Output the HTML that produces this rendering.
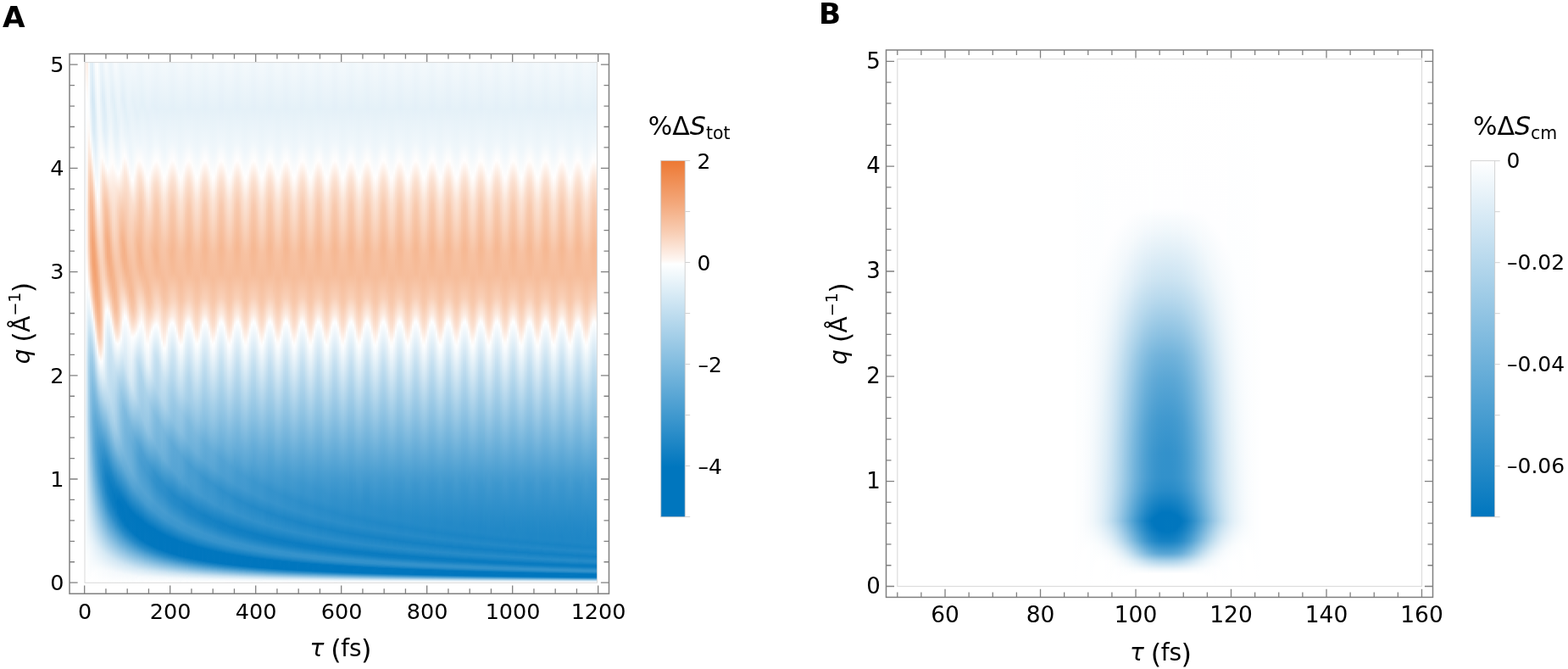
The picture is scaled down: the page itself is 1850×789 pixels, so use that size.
<!DOCTYPE html><html><head><meta charset="utf-8"><title>Figure</title><style>html,body{margin:0;padding:0;background:#fff;}#fig{position:relative;width:1850px;height:789px;overflow:hidden;background:#fff;}svg{position:absolute;left:0;top:0;display:block;}.h{position:absolute;}.h i{position:absolute;top:0;height:100%;width:2px;}</style></head><body><div id="fig"><div class="h" style="left:100px;top:73px;width:605px;height:615px"><i style="left:0px;background:linear-gradient(#fdf1ea,#fdfeff 35.5px,#f6fafd 114.5px,#ffffff 251.5px,#e9f3f9 409.5px,#f3f9fc 517.5px,#ffffff)"></i><i style="left:2px;background:linear-gradient(#fdefe7,#feffff 49.5px,#fdf8f5 110.5px,#fceadf 177.5px,#fdece3 223.5px,#fefefe 258.5px,#cde4f2 353.5px,#c8e1f1 421.5px,#d9ebf5 492.5px,#fcfefe 587.5px,#ffffff)"></i><i style="left:4px;background:linear-gradient(#f7fbfd,#fbfdfe 62.5px,#fef9f6 82.5px,#f9d4bd 139.5px,#f8caaf 173.5px,#f8cdb3 216.5px,#fbdecd 245.5px,#fbfdfe 274.5px,#bddcee 330.5px,#a8d1e9 364.5px,#a5cfe8 423.5px,#b9d9ed 477.5px,#f7fbfd 575.5px,#ffffff)"></i><i style="left:6px;background:linear-gradient(#e4f1f8,#e4f0f8 47.5px,#fbfcfc 91.5px,#fef5f0 101.5px,#f9d0b7 133.5px,#f6b995 164.5px,#f5b188 211.5px,#f6ba97 236.5px,#f9d0b7 258.5px,#fcece1 276.5px,#fdf7f4 282.5px,#f8fbfd 288.5px,#b6d8ec 329.5px,#98c8e5 357.5px,#89bfe1 394.5px,#88bfe1 432.5px,#9bc9e5 473.5px,#f1f7fb 571.5px,#ffffff 611.5px,#ffffff)"></i><i style="left:8px;background:linear-gradient(#e2eff8,#d5e8f4 43.5px,#e0eef7 79.5px,#fafcfd 109.5px,#fdf3ec 119.5px,#f9cfb6 144.5px,#f5b792 170.5px,#f3a374 213.5px,#f3a779 237.5px,#f5b58f 257.5px,#f9d0b8 277.5px,#fdefe7 291.5px,#fcf7f3 295.5px,#f6fafd 300.5px,#a2cde7 347.5px,#80bbdf 382.5px,#70b2db 421.5px,#78b6dd 459.5px,#9ac9e5 498.5px,#eaf4fa 568.5px,#fefeff 603.5px,#ffffff)"></i><i style="left:10px;background:linear-gradient(#f0f7fb,#d6e9f5 49.5px,#d9ebf5 84.5px,#f7fafd 122.5px,#fbfafa 128.5px,#fdf3ec 136.5px,#f9cfb6 162.5px,#f3a678 213.5px,#f2a06e 239.5px,#f3a779 258.5px,#f6ba97 278.5px,#fadac7 296.5px,#fcf5f1 307.5px,#f5f9fc 314.5px,#a4cee8 357.5px,#78b7dd 392.5px,#62abd7 423.5px,#61aad7 456.5px,#79b7dd 488.5px,#e7f2f9 570.5px,#fdfeff 602.5px,#ffffff)"></i><i style="left:12px;background:linear-gradient(#fdfdfe,#dfeef7 65.5px,#e2eff8 103.5px,#fcfcfc 144.5px,#fdf2eb 154.5px,#f9d1b9 185.5px,#f4ac81 225.5px,#f3a272 250.5px,#f4a97c 274.5px,#f6be9c 294.5px,#fbe3d5 314.5px,#fdf4ef 321.5px,#f5f9fc 329.5px,#8ec2e2 383.5px,#62abd7 417.5px,#51a2d3 450.5px,#5ba7d5 477.5px,#7db9de 506.5px,#e2eff8 570.5px,#fcfdfe 599.5px,#ffffff)"></i><i style="left:14px;background:linear-gradient(#fdfefe,#eaf4fa 91.5px,#f5f9fc 140.5px,#fefdfc 159.5px,#f5b28a 240.5px,#f3a87b 264.5px,#f4ad82 287.5px,#f6bd9a 305.5px,#faddcb 325.5px,#fdf6f2 336.5px,#f7fafd 342.5px,#7ab7dd 404.5px,#54a3d3 433.5px,#459bd0 458.5px,#4ea0d2 483.5px,#6fb2da 509.5px,#dfeef7 572.5px,#fbfdfe 599.5px,#ffffff)"></i><i style="left:16px;background:linear-gradient(#f3f9fc,#f4f9fc 86.5px,#fdfcfb 149.5px,#fef6f1 168.5px,#fad6c1 215.5px,#f5b792 257.5px,#f4b087 285.5px,#f5b792 305.5px,#f8ceb4 326.5px,#fcece2 342.5px,#fdfaf8 348.5px,#f9fcfe 351.5px,#70b2db 416.5px,#449acf 448.5px,#3a95cd 471.5px,#489dd0 494.5px,#78b6dd 523.5px,#dcecf6 573.5px,#f9fcfe 598.5px,#ffffff)"></i><i style="left:18px;background:linear-gradient(#ebf4fa,#e7f2f9 44.5px,#fefdfc 112.5px,#fcebe1 147.5px,#fad9c5 217.5px,#f7c09f 281.5px,#f7c1a1 305.5px,#f9d0b8 327.5px,#fce9dd 344.5px,#fefefe 353.5px,#b1d5eb 391.5px,#5fa9d6 430.5px,#3a95cd 455.5px,#3090ca 477.5px,#3c96cd 497.5px,#65acd8 522.5px,#daebf6 575.5px,#f9fcfd 598.5px,#ffffff)"></i><i style="left:20px;background:linear-gradient(#edf5fa,#deedf7 41.5px,#e8f3f9 79.5px,#fffdfc 112.5px,#fbe5d7 134.5px,#f9d5bf 163.5px,#f9d1b9 223.5px,#fad7c2 304.5px,#fbe5d7 331.5px,#fcfdfe 352.5px,#cde4f2 382.5px,#459bd0 447.5px,#2a8cc9 469.5px,#278bc8 489.5px,#3c96cd 509.5px,#75b5dc 536.5px,#d8eaf5 577.5px,#f8fbfd 598.5px,#ffffff)"></i><i style="left:22px;background:linear-gradient(#f4f9fc,#dcecf6 49.5px,#e2eff8 82.5px,#fefdfc 117.5px,#fadbc9 141.5px,#f8c7aa 166.5px,#f6bf9e 207.5px,#f8c9ad 237.5px,#fef4ee 303.5px,#f6fafd 339.5px,#ddedf6 372.5px,#b2d6eb 399.5px,#3894cc 456.5px,#1f87c6 477.5px,#1f86c6 495.5px,#3794cc 515.5px,#71b3db 540.5px,#d5e9f4 578.5px,#f7fafd 598.5px,#ffffff)"></i><i style="left:24px;background:linear-gradient(#f8fbfd,#dfeef7 63.5px,#e7f2f9 95.5px,#fefdfc 123.5px,#fad8c4 147.5px,#f7c1a1 170.5px,#f5b28a 206.5px,#f5b792 229.5px,#f8ccb2 255.5px,#fdefe6 283.5px,#fdfefe 294.5px,#e8f3f9 322.5px,#d2e7f3 377.5px,#b7d8ed 399.5px,#60aad7 440.5px,#288bc8 468.5px,#1581c3 488.5px,#1c85c5 505.5px,#3b96cd 524.5px,#87bee0 552.5px,#d7eaf5 581.5px,#f8fbfd 600.5px,#ffffff)"></i><i style="left:26px;background:linear-gradient(#f4f9fc,#e7f2f9 80.5px,#f5fafd 115.5px,#fffefd 127.5px,#fadac7 151.5px,#f7c1a1 176.5px,#f4ad82 210.5px,#f4ad83 230.5px,#f6bc9a 251.5px,#fbe0cf 277.5px,#fdfeff 292.5px,#dfeef7 317.5px,#cfe5f3 351.5px,#c7e1f1 387.5px,#afd4eb 407.5px,#70b2da 438.5px,#278bc8 471.5px,#117fc2 490.5px,#1481c3 507.5px,#3090ca 525.5px,#6fb1da 548.5px,#d3e7f4 581.5px,#f6fafd 599.5px,#ffffff)"></i><i style="left:28px;background:linear-gradient(#eef6fb,#ecf5fa 71.5px,#fdfefe 122.5px,#fefaf8 129.5px,#f8cdb4 174.5px,#f4ae85 216.5px,#f4ac82 238.5px,#f5b893 256.5px,#f9d1b9 276.5px,#fdf3ed 292.5px,#fdfbfb 296.5px,#f4f9fc 302.5px,#d3e7f4 328.5px,#c7e1f1 353.5px,#c1deef 394.5px,#a0cce7 420.5px,#69aed9 446.5px,#2188c6 478.5px,#0d7dc1 495.5px,#107fc2 511.5px,#2b8dc9 528.5px,#66add8 549.5px,#d1e6f3 582.5px,#f5f9fc 599.5px,#ffffff)"></i><i style="left:30px;background:linear-gradient(#edf5fa,#e5f1f8 42.5px,#fffdfc 120.5px,#f8c7aa 198.5px,#f5b189 230.5px,#f4af86 251.5px,#f6bf9d 272.5px,#fadbc8 290.5px,#fdf9f6 303.5px,#f9fcfd 307.5px,#cfe5f3 338.5px,#c3dff0 365.5px,#bcdbee 401.5px,#9fcce7 426.5px,#68aed8 452.5px,#1d86c5 484.5px,#0a7cc1 500.5px,#0e7ec2 516.5px,#298cc9 532.5px,#65acd8 552.5px,#d2e7f4 584.5px,#f5fafc 600.5px,#ffffff)"></i><i style="left:32px;background:linear-gradient(#f1f7fb,#e2eff7 41.5px,#ecf5fa 81.5px,#fffdfc 118.5px,#fcebe1 145.5px,#f9d5c0 195.5px,#f5b38b 245.5px,#f5b38c 266.5px,#f7c2a2 284.5px,#faddcc 301.5px,#fdf8f5 313.5px,#f8fbfd 318.5px,#cee5f3 348.5px,#bfddef 378.5px,#b4d7ec 412.5px,#9ac9e5 434.5px,#5ea8d6 461.5px,#1983c4 490.5px,#087ac0 506.5px,#0d7dc1 521.5px,#2c8dc9 537.5px,#71b2db 558.5px,#d1e6f3 585.5px,#f4f9fc 600.5px,#ffffff)"></i><i style="left:34px;background:linear-gradient(#f7fafd,#e0eff7 51.5px,#e8f3f9 87.5px,#fefdfc 123.5px,#fceadf 146.5px,#f9d4be 206.5px,#f5b68f 256.5px,#f5b68f 277.5px,#f7c3a4 295.5px,#fbe1d2 313.5px,#fdf9f6 323.5px,#fafcfe 327.5px,#cbe3f2 358.5px,#b9daed 386.5px,#abd2ea 424.5px,#90c3e3 444.5px,#4d9fd2 472.5px,#1682c4 495.5px,#0579bf 511.5px,#0c7cc1 525.5px,#2a8cc9 540.5px,#6eb1da 560.5px,#d0e6f3 586.5px,#f5f9fc 601.5px,#ffffff)"></i><i style="left:36px;background:linear-gradient(#f8fbfd,#e1eff7 66.5px,#ebf4fa 101.5px,#fefdfc 129.5px,#fce7db 149.5px,#fadac7 177.5px,#f8c9ae 232.5px,#f6b994 271.5px,#f6bc99 291.5px,#f8cdb4 308.5px,#fcece1 324.5px,#fdfdfd 331.5px,#c3dff0 366.5px,#b0d4eb 392.5px,#a3cde7 432.5px,#84bde0 453.5px,#2e8fca 487.5px,#0b7cc1 505.5px,#0378bf 520.5px,#1380c3 534.5px,#3b96cd 549.5px,#d3e7f4 588.5px,#f5fafd 602.5px,#ffffff)"></i><i style="left:38px;background:linear-gradient(#f4f9fc,#e5f1f8 82.5px,#f3f9fc 117.5px,#fffefe 132.5px,#fce6d8 150.5px,#f9d3bd 175.5px,#f8caaf 216.5px,#f7c2a2 288.5px,#f8ccb1 305.5px,#fbe2d3 321.5px,#fefaf8 331.5px,#fffffe 332.5px,#b8d9ed 372.5px,#a4cee8 396.5px,#99c8e5 438.5px,#7ebade 458.5px,#3f98ce 484.5px,#0f7ec2 504.5px,#0076be 518.5px,#0679c0 531.5px,#258ac7 545.5px,#68aed8 563.5px,#cfe5f3 588.5px,#f5f9fc 602.5px,#ffffff)"></i><i style="left:40px;background:linear-gradient(#f0f7fb,#e9f3f9 69.5px,#f3f8fc 113.5px,#fffefd 131.5px,#fadac7 159.5px,#f8c8ac 185.5px,#f7c09f 211.5px,#f9d3bc 298.5px,#fce6d9 318.5px,#fdfefe 331.5px,#aad1e9 379.5px,#96c7e4 404.5px,#90c3e3 443.5px,#78b6dc 463.5px,#3e97ce 487.5px,#0c7cc1 508.5px,#0076be 519.5px,#0478bf 534.5px,#2188c6 547.5px,#63abd7 564.5px,#cfe5f3 589.5px,#f4f9fc 602.5px,#ffffff)"></i><i style="left:42px;background:linear-gradient(#eff6fb,#e5f1f8 43.5px,#f8fbfd 110.5px,#fefdfc 124.5px,#f8ccb1 173.5px,#f5b893 207.5px,#f6b995 229.5px,#fceadf 305.5px,#fbfdfe 326.5px,#c3dff0 362.5px,#98c8e5 390.5px,#89c0e1 413.5px,#85bee0 450.5px,#6fb2da 469.5px,#3592cb 493.5px,#077ac0 513.5px,#0076be 522.5px,#0478bf 538.5px,#258ac7 551.5px,#6cb0da 568.5px,#cfe5f3 590.5px,#f3f8fc 602.5px,#ffffff 613.5px,#ffffff)"></i><i style="left:44px;background:linear-gradient(#f0f7fb,#e2eff8 44.5px,#f0f7fb 87.5px,#fefdfc 114.5px,#f8c9ad 176.5px,#f5b28a 213.5px,#f5b48d 233.5px,#f7c5a7 256.5px,#fdfcfc 307.5px,#e6f1f9 338.5px,#aed4ea 375.5px,#85bde0 406.5px,#80bbdf 429.5px,#7cb9de 458.5px,#65acd8 476.5px,#0579bf 516.5px,#0076be 526.5px,#0378bf 541.5px,#2389c7 553.5px,#69aed9 569.5px,#d0e6f3 591.5px,#f4f9fc 603.5px,#ffffff)"></i><i style="left:46px;background:linear-gradient(#f2f8fc,#e1eff7 51.5px,#edf5fa 86.5px,#fffefe 111.5px,#fce9de 129.5px,#f8ccb2 175.5px,#f5b189 221.5px,#f5b48d 242.5px,#f8c8ab 264.5px,#fdefe7 291.5px,#fefeff 300.5px,#d4e8f4 354.5px,#80bbdf 410.5px,#78b7dd 432.5px,#77b6dc 463.5px,#62abd7 480.5px,#0478bf 519.5px,#0076be 539.5px,#077ac0 546.5px,#2e8fca 558.5px,#94c5e4 579.5px,#d8eaf5 594.5px,#f7fbfd 605.5px,#ffffff)"></i><i style="left:48px;background:linear-gradient(#f3f8fc,#e2f0f8 62.5px,#eff7fb 95.5px,#fefdfd 114.5px,#fbe4d6 136.5px,#f9d2bb 167.5px,#f7c5a8 197.5px,#f5b48d 231.5px,#f5b690 250.5px,#f8caaf 272.5px,#fdf3ed 296.5px,#fdfeff 302.5px,#e7f2f9 332.5px,#d0e5f3 364.5px,#7db9de 415.5px,#74b4db 437.5px,#73b4db 468.5px,#5ea8d6 485.5px,#0377bf 522.5px,#0277be 546.5px,#268ac8 558.5px,#73b4db 574.5px,#cde4f2 592.5px,#f2f8fc 603.5px,#ffffff 613.5px,#ffffff)"></i><i style="left:50px;background:linear-gradient(#f2f8fc,#e5f1f8 72.5px,#f3f8fc 106.5px,#fefcfc 121.5px,#fbe1d2 146.5px,#f9d4be 172.5px,#f8c9ad 205.5px,#f5b690 245.5px,#f6bc99 264.5px,#f9cfb6 282.5px,#fef4ef 303.5px,#fdfdfe 309.5px,#e5f1f8 346.5px,#d1e6f3 371.5px,#9bcae6 401.5px,#7ab8dd 422.5px,#70b2db 444.5px,#70b2db 473.5px,#5ca7d5 489.5px,#0277be 525.5px,#0177be 548.5px,#2389c7 559.5px,#6cb0d9 574.5px,#cfe5f3 593.5px,#f4f9fc 604.5px,#ffffff)"></i><i style="left:52px;background:linear-gradient(#f2f8fc,#e7f2f9 62.5px,#eef6fb 105.5px,#fefcfc 130.5px,#fbe1d2 156.5px,#f9d5bf 184.5px,#f7c0a0 233.5px,#f5b893 256.5px,#f6be9c 275.5px,#f9d5be 294.5px,#fefbfa 316.5px,#f8fbfd 323.5px,#d7eaf5 373.5px,#afd4eb 397.5px,#7db9de 423.5px,#6db1da 443.5px,#6db1da 478.5px,#57a5d4 494.5px,#0176be 528.5px,#0378bf 551.5px,#288cc8 562.5px,#7bb8dd 578.5px,#d0e6f3 594.5px,#f3f9fc 604.5px,#ffffff 613.5px,#ffffff)"></i><i style="left:54px;background:linear-gradient(#f3f9fc,#e7f2f9 46.5px,#f0f7fb 113.5px,#fffdfc 138.5px,#fbe2d3 162.5px,#f9d2bb 192.5px,#f6be9d 245.5px,#f6b995 270.5px,#f7c4a5 288.5px,#faddcb 306.5px,#fdfeff 324.5px,#e7f2f9 353.5px,#d2e7f3 381.5px,#a4cee8 406.5px,#78b6dc 430.5px,#69aed9 448.5px,#6aafd9 482.5px,#54a3d4 498.5px,#0176be 530.5px,#0378bf 553.5px,#2a8cc9 564.5px,#81bbdf 580.5px,#d2e7f4 595.5px,#f5fafc 605.5px,#ffffff)"></i><i style="left:56px;background:linear-gradient(#f4f9fc,#e5f1f8 47.5px,#f5fafc 120.5px,#fffefe 139.5px,#fbddcc 170.5px,#f8caaf 205.5px,#f6bd9a 275.5px,#f7c6a9 293.5px,#fbdfce 310.5px,#fffbfa 323.5px,#fdfeff 325.5px,#e2eff8 351.5px,#cbe3f2 386.5px,#a3cee8 409.5px,#70b2da 436.5px,#63abd7 453.5px,#66add8 486.5px,#53a2d3 501.5px,#0176be 532.5px,#0377bf 555.5px,#278bc8 565.5px,#7bb8dd 580.5px,#cfe5f3 595.5px,#f4f9fc 605.5px,#ffffff)"></i><i style="left:58px;background:linear-gradient(#f4f9fc,#e4f0f8 54.5px,#f3f9fc 104.5px,#fefdfc 130.5px,#f8cdb3 189.5px,#f7c2a2 214.5px,#f7c5a8 284.5px,#f9d2bb 300.5px,#fdeee5 316.5px,#fdfeff 323.5px,#d8eaf5 350.5px,#bedcee 394.5px,#93c5e3 418.5px,#65acd8 443.5px,#5ca8d5 460.5px,#62abd7 489.5px,#52a2d3 503.5px,#1984c4 524.5px,#0076be 534.5px,#0378bf 557.5px,#2a8cc9 567.5px,#87bfe0 583.5px,#d6e9f5 597.5px,#f6fafd 606.5px,#ffffff)"></i><i style="left:60px;background:linear-gradient(#f2f8fc,#e4f0f8 60.5px,#f1f7fb 97.5px,#fefdfc 119.5px,#fbdfcf 155.5px,#f6bd9a 210.5px,#f6bd9a 233.5px,#f9d3bc 292.5px,#fce5d8 307.5px,#fdfefe 320.5px,#cbe3f2 351.5px,#bedcee 377.5px,#b3d6ec 399.5px,#8cc1e2 422.5px,#5da8d6 447.5px,#55a4d4 463.5px,#5ea8d6 493.5px,#4d9fd2 507.5px,#0076be 536.5px,#0176be 558.5px,#2389c7 567.5px,#75b5dc 581.5px,#cfe5f3 596.5px,#f3f8fc 605.5px,#ffffff 613.5px,#ffffff)"></i><i style="left:62px;background:linear-gradient(#f0f7fb,#e4f1f8 63.5px,#f1f7fb 97.5px,#fffdfc 116.5px,#fce6d9 135.5px,#f9cfb6 170.5px,#f5b690 218.5px,#f6ba96 240.5px,#fbe3d5 298.5px,#fef9f6 312.5px,#fbfdfe 317.5px,#bfdcef 355.5px,#b2d6eb 378.5px,#abd2ea 401.5px,#8dc2e2 422.5px,#58a5d4 450.5px,#4fa0d2 466.5px,#5aa6d5 496.5px,#4c9fd1 509.5px,#1883c4 528.5px,#0076be 537.5px,#0177be 560.5px,#2b8dc9 570.5px,#9dcae6 588.5px,#dbecf6 599.5px,#f9fcfe 608.5px,#ffffff)"></i><i style="left:64px;background:linear-gradient(#f0f7fb,#e5f1f8 55.5px,#eef6fb 94.5px,#fffdfc 116.5px,#fbe3d4 135.5px,#f8ceb4 162.5px,#f6be9c 199.5px,#f5b38c 226.5px,#f6ba96 247.5px,#fcece2 298.5px,#fefeff 311.5px,#dcecf6 336.5px,#b4d7ec 362.5px,#aad1e9 384.5px,#a4cee8 406.5px,#89c0e1 426.5px,#52a2d3 454.5px,#4a9ed1 469.5px,#57a5d4 500.5px,#479cd0 513.5px,#0076be 539.5px,#0377bf 562.5px,#2a8dc9 571.5px,#98c8e5 588.5px,#daebf5 599.5px,#f7fbfd 607.5px,#ffffff)"></i><i style="left:66px;background:linear-gradient(#f0f7fb,#e4f1f8 49.5px,#f0f7fb 96.5px,#fffdfd 118.5px,#fbdfce 141.5px,#f8ccb2 165.5px,#f6bb98 211.5px,#f5b58f 237.5px,#f6be9c 255.5px,#faddcb 284.5px,#fffdfc 307.5px,#e6f2f9 333.5px,#afd4eb 370.5px,#a6cfe8 393.5px,#9ac9e5 417.5px,#7ab7dd 436.5px,#4fa0d2 458.5px,#479cd0 473.5px,#55a4d4 502.5px,#479cd0 515.5px,#0076be 540.5px,#0177be 563.5px,#2a8cc9 572.5px,#94c5e4 588.5px,#d8eaf5 599.5px,#f6fafd 607.5px,#ffffff)"></i><i style="left:68px;background:linear-gradient(#f2f8fc,#e4f1f8 50.5px,#f2f8fc 101.5px,#fefdfd 122.5px,#fadac7 153.5px,#f8ccb2 177.5px,#f6b893 243.5px,#f7c09f 262.5px,#fadac6 285.5px,#fefdfc 312.5px,#e8f3f9 338.5px,#add3ea 379.5px,#98c7e5 422.5px,#78b7dd 440.5px,#4d9fd2 462.5px,#459bd0 477.5px,#54a3d3 505.5px,#479cd0 517.5px,#1380c3 535.5px,#0076be 542.5px,#0176be 564.5px,#298cc9 573.5px,#8fc3e2 588.5px,#d6e9f4 599.5px,#f6fafd 607.5px,#ffffff)"></i><i style="left:70px;background:linear-gradient(#f3f9fc,#e4f1f8 55.5px,#f5f9fc 109.5px,#fefdfc 129.5px,#fad9c6 165.5px,#f7c6a8 213.5px,#f6ba96 252.5px,#f7c3a4 272.5px,#fefcfa 321.5px,#f9fcfd 332.5px,#d8eaf5 358.5px,#aed4ea 385.5px,#96c7e4 427.5px,#73b4db 446.5px,#4b9ed1 466.5px,#449acf 480.5px,#53a3d3 508.5px,#459bd0 520.5px,#0076be 544.5px,#0378bf 566.5px,#2f8fca 575.5px,#cee5f3 598.5px,#f3f8fc 606.5px,#ffffff 613.5px,#ffffff)"></i><i style="left:72px;background:linear-gradient(#f4f9fc,#e5f1f8 60.5px,#f4f9fc 112.5px,#fffdfc 136.5px,#fadac7 175.5px,#f8c8ab 215.5px,#f6bb97 258.5px,#f7c2a2 277.5px,#fefdfd 332.5px,#e8f3f9 355.5px,#acd3ea 391.5px,#94c5e4 432.5px,#69afd9 453.5px,#479cd0 471.5px,#429acf 485.5px,#53a2d3 510.5px,#459bd0 522.5px,#0076be 545.5px,#0377bf 567.5px,#3090ca 576.5px,#cce4f2 598.5px,#f2f8fc 606.5px,#ffffff 613.5px,#ffffff)"></i><i style="left:74px;background:linear-gradient(#f4f9fc,#e5f1f8 62.5px,#f1f7fb 107.5px,#fffefe 137.5px,#f9d4be 189.5px,#f7c6a8 219.5px,#f6bc99 266.5px,#f7c5a7 285.5px,#fefefe 333.5px,#e8f3f9 358.5px,#a8d0e9 396.5px,#9ac9e5 422.5px,#8bc1e2 439.5px,#459bd0 473.5px,#3f98ce 487.5px,#51a2d3 512.5px,#469cd0 523.5px,#1b84c5 538.5px,#0076be 547.5px,#0277bf 568.5px,#2a8dc9 576.5px,#98c8e5 591.5px,#dbecf6 601.5px,#f7fbfd 608.5px,#ffffff)"></i><i style="left:76px;background:linear-gradient(#f3f9fc,#e6f1f9 57.5px,#eef6fb 100.5px,#fefdfd 131.5px,#fad9c6 179.5px,#f7c4a6 214.5px,#f7c09f 272.5px,#f8caae 290.5px,#fce8dc 311.5px,#fdfcfc 324.5px,#e0eef7 362.5px,#9fcbe7 402.5px,#8cc1e2 438.5px,#6bb0d9 456.5px,#4299cf 476.5px,#3c96cd 489.5px,#50a1d2 514.5px,#459bd0 525.5px,#1c85c5 539.5px,#0076be 548.5px,#0277be 569.5px,#2b8dc9 577.5px,#cee4f2 599.5px,#f1f7fb 606.5px,#ffffff 613.5px,#ffffff)"></i><i style="left:78px;background:linear-gradient(#f3f8fc,#e5f1f8 52.5px,#eff6fb 99.5px,#fefdfc 125.5px,#fce5d8 149.5px,#f6bf9e 217.5px,#f7c1a0 250.5px,#f8c9ad 283.5px,#fadac7 299.5px,#fdfefe 318.5px,#e2eff8 345.5px,#cde4f2 371.5px,#95c6e4 407.5px,#85bde0 442.5px,#64acd7 460.5px,#3d97ce 479.5px,#3894cc 492.5px,#4da0d2 516.5px,#439acf 527.5px,#1a84c5 541.5px,#0076be 549.5px,#0177be 570.5px,#2c8ec9 578.5px,#cbe3f2 599.5px,#f0f7fb 606.5px,#ffffff 613.5px,#ffffff)"></i><i style="left:80px;background:linear-gradient(#f2f8fc,#e4f1f8 52.5px,#f1f8fb 99.5px,#fffefd 120.5px,#fbe1d2 144.5px,#f9d0b7 171.5px,#f6b995 223.5px,#f7c09f 250.5px,#f9d4bd 288.5px,#fce7da 302.5px,#fdfeff 313.5px,#d6e9f5 342.5px,#c0ddef 376.5px,#8bc1e1 412.5px,#7db9de 446.5px,#5fa9d6 463.5px,#3894cc 482.5px,#3492cb 494.5px,#4b9ed1 518.5px,#4199cf 529.5px,#1782c4 543.5px,#0076be 550.5px,#0177be 571.5px,#2d8eca 579.5px,#d0e6f3 600.5px,#f3f9fc 607.5px,#ffffff 613.5px,#ffffff)"></i><i style="left:82px;background:linear-gradient(#f1f7fb,#e4f0f8 54.5px,#f2f8fc 97.5px,#fffefe 117.5px,#faddcb 144.5px,#f8cbb0 168.5px,#f5b690 226.5px,#f6bd9b 249.5px,#faddcb 291.5px,#fdf1ea 304.5px,#fdfeff 310.5px,#cae3f2 345.5px,#b6d8ed 381.5px,#84bde0 416.5px,#77b6dc 450.5px,#58a5d4 467.5px,#3492cb 485.5px,#3291cb 497.5px,#499dd1 520.5px,#4199cf 530.5px,#1c85c5 543.5px,#0076be 551.5px,#0177be 572.5px,#2f8fca 580.5px,#cee5f2 600.5px,#f3f8fc 607.5px,#ffffff 613.5px,#ffffff)"></i><i style="left:84px;background:linear-gradient(#f0f7fb,#e4f0f8 56.5px,#f1f8fc 96.5px,#fffefe 116.5px,#fbddcc 143.5px,#f8c9ad 169.5px,#f5b690 229.5px,#f6bc9a 251.5px,#fbe0d1 291.5px,#fef6f1 305.5px,#feffff 309.5px,#c5e0f0 349.5px,#b1d5eb 386.5px,#80bbdf 419.5px,#72b3db 454.5px,#52a2d3 471.5px,#3191cb 488.5px,#3090ca 500.5px,#489dd0 522.5px,#4098ce 532.5px,#1983c4 545.5px,#0076be 553.5px,#0277be 573.5px,#2a8cc9 580.5px,#cce4f2 600.5px,#f2f8fc 607.5px,#ffffff 613.5px,#ffffff)"></i><i style="left:86px;background:linear-gradient(#f1f7fb,#e4f1f8 56.5px,#f0f7fb 95.5px,#fffefd 118.5px,#fbdecc 147.5px,#f8caae 174.5px,#f6b994 232.5px,#f6bd9a 253.5px,#fad7c2 283.5px,#fdf4ee 306.5px,#fdfefe 313.5px,#c6e0f0 353.5px,#b0d4eb 391.5px,#7fbade 422.5px,#6fb2da 458.5px,#4c9fd1 476.5px,#2f90ca 491.5px,#3090ca 503.5px,#489cd0 524.5px,#3f98ce 534.5px,#1782c4 547.5px,#0076be 554.5px,#0277bf 574.5px,#2c8ec9 581.5px,#cae2f1 600.5px,#f2f8fc 607.5px,#ffffff 613.5px,#ffffff)"></i><i style="left:88px;background:linear-gradient(#f2f8fc,#e5f1f8 55.5px,#eff6fb 96.5px,#fefdfd 122.5px,#fadbc8 159.5px,#f7c5a7 201.5px,#f6bb98 249.5px,#f8c8ab 272.5px,#fef6f2 315.5px,#fbfdfe 323.5px,#cae2f1 359.5px,#b2d6eb 394.5px,#7fbade 426.5px,#6eb1da 461.5px,#4a9ed1 479.5px,#2f8fca 493.5px,#2f8fca 505.5px,#479cd0 526.5px,#3e97ce 536.5px,#1481c3 549.5px,#0076be 555.5px,#0076be 574.5px,#2087c6 580.5px,#72b3db 590.5px,#cfe5f3 601.5px,#f1f7fb 607.5px,#ffffff 613.5px,#ffffff)"></i><i style="left:90px;background:linear-gradient(#f3f9fc,#e5f1f8 54.5px,#eff6fb 100.5px,#fefdfc 129.5px,#fbdecc 167.5px,#f7c5a8 212.5px,#f6bc9a 254.5px,#f7c5a8 275.5px,#fdf3ed 323.5px,#fcfefe 331.5px,#cbe3f2 367.5px,#b3d6ec 398.5px,#7ebade 430.5px,#75b5dc 453.5px,#67aed8 468.5px,#3090ca 494.5px,#2d8eca 505.5px,#479cd0 528.5px,#3f98ce 537.5px,#1983c4 549.5px,#0076be 556.5px,#0076be 575.5px,#2a8dc9 582.5px,#cde4f2 601.5px,#f0f7fb 607.5px,#ffffff 613.5px,#ffffff)"></i><i style="left:92px;background:linear-gradient(#f4f9fc,#e5f1f8 55.5px,#f0f7fb 106.5px,#fffefd 135.5px,#fce6d9 163.5px,#f7c6a9 215.5px,#f6bc9a 258.5px,#f7c4a6 279.5px,#fdf2ec 329.5px,#fdfefe 337.5px,#c9e2f1 373.5px,#afd4eb 403.5px,#7bb8dd 434.5px,#6bb0d9 467.5px,#489dd0 484.5px,#2e8fca 497.5px,#2d8eca 508.5px,#479cd0 529.5px,#3f98ce 538.5px,#1d86c5 549.5px,#0076be 557.5px,#0177be 576.5px,#2d8ec9 583.5px,#cce3f2 601.5px,#f0f7fb 607.5px,#ffffff 613.5px,#ffffff)"></i><i style="left:94px;background:linear-gradient(#f4f9fc,#e5f1f8 56.5px,#f0f7fb 108.5px,#fffefd 135.5px,#fce8dc 159.5px,#f7c4a6 219.5px,#f6be9c 262.5px,#f7c6a8 283.5px,#fef8f5 332.5px,#fdfefe 337.5px,#c3dff0 378.5px,#abd2e9 407.5px,#77b6dc 438.5px,#68aed9 470.5px,#449bcf 487.5px,#2c8ec9 500.5px,#2d8ec9 511.5px,#469cd0 531.5px,#3e97ce 540.5px,#1682c4 552.5px,#0076be 558.5px,#0277bf 577.5px,#3090ca 584.5px,#cae2f1 601.5px,#eff7fb 607.5px,#fefeff 612.5px,#ffffff)"></i><i style="left:96px;background:linear-gradient(#f3f9fc,#e5f1f8 57.5px,#f2f8fc 106.5px,#fefdfc 130.5px,#fbe2d3 159.5px,#f7c0a0 222.5px,#f7c0a0 263.5px,#f8c9ad 284.5px,#fbe4d6 306.5px,#fdfbf9 324.5px,#f9fcfd 333.5px,#d7e9f5 360.5px,#b9daed 383.5px,#a4cee8 410.5px,#70b2db 442.5px,#65acd8 472.5px,#449bcf 488.5px,#2a8cc9 502.5px,#2b8dc9 513.5px,#459bcf 532.5px,#3d97ce 541.5px,#1a84c5 552.5px,#0076be 559.5px,#0076be 577.5px,#2489c7 583.5px,#7ebade 593.5px,#d0e6f3 602.5px,#f3f9fc 608.5px,#ffffff 613.5px,#ffffff)"></i><i style="left:98px;background:linear-gradient(#f2f8fc,#e5f1f8 56.5px,#f1f7fb 99.5px,#fefdfc 123.5px,#fadcca 156.5px,#f6bd9b 221.5px,#f6bf9e 250.5px,#f8ccb2 282.5px,#fbe1d2 299.5px,#fdfcfc 314.5px,#d1e6f3 359.5px,#b0d5eb 385.5px,#9bcae6 414.5px,#6aafd9 445.5px,#60a9d6 475.5px,#3f98ce 491.5px,#278bc8 504.5px,#298cc9 515.5px,#439acf 534.5px,#3b96cd 543.5px,#117fc2 555.5px,#0076be 560.5px,#0176be 578.5px,#278bc8 584.5px,#8ec3e2 595.5px,#d5e9f4 603.5px,#f7fafd 609.5px,#ffffff)"></i><i style="left:100px;background:linear-gradient(#f1f7fb,#e4f1f8 54.5px,#eff7fb 94.5px,#fffdfd 118.5px,#fbdecd 146.5px,#f8cbb1 172.5px,#f6b994 226.5px,#f6bf9e 252.5px,#f9d3bc 284.5px,#fce8dc 299.5px,#fdfeff 309.5px,#daebf5 341.5px,#bbdaee 370.5px,#a5cfe8 392.5px,#93c5e4 418.5px,#64acd8 447.5px,#5ca7d5 477.5px,#3f98ce 492.5px,#258ac7 506.5px,#288bc8 517.5px,#4299cf 535.5px,#3a95cd 544.5px,#1581c3 555.5px,#0076be 561.5px,#0277bf 579.5px,#2b8dc9 585.5px,#cce4f2 602.5px,#f2f8fc 608.5px,#ffffff 613.5px,#ffffff)"></i><i style="left:102px;background:linear-gradient(#f0f7fb,#e4f0f8 54.5px,#f0f7fb 94.5px,#fffdfc 116.5px,#fbe0d1 140.5px,#f8c9ad 170.5px,#f5b792 223.5px,#f6bc99 249.5px,#fad6c1 284.5px,#fcece2 299.5px,#fefeff 307.5px,#d4e8f4 339.5px,#b8d9ed 370.5px,#a0cce7 394.5px,#8dc2e2 422.5px,#60a9d6 450.5px,#58a5d5 480.5px,#3693cc 497.5px,#2288c7 509.5px,#288cc8 520.5px,#4199cf 536.5px,#3a95cd 545.5px,#1581c3 556.5px,#0076be 562.5px,#0076be 579.5px,#1f86c6 584.5px,#69aed9 592.5px,#cbe3f2 602.5px,#f2f8fc 608.5px,#ffffff 613.5px,#ffffff)"></i><i style="left:104px;background:linear-gradient(#f1f7fb,#e4f0f8 54.5px,#f0f7fb 95.5px,#fffefe 116.5px,#fbe3d5 138.5px,#f8caaf 170.5px,#f6b995 218.5px,#f6bb97 247.5px,#f9d5bf 282.5px,#fdece3 300.5px,#fefefe 308.5px,#d0e6f3 344.5px,#b9d9ed 372.5px,#9bc9e6 400.5px,#8ac0e1 425.5px,#5da8d6 453.5px,#57a5d4 482.5px,#3592cb 499.5px,#2188c6 511.5px,#268bc8 521.5px,#4199cf 538.5px,#3a95cd 546.5px,#1983c4 556.5px,#0076be 562.5px,#0176be 580.5px,#2b8dc9 586.5px,#c9e2f1 602.5px,#f1f8fc 608.5px,#ffffff 613.5px,#ffffff)"></i><i style="left:106px;background:linear-gradient(#f1f8fc,#e4f1f8 55.5px,#f1f7fb 98.5px,#fffdfc 120.5px,#fbe1d2 145.5px,#f8ccb2 177.5px,#f6bc9a 219.5px,#f6bd9a 251.5px,#f9d1b9 280.5px,#fcebe1 303.5px,#fdfdfd 314.5px,#d3e7f4 348.5px,#bcdbee 375.5px,#9ac9e5 404.5px,#89c0e1 429.5px,#5da8d6 455.5px,#56a4d4 484.5px,#3693cc 500.5px,#2188c7 512.5px,#258ac8 522.5px,#4199ce 539.5px,#3a95cd 547.5px,#1983c4 557.5px,#0076be 563.5px,#0076be 580.5px,#1782c4 584.5px,#56a4d4 591.5px,#c7e1f1 602.5px,#f1f7fb 608.5px,#ffffff 613.5px,#ffffff)"></i><i style="left:108px;background:linear-gradient(#f3f8fc,#e5f1f8 56.5px,#f1f8fb 102.5px,#fefdfd 125.5px,#fbe0cf 157.5px,#f7c2a2 214.5px,#f6bd9b 252.5px,#f8caaf 277.5px,#fce8db 308.5px,#fcfdfe 323.5px,#daebf6 352.5px,#c0ddef 379.5px,#9ccae6 406.5px,#8bc1e1 431.5px,#5ca7d5 458.5px,#56a4d4 486.5px,#3693cc 502.5px,#2188c6 514.5px,#268ac8 524.5px,#4099ce 540.5px,#3b96cd 548.5px,#1883c4 558.5px,#0076be 564.5px,#0076be 581.5px,#2c8dc9 587.5px,#cee5f3 603.5px,#f0f7fb 608.5px,#ffffff 613.5px,#ffffff)"></i><i style="left:110px;background:linear-gradient(#f4f9fc,#e5f1f8 56.5px,#f0f7fb 105.5px,#fffdfc 133.5px,#fbe3d5 162.5px,#f7c3a4 220.5px,#f6bd9b 256.5px,#f8c8ab 280.5px,#fce6da 316.5px,#fcfdfe 331.5px,#dbecf6 360.5px,#c0ddef 384.5px,#9dcae6 408.5px,#8ac0e1 434.5px,#5ca7d5 460.5px,#59a6d5 478.5px,#51a2d3 491.5px,#2288c7 514.5px,#2489c7 524.5px,#4098ce 541.5px,#3b96cd 549.5px,#1c85c5 558.5px,#0076be 565.5px,#0378bf 582.5px,#3190ca 588.5px,#cde4f2 603.5px,#f0f7fb 608.5px,#ffffff 613.5px,#ffffff)"></i><i style="left:112px;background:linear-gradient(#f4f9fc,#e5f1f8 57.5px,#f0f7fb 107.5px,#fffdfc 137.5px,#fbe4d5 166.5px,#f7c3a3 224.5px,#f6bd9b 258.5px,#f7c6a9 282.5px,#fce6da 320.5px,#fef9f6 331.5px,#fefeff 334.5px,#d9ebf5 365.5px,#bbdbee 389.5px,#9bc9e6 411.5px,#89c0e1 436.5px,#5aa6d5 463.5px,#54a3d3 490.5px,#3995cc 504.5px,#2188c6 516.5px,#2389c7 525.5px,#4099ce 543.5px,#3894cc 551.5px,#1380c3 561.5px,#0076be 566.5px,#0076be 582.5px,#2489c7 587.5px,#82bcdf 596.5px,#d4e8f4 604.5px,#f4f9fc 609.5px,#ffffff)"></i><i style="left:114px;background:linear-gradient(#f4f9fc,#e5f1f8 56.5px,#f0f7fb 104.5px,#fffdfc 134.5px,#fbe2d3 165.5px,#f7c1a1 225.5px,#f6be9d 259.5px,#f8c7aa 282.5px,#fdf1e9 324.5px,#fdfefe 333.5px,#d4e8f4 366.5px,#b8d9ed 391.5px,#97c7e4 414.5px,#86bee0 438.5px,#57a5d4 465.5px,#55a4d4 483.5px,#4d9fd2 496.5px,#2187c6 517.5px,#2188c6 526.5px,#4098ce 544.5px,#3894cc 552.5px,#1280c3 562.5px,#0076be 566.5px,#0377bf 583.5px,#3391cb 589.5px,#c9e2f1 603.5px,#eff6fb 608.5px,#ffffff 613.5px,#ffffff)"></i><i style="left:116px;background:linear-gradient(#f3f8fc,#e5f1f8 55.5px,#f0f7fb 100.5px,#fefdfc 127.5px,#fbdecc 161.5px,#f6bf9e 224.5px,#f7c09f 256.5px,#f8caaf 281.5px,#fce6d9 305.5px,#fdfbf9 322.5px,#f7fbfd 330.5px,#cae2f1 368.5px,#b0d5eb 394.5px,#90c3e3 417.5px,#80bbdf 441.5px,#53a2d3 467.5px,#52a2d3 484.5px,#4b9fd1 497.5px,#1e86c6 519.5px,#2188c6 528.5px,#3f98ce 545.5px,#3995cd 552.5px,#1a84c5 561.5px,#0076be 567.5px,#0076be 583.5px,#258ac7 588.5px,#87bfe0 597.5px,#d1e6f3 604.5px,#f4f9fc 609.5px,#ffffff 613.5px,#ffffff)"></i><i style="left:118px;background:linear-gradient(#f2f8fc,#e5f1f8 55.5px,#f1f7fb 98.5px,#fefdfd 120.5px,#fbdfcf 149.5px,#f8ccb1 180.5px,#f6bb98 226.5px,#f7c09f 254.5px,#f9ceb5 281.5px,#fce6d9 299.5px,#fefbfa 310.5px,#f9fcfd 317.5px,#bedcee 371.5px,#a9d1e9 396.5px,#88bfe1 420.5px,#79b7dd 444.5px,#4ea0d2 470.5px,#4c9fd1 496.5px,#3391cb 509.5px,#1c85c5 521.5px,#2187c6 530.5px,#3e97ce 546.5px,#3994cc 553.5px,#1883c4 562.5px,#0076be 568.5px,#0377bf 584.5px,#3592cb 590.5px,#c6e1f1 603.5px,#eef6fb 608.5px,#fdfeff 612.5px,#ffffff)"></i><i style="left:120px;background:linear-gradient(#f1f7fb,#e4f0f8 54.5px,#f0f7fb 95.5px,#fffdfd 117.5px,#fbe2d2 140.5px,#f8cbb0 170.5px,#f6b994 220.5px,#f6bc99 248.5px,#f9d1b9 280.5px,#fce8dd 297.5px,#fdfeff 307.5px,#b6d8ec 372.5px,#a5cfe8 397.5px,#83bcdf 422.5px,#73b4db 447.5px,#4a9ed1 472.5px,#4a9ed1 498.5px,#3090ca 511.5px,#1b85c5 522.5px,#1f87c6 531.5px,#3d97ce 547.5px,#3894cc 554.5px,#1782c4 563.5px,#0076be 568.5px,#0076be 584.5px,#278bc8 589.5px,#99c8e5 599.5px,#d7eaf5 605.5px,#f7fbfd 610.5px,#ffffff)"></i><i style="left:122px;background:linear-gradient(#f0f7fb,#e4f0f8 54.5px,#f0f7fb 94.5px,#fffefd 116.5px,#fbe1d1 139.5px,#f8caae 169.5px,#f6b893 217.5px,#f6bb98 247.5px,#f9d2bb 280.5px,#fceadf 297.5px,#fefeff 306.5px,#b5d7ec 370.5px,#a2cde7 399.5px,#7fbade 425.5px,#6fb2da 450.5px,#479cd0 474.5px,#489dd0 500.5px,#2b8dc9 514.5px,#1a84c5 524.5px,#2087c6 533.5px,#3d97cd 548.5px,#3794cc 555.5px,#1582c3 564.5px,#0076be 569.5px,#0076be 584.5px,#1280c3 587.5px,#4ea0d2 593.5px,#c3dff0 603.5px,#edf5fa 608.5px,#fdfeff 612.5px,#ffffff)"></i><i style="left:124px;background:linear-gradient(#f1f7fb,#e4f1f8 54.5px,#f0f7fb 95.5px,#fffdfc 118.5px,#fbe0d0 143.5px,#f8cbb0 172.5px,#f6ba96 218.5px,#f6bd9a 250.5px,#f9d2bb 281.5px,#fceadf 299.5px,#fdfeff 309.5px,#b2d5eb 378.5px,#a1cce7 402.5px,#7ebade 428.5px,#6db1da 453.5px,#469cd0 476.5px,#499dd1 493.5px,#449bcf 504.5px,#1b84c5 524.5px,#1d86c5 533.5px,#3d97cd 549.5px,#3793cc 556.5px,#1481c3 565.5px,#0177be 569.5px,#0176be 585.5px,#2a8cc9 590.5px,#cce3f2 604.5px,#f2f8fc 609.5px,#ffffff 613.5px,#ffffff)"></i><i style="left:126px;background:linear-gradient(#f2f8fc,#e5f1f8 55.5px,#f0f7fb 98.5px,#fefdfc 122.5px,#fbdfce 152.5px,#f7c5a6 199.5px,#f6bc99 233.5px,#f7c09f 257.5px,#f9d2bb 285.5px,#fce9de 304.5px,#fdfcfb 315.5px,#f2f8fc 325.5px,#b1d5eb 387.5px,#9ccae6 409.5px,#7ebade 431.5px,#6db1da 455.5px,#469cd0 478.5px,#489dd0 494.5px,#459bd0 505.5px,#1a84c5 526.5px,#1f86c6 535.5px,#3d97cd 550.5px,#3793cc 557.5px,#1380c3 566.5px,#0076be 570.5px,#0076be 585.5px,#1d85c5 589.5px,#6bb0d9 596.5px,#cae3f2 604.5px,#f2f8fc 609.5px,#ffffff 613.5px,#ffffff)"></i><i style="left:128px;background:linear-gradient(#f3f9fc,#e5f1f8 56.5px,#f0f7fb 102.5px,#fefdfc 129.5px,#fbdfcf 162.5px,#f7c1a1 221.5px,#f6be9c 254.5px,#f8cbb0 282.5px,#fbe1d1 306.5px,#fef7f3 320.5px,#fafdfe 327.5px,#cae3f1 370.5px,#afd4eb 396.5px,#93c5e3 418.5px,#7bb8dd 438.5px,#6cb0da 458.5px,#469cd0 480.5px,#489dd0 495.5px,#469cd0 506.5px,#1a84c5 527.5px,#1d86c5 535.5px,#3d97cd 551.5px,#3693cc 558.5px,#117fc2 567.5px,#0076be 571.5px,#0277be 586.5px,#2d8eca 591.5px,#c9e2f1 604.5px,#f1f8fc 609.5px,#ffffff 613.5px,#ffffff)"></i><i style="left:130px;background:linear-gradient(#f4f9fc,#e5f1f8 56.5px,#f0f7fb 105.5px,#fffefd 135.5px,#fbe2d4 166.5px,#f7c2a2 225.5px,#f6bd9b 256.5px,#f8c9ac 284.5px,#fbe0cf 312.5px,#fefaf7 328.5px,#fdfefe 332.5px,#cfe5f3 371.5px,#b1d5eb 396.5px,#97c7e5 418.5px,#7cb8dd 439.5px,#6cb0da 460.5px,#459bd0 482.5px,#489dd0 497.5px,#459bd0 508.5px,#1a84c5 528.5px,#1d85c5 536.5px,#3d97cd 552.5px,#3593cc 559.5px,#0f7ec2 568.5px,#0176be 571.5px,#0076be 586.5px,#2a8dc9 591.5px,#c7e1f1 604.5px,#f1f8fb 609.5px,#ffffff 613.5px,#ffffff)"></i><i style="left:132px;background:linear-gradient(#f4f9fc,#e5f1f8 57.5px,#f0f7fb 107.5px,#fffefd 136.5px,#fbe4d6 165.5px,#f7c2a2 226.5px,#f6bd9b 257.5px,#f8c8ab 284.5px,#fbe2d3 315.5px,#fef9f5 329.5px,#feffff 332.5px,#cde4f2 374.5px,#aed4ea 399.5px,#94c6e4 421.5px,#79b7dd 441.5px,#6aafd9 462.5px,#449bcf 483.5px,#459bd0 496.5px,#469bd0 508.5px,#2a8dc9 521.5px,#1983c4 531.5px,#2087c6 539.5px,#3c96cd 552.5px,#3794cc 559.5px,#1883c4 567.5px,#0076be 572.5px,#0076be 586.5px,#1380c3 589.5px,#55a4d4 595.5px,#c6e0f0 604.5px,#f1f7fb 609.5px,#ffffff 613.5px,#ffffff)"></i><i style="left:134px;background:linear-gradient(#f3f9fc,#e5f1f8 56.5px,#f0f7fb 104.5px,#fefdfc 131.5px,#fbe0d0 164.5px,#f7c1a0 225.5px,#f6be9d 256.5px,#f8c8ac 281.5px,#fce8dd 314.5px,#fcfefe 329.5px,#bfddef 381.5px,#90c3e3 423.5px,#75b5dc 443.5px,#67add8 464.5px,#4199cf 485.5px,#439acf 498.5px,#449acf 510.5px,#1883c4 531.5px,#1d86c5 539.5px,#3c96cd 553.5px,#3693cc 560.5px,#1582c3 568.5px,#0177be 572.5px,#0176be 587.5px,#2e8fca 592.5px,#c4dff0 604.5px,#eaf4fa 608.5px,#fdfeff 612.5px,#ffffff)"></i><i style="left:136px;background:linear-gradient(#f2f8fc,#e5f1f8 55.5px,#f0f7fb 99.5px,#fefdfc 124.5px,#fbdfcf 154.5px,#f7c3a4 207.5px,#f6bc9a 239.5px,#f7c7aa 273.5px,#faddcb 296.5px,#fdfbfa 318.5px,#f7fbfd 325.5px,#d2e7f3 358.5px,#9ecbe6 408.5px,#83bcdf 430.5px,#6eb1da 447.5px,#62abd7 466.5px,#3e97ce 487.5px,#4199cf 500.5px,#429acf 511.5px,#268ac8 524.5px,#1782c4 533.5px,#1e86c6 541.5px,#3b96cd 554.5px,#3794cc 560.5px,#1d86c5 567.5px,#0076be 573.5px,#0076be 587.5px,#2087c6 591.5px,#76b5dc 598.5px,#cee5f2 605.5px,#f0f7fb 609.5px,#ffffff 613.5px,#ffffff)"></i><i style="left:138px;background:linear-gradient(#f1f8fb,#e4f1f8 54.5px,#f0f7fb 96.5px,#fffdfc 119.5px,#fbe0d1 144.5px,#f8ccb2 173.5px,#f6ba97 221.5px,#f6be9c 251.5px,#f9cfb6 279.5px,#fce8dc 298.5px,#fdfdfe 310.5px,#c7e1f1 358.5px,#a6cfe8 393.5px,#85bee0 427.5px,#6aafd9 447.5px,#5ea9d6 468.5px,#3b96cd 489.5px,#4199ce 512.5px,#288bc8 524.5px,#1682c3 534.5px,#1d86c5 542.5px,#3b96cd 555.5px,#3693cc 561.5px,#1b85c5 568.5px,#0177be 573.5px,#0377bf 588.5px,#3391cb 593.5px,#cde4f2 605.5px,#f0f7fb 609.5px,#ffffff 613.5px,#ffffff)"></i><i style="left:140px;background:linear-gradient(#f0f7fb,#e4f0f8 54.5px,#f0f7fb 95.5px,#fffefe 116.5px,#fbe2d4 138.5px,#f8caaf 168.5px,#f6b893 217.5px,#f6bc99 248.5px,#f9d1b9 279.5px,#fcebe0 297.5px,#fefeff 306.5px,#c1deef 358.5px,#a4cee8 392.5px,#80bbdf 430.5px,#66add8 449.5px,#5ba7d5 470.5px,#3995cd 490.5px,#3d97ce 503.5px,#3f98ce 514.5px,#1581c3 534.5px,#1b84c5 542.5px,#3a95cd 556.5px,#3593cc 562.5px,#1481c3 570.5px,#0076be 574.5px,#0076be 588.5px,#3090ca 593.5px,#cbe3f2 605.5px,#eff6fb 609.5px,#ffffff 613.5px,#ffffff)"></i><i style="left:142px;background:linear-gradient(#f1f7fb,#e4f0f8 54.5px,#f0f7fb 95.5px,#fffefe 116.5px,#fbe2d3 139.5px,#f8caaf 169.5px,#f6b893 218.5px,#f6bc99 249.5px,#f9d1b9 279.5px,#fceadf 297.5px,#fefefe 306.5px,#bfddef 361.5px,#a3cee8 394.5px,#8dc2e2 418.5px,#76b5dc 437.5px,#63abd7 453.5px,#59a6d5 472.5px,#3794cc 492.5px,#3f98ce 514.5px,#2a8cc9 525.5px,#1581c3 535.5px,#1a84c5 543.5px,#3a95cd 556.5px,#3793cc 562.5px,#1c85c5 569.5px,#0177be 574.5px,#0076be 588.5px,#1782c4 591.5px,#60a9d6 597.5px,#cae3f1 605.5px,#eff6fb 609.5px,#ffffff 613.5px,#ffffff)"></i><i style="left:144px;background:linear-gradient(#f1f8fc,#e4f1f8 54.5px,#f0f7fb 96.5px,#fffdfd 119.5px,#fbdfce 147.5px,#f8ccb1 176.5px,#f6bb98 221.5px,#f6be9c 252.5px,#f9d0b7 280.5px,#fce7db 299.5px,#fdfcfc 310.5px,#daebf6 342.5px,#badaed 376.5px,#90c4e3 416.5px,#7db9de 435.5px,#64acd7 453.5px,#5aa6d5 473.5px,#3894cc 493.5px,#3c96cd 506.5px,#3d97ce 517.5px,#1581c3 536.5px,#1b84c5 544.5px,#3a95cd 557.5px,#3693cc 563.5px,#1984c4 570.5px,#0076be 575.5px,#0377bf 589.5px,#3593cc 594.5px,#c9e2f1 605.5px,#eef6fb 609.5px,#ffffff 613.5px,#ffffff)"></i><i style="left:146px;background:linear-gradient(#f3f8fc,#e5f1f8 55.5px,#f0f7fb 100.5px,#fefdfc 125.5px,#fbdfcf 156.5px,#f7c0a0 216.5px,#f6bd9b 250.5px,#f8ccb1 280.5px,#fbe2d4 302.5px,#fdfcfc 319.5px,#a7d0e9 398.5px,#91c4e3 420.5px,#7ebade 437.5px,#64acd8 455.5px,#5aa6d5 475.5px,#3794cc 495.5px,#3f98ce 517.5px,#288bc8 528.5px,#1581c3 537.5px,#1983c4 544.5px,#3a95cd 558.5px,#3593cc 564.5px,#1782c4 571.5px,#0177be 575.5px,#0176be 589.5px,#268bc8 593.5px,#93c5e3 601.5px,#d3e7f4 606.5px,#f4f9fc 610.5px,#ffffff 613.5px,#ffffff)"></i><i style="left:148px;background:linear-gradient(#f4f9fc,#e5f1f8 56.5px,#f0f7fb 104.5px,#fefdfc 132.5px,#fbe1d1 164.5px,#f7c1a1 224.5px,#f6be9c 255.5px,#f8cbb0 285.5px,#fbdfce 307.5px,#fdfefe 329.5px,#aad1e9 400.5px,#92c5e3 422.5px,#7fbade 439.5px,#65acd8 457.5px,#59a6d5 477.5px,#3894cc 496.5px,#3d97ce 509.5px,#3e97ce 519.5px,#1581c3 538.5px,#1984c4 545.5px,#3995cd 558.5px,#3793cc 564.5px,#1a84c5 571.5px,#0076be 576.5px,#0076be 589.5px,#1983c4 592.5px,#57a5d4 597.5px,#c6e0f1 605.5px,#edf6fb 609.5px,#fdfefe 612.5px,#ffffff)"></i><i style="left:150px;background:linear-gradient(#f4f9fc,#e5f1f8 57.5px,#f0f7fb 107.5px,#fffefe 136.5px,#fce6d9 163.5px,#f7c2a2 226.5px,#f6bd9b 256.5px,#f8c9ad 286.5px,#fbdecd 311.5px,#fefaf8 330.5px,#fefeff 333.5px,#a7d0e8 404.5px,#90c3e3 426.5px,#78b7dd 444.5px,#63abd7 460.5px,#58a5d4 479.5px,#3894cc 497.5px,#3b96cd 509.5px,#3e97ce 520.5px,#2087c6 533.5px,#1481c3 541.5px,#2188c6 549.5px,#3a95cd 559.5px,#3693cc 565.5px,#1783c4 572.5px,#0177be 576.5px,#0076be 589.5px,#0c7cc1 591.5px,#469cd0 596.5px,#c5e0f0 605.5px,#edf5fa 609.5px,#fdfefe 612.5px,#ffffff)"></i><i style="left:152px;background:linear-gradient(#f4f9fc,#e5f1f8 56.5px,#f0f7fb 105.5px,#fffdfc 135.5px,#fbe3d5 164.5px,#f7c1a1 226.5px,#f6be9c 256.5px,#f8c9ac 284.5px,#fbe0d0 311.5px,#fefefe 331.5px,#a4cee8 406.5px,#8ec2e2 427.5px,#77b6dc 445.5px,#61aad7 461.5px,#57a5d4 480.5px,#3693cc 499.5px,#3c96cd 512.5px,#3c96cd 522.5px,#1481c3 540.5px,#1984c4 547.5px,#3a95cd 560.5px,#3492cb 566.5px,#1581c3 573.5px,#0076be 577.5px,#0177be 590.5px,#298cc9 594.5px,#d0e6f3 606.5px,#f3f9fc 610.5px,#ffffff 613.5px,#ffffff)"></i><i style="left:154px;background:linear-gradient(#f3f9fc,#e5f1f8 56.5px,#f0f7fb 102.5px,#fefdfc 128.5px,#fbe0cf 160.5px,#f7c1a0 221.5px,#f6be9c 252.5px,#f8caae 280.5px,#fbe5d7 307.5px,#fcfdfe 325.5px,#9fcce7 407.5px,#89c0e1 428.5px,#74b5dc 446.5px,#5da8d6 463.5px,#53a3d3 482.5px,#3492cb 500.5px,#3995cd 512.5px,#3c96cd 522.5px,#2389c7 533.5px,#1380c3 542.5px,#1c85c5 549.5px,#3994cc 560.5px,#3693cc 566.5px,#1782c4 573.5px,#0076be 577.5px,#0076be 590.5px,#268bc8 594.5px,#8ac0e1 601.5px,#cee5f3 606.5px,#f3f9fc 610.5px,#ffffff 613.5px,#ffffff)"></i><i style="left:156px;background:linear-gradient(#f2f8fc,#e5f1f8 55.5px,#f1f7fb 98.5px,#fefdfc 121.5px,#fbdecd 151.5px,#f8cbb1 184.5px,#f6bc9a 223.5px,#f6bf9d 253.5px,#f8ceb5 280.5px,#fcebe0 303.5px,#fdfdfd 315.5px,#b2d6eb 385.5px,#99c8e5 409.5px,#84bde0 430.5px,#6fb2da 448.5px,#59a6d5 464.5px,#51a1d3 483.5px,#3291cb 502.5px,#3b96cd 522.5px,#288bc8 532.5px,#1380c3 542.5px,#1983c4 549.5px,#3994cc 561.5px,#3492cb 567.5px,#1481c3 574.5px,#0076be 578.5px,#0076be 590.5px,#0e7dc2 592.5px,#4b9ed1 597.5px,#c1deef 605.5px,#ecf5fa 609.5px,#fcfefe 612.5px,#ffffff)"></i><i style="left:158px;background:linear-gradient(#f1f7fb,#e4f0f8 54.5px,#f0f7fb 95.5px,#fffefd 117.5px,#fbe1d2 141.5px,#f8cbb0 170.5px,#f6b995 219.5px,#f6bd9b 250.5px,#f9cfb6 278.5px,#fceae0 298.5px,#fefeff 308.5px,#c9e2f1 354.5px,#96c6e4 409.5px,#7fbade 430.5px,#6cb0da 449.5px,#55a4d4 466.5px,#4da0d2 485.5px,#3090ca 503.5px,#3793cc 515.5px,#3894cc 525.5px,#1380c3 542.5px,#1782c4 549.5px,#3994cc 562.5px,#3593cc 567.5px,#1c85c5 573.5px,#0076be 578.5px,#0277bf 591.5px,#2d8ec9 595.5px,#cce4f2 606.5px,#f3f8fc 610.5px,#ffffff 613.5px,#ffffff)"></i><i style="left:160px;background:linear-gradient(#f0f7fb,#e4f0f8 54.5px,#f0f7fb 94.5px,#fffdfd 116.5px,#fbe0d0 140.5px,#f8c9ae 169.5px,#f5b892 218.5px,#f6bc99 249.5px,#f9d0b8 278.5px,#fcebe1 297.5px,#fefeff 306.5px,#c6e1f1 353.5px,#92c5e3 411.5px,#7bb8dd 433.5px,#69aed9 451.5px,#53a2d3 468.5px,#4c9fd1 486.5px,#2f8fca 504.5px,#3593cc 516.5px,#3894cc 526.5px,#1280c3 543.5px,#1782c4 550.5px,#3894cc 562.5px,#3693cc 567.5px,#1f86c6 573.5px,#0177be 578.5px,#0076be 591.5px,#2a8dc9 595.5px,#cbe3f2 606.5px,#f2f8fc 610.5px,#ffffff 613.5px,#ffffff)"></i><i style="left:162px;background:linear-gradient(#f1f7fb,#e4f0f8 54.5px,#f0f7fb 95.5px,#fffefd 117.5px,#fbe1d2 141.5px,#f8cbb1 170.5px,#f6b995 219.5px,#f6bd9b 251.5px,#f9d0b8 279.5px,#fceadf 298.5px,#fdfeff 308.5px,#c7e1f1 356.5px,#90c4e3 414.5px,#79b7dd 437.5px,#64acd8 455.5px,#52a2d3 470.5px,#4b9ed1 488.5px,#2e8fca 506.5px,#3894cc 526.5px,#2389c7 536.5px,#127fc2 544.5px,#1783c4 551.5px,#3894cc 563.5px,#3593cc 568.5px,#1c85c5 574.5px,#0076be 579.5px,#0076be 591.5px,#1b85c5 594.5px,#61aad7 599.5px,#cae3f1 606.5px,#f2f8fc 610.5px,#ffffff 613.5px,#ffffff)"></i><i style="left:164px;background:linear-gradient(#f2f8fc,#e5f1f8 55.5px,#f1f7fb 98.5px,#fefdfc 121.5px,#fbdecd 151.5px,#f8cbb1 184.5px,#f6bc9a 223.5px,#f6bf9e 254.5px,#f9cfb6 281.5px,#fce7db 301.5px,#fefcfa 313.5px,#f6fafd 321.5px,#c5e0f0 367.5px,#8cc1e2 420.5px,#68aed8 455.5px,#52a2d3 471.5px,#4b9ed1 489.5px,#2e8fca 507.5px,#3894cc 521.5px,#3693cc 529.5px,#127fc2 545.5px,#1883c4 552.5px,#3894cc 563.5px,#3693cc 568.5px,#1e86c6 574.5px,#0076be 579.5px,#0076be 591.5px,#0e7dc2 593.5px,#4098ce 597.5px,#c9e2f1 606.5px,#f2f8fc 610.5px,#ffffff 613.5px,#ffffff)"></i><i style="left:166px;background:linear-gradient(#f3f9fc,#e5f1f8 56.5px,#f0f7fb 102.5px,#fefdfc 128.5px,#fbdfce 161.5px,#f7c0a0 222.5px,#f6be9c 253.5px,#f8cbb0 282.5px,#fbe1d2 304.5px,#fdfcfc 324.5px,#8bc1e2 424.5px,#6aafd9 456.5px,#53a3d3 472.5px,#4b9ed1 491.5px,#2f8fca 508.5px,#3693cc 520.5px,#3894cc 529.5px,#1280c3 545.5px,#1782c4 552.5px,#3894cc 564.5px,#3593cc 569.5px,#1b85c5 575.5px,#0076be 580.5px,#0277bf 592.5px,#2f8fca 596.5px,#c8e1f1 606.5px,#e9f3f9 609.5px,#fcfdfe 612.5px,#ffffff)"></i><i style="left:168px;background:linear-gradient(#f4f9fc,#e5f1f8 56.5px,#f0f7fb 105.5px,#fffdfc 135.5px,#fbe3d5 164.5px,#f7c2a2 225.5px,#f6be9c 255.5px,#f8caae 286.5px,#fbe0cf 310.5px,#fdfeff 332.5px,#7bb8dd 442.5px,#68aed8 459.5px,#53a2d3 474.5px,#4b9ed1 492.5px,#2f8fca 509.5px,#3593cc 520.5px,#3994cc 529.5px,#2288c7 539.5px,#117fc2 547.5px,#1a84c5 554.5px,#3794cc 564.5px,#3693cc 569.5px,#1e86c6 575.5px,#0076be 580.5px,#0076be 592.5px,#2d8ec9 596.5px,#c7e1f1 606.5px,#e9f3f9 609.5px,#fcfdfe 612.5px,#ffffff)"></i><i style="left:170px;background:linear-gradient(#f4f9fc,#e5f1f8 57.5px,#f0f7fb 107.5px,#fffefe 136.5px,#fce6d9 163.5px,#f7c2a2 226.5px,#f6bd9b 255.5px,#f8c9ac 286.5px,#fbdecd 311.5px,#fefbf9 331.5px,#fdfeff 334.5px,#79b7dd 444.5px,#66add8 461.5px,#51a2d3 476.5px,#499dd1 494.5px,#2e8fca 510.5px,#3592cb 521.5px,#3894cc 530.5px,#2188c6 540.5px,#117fc2 548.5px,#1b84c5 555.5px,#3894cc 565.5px,#3593cc 570.5px,#1a84c5 576.5px,#0177be 580.5px,#0076be 592.5px,#1d86c5 595.5px,#67add8 600.5px,#c5e0f0 606.5px,#e8f3f9 609.5px,#fcfdfe 612.5px,#ffffff)"></i><i style="left:172px;background:linear-gradient(#f4f9fc,#e5f1f8 56.5px,#f0f7fb 104.5px,#fefdfc 132.5px,#fbe1d1 164.5px,#f7c1a1 224.5px,#f6be9c 254.5px,#f8c9ae 283.5px,#fbe0d0 308.5px,#fdfdfe 329.5px,#84bde0 432.5px,#64acd7 462.5px,#4fa0d2 477.5px,#489dd0 495.5px,#2d8ec9 512.5px,#3894cc 530.5px,#268ac8 539.5px,#117fc2 548.5px,#1682c4 554.5px,#3894cc 566.5px,#3492cb 571.5px,#1682c4 577.5px,#0076be 581.5px,#0076be 592.5px,#0f7ec2 594.5px,#449bcf 598.5px,#c4dff0 606.5px,#e8f3f9 609.5px,#fcfdfe 612.5px,#ffffff)"></i><i style="left:174px;background:linear-gradient(#f3f8fc,#e5f1f8 55.5px,#f0f7fb 100.5px,#fefdfc 125.5px,#fbdfce 156.5px,#f7c0a0 216.5px,#f6bd9b 249.5px,#f8cbb0 279.5px,#fbe4d6 303.5px,#fdfcfb 319.5px,#f4f9fc 328.5px,#81bbdf 432.5px,#5fa9d6 464.5px,#4c9fd1 479.5px,#469cd0 496.5px,#2b8dc9 513.5px,#3794cc 531.5px,#248ac7 540.5px,#107fc2 549.5px,#1782c4 555.5px,#3794cc 566.5px,#3592cb 571.5px,#1983c4 577.5px,#0076be 581.5px,#0377bf 593.5px,#3391cb 597.5px,#c3dff0 606.5px,#e7f2f9 609.5px,#fcfdfe 612.5px,#ffffff)"></i><i style="left:176px;background:linear-gradient(#f1f8fc,#e4f1f8 54.5px,#f0f7fb 96.5px,#fffdfd 119.5px,#fbe0cf 146.5px,#f8ccb2 175.5px,#f6bb97 221.5px,#f6be9c 252.5px,#f9cfb6 279.5px,#fceadf 300.5px,#fdfdfd 311.5px,#bbdaee 373.5px,#7db9de 433.5px,#6aafd9 453.5px,#52a2d3 471.5px,#489dd0 484.5px,#439acf 498.5px,#298cc9 514.5px,#3693cc 532.5px,#2389c7 541.5px,#107fc2 549.5px,#1581c3 555.5px,#3894cc 567.5px,#3391cb 572.5px,#1581c3 578.5px,#0177be 581.5px,#0176be 593.5px,#3090ca 597.5px,#c2deef 606.5px,#e7f2f9 609.5px,#fcfdfe 612.5px,#ffffff)"></i><i style="left:178px;background:linear-gradient(#f1f7fb,#e4f0f8 54.5px,#f0f7fb 95.5px,#fffefe 116.5px,#fbe3d4 138.5px,#f8cbb0 168.5px,#f6b893 218.5px,#f6bd9a 250.5px,#f9d0b7 278.5px,#fcece2 298.5px,#fdfeff 307.5px,#c4dff0 357.5px,#9bc9e5 402.5px,#78b7dd 435.5px,#66add8 455.5px,#469cd0 482.5px,#4299cf 499.5px,#288cc8 515.5px,#3592cb 533.5px,#2288c7 542.5px,#0f7ec2 550.5px,#1581c3 556.5px,#3793cc 567.5px,#3492cb 572.5px,#1782c4 578.5px,#0076be 582.5px,#0076be 593.5px,#2087c6 596.5px,#6eb1da 601.5px,#cfe5f3 607.5px,#f0f7fb 610.5px,#feffff 613.5px,#ffffff)"></i><i style="left:180px;background:linear-gradient(#f0f7fb,#e4f0f8 54.5px,#f0f7fb 95.5px,#fffefe 116.5px,#fbe2d4 138.5px,#f8caaf 168.5px,#f6b893 218.5px,#f6bd9a 250.5px,#f9d0b7 278.5px,#fcebe0 297.5px,#feffff 306.5px,#c5e0f0 355.5px,#9bc9e5 402.5px,#76b5dc 437.5px,#64acd8 457.5px,#459bd0 483.5px,#4199cf 500.5px,#288bc8 516.5px,#3492cb 534.5px,#2087c6 543.5px,#0f7ec2 551.5px,#1682c4 557.5px,#3693cc 567.5px,#3592cb 572.5px,#1f87c6 577.5px,#0076be 582.5px,#0076be 593.5px,#117fc2 595.5px,#4a9ed1 599.5px,#c0ddef 606.5px,#e6f2f9 609.5px,#fcfdfe 612.5px,#ffffff)"></i><i style="left:182px;background:linear-gradient(#f1f8fb,#e4f1f8 54.5px,#f0f7fb 96.5px,#fffdfc 119.5px,#fbe1d1 144.5px,#f8ccb2 173.5px,#f6ba97 221.5px,#f6be9c 252.5px,#f9cfb6 279.5px,#fce9de 299.5px,#fdfdfd 310.5px,#c0ddef 366.5px,#9bc9e6 404.5px,#77b6dc 438.5px,#65acd8 457.5px,#52a2d3 473.5px,#449bcf 486.5px,#4199cf 501.5px,#278bc8 517.5px,#3492cb 535.5px,#2087c6 544.5px,#0f7ec2 552.5px,#1782c4 558.5px,#3793cc 568.5px,#3392cb 573.5px,#1581c3 579.5px,#0177be 582.5px,#0076be 593.5px,#0478bf 594.5px,#3794cc 598.5px,#cde4f2 607.5px,#eff6fb 610.5px,#feffff 613.5px,#ffffff)"></i><i style="left:184px;background:linear-gradient(#f2f8fc,#e5f1f8 55.5px,#f0f7fb 99.5px,#fefdfc 124.5px,#fbdfce 155.5px,#f7c1a1 212.5px,#f6bd9b 247.5px,#f8cbb0 278.5px,#fbe3d5 301.5px,#fdfbfa 317.5px,#f9fcfd 323.5px,#88bfe1 428.5px,#69aed9 454.5px,#58a5d4 471.5px,#459bd0 485.5px,#4299cf 502.5px,#288bc8 518.5px,#3592cc 535.5px,#258ac7 543.5px,#0f7ec2 552.5px,#1682c4 558.5px,#3693cc 568.5px,#3592cb 573.5px,#1e86c6 578.5px,#0076be 583.5px,#0277bf 594.5px,#3592cb 598.5px,#cce4f2 607.5px,#eff6fb 610.5px,#feffff 613.5px,#ffffff)"></i><i style="left:186px;background:linear-gradient(#f3f9fc,#e5f1f8 56.5px,#f0f7fb 104.5px,#fefdfc 131.5px,#fbe0d0 164.5px,#f7c1a1 224.5px,#f6be9c 254.5px,#f8cbaf 284.5px,#fbe2d3 308.5px,#fcfefe 329.5px,#8cc1e2 427.5px,#69aed9 456.5px,#59a6d5 472.5px,#459bd0 487.5px,#4299cf 503.5px,#288cc8 519.5px,#3593cc 536.5px,#248ac7 544.5px,#107fc2 552.5px,#1481c3 558.5px,#3794cc 569.5px,#3391cb 574.5px,#1380c3 580.5px,#0076be 583.5px,#0076be 594.5px,#2489c7 597.5px,#89bfe1 603.5px,#cbe3f2 607.5px,#eef6fb 610.5px,#feffff 613.5px,#ffffff)"></i><i style="left:188px;background:linear-gradient(#f4f9fc,#e5f1f8 57.5px,#f0f7fb 107.5px,#fffefd 136.5px,#fbe5d7 164.5px,#f7c2a2 226.5px,#f6bd9b 255.5px,#f8c9ac 286.5px,#fbe0d0 312.5px,#fefaf7 330.5px,#fdfefe 334.5px,#8ec2e2 427.5px,#68aed9 458.5px,#58a5d4 474.5px,#459bd0 488.5px,#4299cf 504.5px,#288bc8 520.5px,#3592cb 537.5px,#2389c7 545.5px,#107ec2 553.5px,#1582c3 559.5px,#3693cc 569.5px,#3492cb 574.5px,#1c85c5 579.5px,#0177be 583.5px,#0076be 594.5px,#2188c6 597.5px,#75b5dc 602.5px,#cae3f1 607.5px,#eef6fb 610.5px,#feffff 613.5px,#ffffff)"></i><i style="left:190px;background:linear-gradient(#f4f9fc,#e5f1f8 56.5px,#f0f7fb 105.5px,#fffefd 135.5px,#fbe3d5 165.5px,#f7c2a2 226.5px,#f6bd9b 255.5px,#f8c9ad 286.5px,#fbe0d0 311.5px,#fefaf7 329.5px,#fcfdfe 334.5px,#8bc1e2 429.5px,#67add8 459.5px,#57a5d4 475.5px,#439acf 489.5px,#4199cf 505.5px,#278bc8 521.5px,#3492cb 538.5px,#2288c7 546.5px,#0f7ec2 554.5px,#1782c4 560.5px,#3794cc 570.5px,#3291cb 575.5px,#117fc2 581.5px,#0076be 584.5px,#0076be 594.5px,#1280c3 596.5px,#4ea0d2 600.5px,#c9e2f1 607.5px,#eef6fb 610.5px,#feffff 613.5px,#ffffff)"></i><i style="left:192px;background:linear-gradient(#f3f9fc,#e5f1f8 56.5px,#f1f7fb 103.5px,#fefdfc 129.5px,#fbdfcf 162.5px,#f7c1a1 222.5px,#f6be9c 253.5px,#f8cbaf 282.5px,#fbe2d3 306.5px,#fdfdfe 326.5px,#73b4db 446.5px,#61aad7 464.5px,#50a1d2 479.5px,#4199cf 491.5px,#4098ce 506.5px,#268ac8 522.5px,#3492cb 538.5px,#2489c7 546.5px,#0f7ec2 554.5px,#1581c3 560.5px,#3693cc 570.5px,#3392cb 575.5px,#1a84c5 580.5px,#0076be 584.5px,#0076be 594.5px,#0578bf 595.5px,#2b8dc9 598.5px,#c8e1f1 607.5px,#edf5fa 610.5px,#feffff 613.5px,#ffffff)"></i><i style="left:194px;background:linear-gradient(#f2f8fc,#e5f1f8 55.5px,#f0f7fb 98.5px,#fefdfc 122.5px,#fbdfce 152.5px,#f8c8ab 193.5px,#f6bc9a 228.5px,#f7c09f 256.5px,#f9ceb5 281.5px,#fce9de 303.5px,#fdfcfb 315.5px,#f3f9fc 325.5px,#70b2da 447.5px,#5ea9d6 464.5px,#4fa0d2 479.5px,#3f98ce 492.5px,#3e97ce 507.5px,#258ac7 523.5px,#3391cb 539.5px,#2288c7 547.5px,#0e7ec2 555.5px,#1682c4 561.5px,#3793cc 571.5px,#3190ca 576.5px,#0e7dc2 582.5px,#0076be 584.5px,#0377bf 595.5px,#298cc8 598.5px,#c7e1f1 607.5px,#edf5fa 610.5px,#feffff 613.5px,#ffffff)"></i><i style="left:196px;background:linear-gradient(#f1f7fb,#e4f1f8 54.5px,#f0f7fb 95.5px,#fffdfc 118.5px,#fbe0d0 143.5px,#f8cbb0 172.5px,#f6b995 220.5px,#f6bd9b 251.5px,#f9cfb6 278.5px,#fce9de 298.5px,#fdfeff 309.5px,#c3dff0 361.5px,#8bc1e2 418.5px,#69aed9 450.5px,#5aa6d5 468.5px,#479cd0 483.5px,#3d97cd 494.5px,#3c96cd 508.5px,#2489c7 524.5px,#3291cb 540.5px,#2087c6 548.5px,#0e7ec2 555.5px,#1481c3 561.5px,#3693cc 571.5px,#3592cb 575.5px,#1e86c6 580.5px,#0277be 584.5px,#0176be 595.5px,#278bc8 598.5px,#92c4e3 604.5px,#d5e8f4 608.5px,#f5fafc 611.5px,#ffffff)"></i><i style="left:198px;background:linear-gradient(#f0f7fb,#e4f0f8 54.5px,#f0f7fb 94.5px,#fffefd 116.5px,#fbe0d0 140.5px,#f8c9ae 169.5px,#f5b893 218.5px,#f6bc99 249.5px,#f9d0b8 278.5px,#fcebe0 297.5px,#fefeff 306.5px,#c3dff0 357.5px,#8dc2e2 416.5px,#64acd8 453.5px,#4b9ed1 481.5px,#3b96cd 494.5px,#3b96cd 509.5px,#2389c7 524.5px,#2d8ec9 534.5px,#3090ca 542.5px,#0e7dc1 556.5px,#1581c3 562.5px,#3593cc 571.5px,#3693cc 575.5px,#2087c6 580.5px,#0076be 585.5px,#0076be 595.5px,#2489c7 598.5px,#7db9de 603.5px,#c5e0f0 607.5px,#ecf5fa 610.5px,#feffff 613.5px,#ffffff)"></i><i style="left:200px;background:linear-gradient(#f1f7fb,#e4f0f8 54.5px,#f0f7fb 95.5px,#fffefd 117.5px,#fbe1d1 141.5px,#f8cbb0 170.5px,#f6b994 219.5px,#f6bd9b 251.5px,#f9cfb7 278.5px,#fcebe0 298.5px,#fdfefe 308.5px,#c2deef 360.5px,#89c0e1 420.5px,#64acd8 454.5px,#4b9ed1 482.5px,#3b96cd 495.5px,#3b96cd 510.5px,#2389c7 525.5px,#3291cb 541.5px,#2489c7 548.5px,#0e7ec2 556.5px,#117fc2 561.5px,#3693cc 572.5px,#3492cb 576.5px,#1b85c5 581.5px,#0076be 585.5px,#0076be 595.5px,#1481c3 597.5px,#55a4d4 601.5px,#c4dff0 607.5px,#ecf5fa 610.5px,#feffff 613.5px,#ffffff)"></i><i style="left:202px;background:linear-gradient(#f2f8fc,#e5f1f8 55.5px,#f1f7fb 98.5px,#fffdfc 121.5px,#fbe0d0 148.5px,#f8cdb3 178.5px,#f6bc99 223.5px,#f6bf9e 254.5px,#f9cfb5 280.5px,#fce9dd 301.5px,#fdfcfc 313.5px,#b4d7ec 383.5px,#65acd8 455.5px,#56a4d4 473.5px,#3b96cd 496.5px,#3b96cd 511.5px,#2389c7 526.5px,#3291cb 542.5px,#1f87c6 550.5px,#0e7dc1 557.5px,#1280c3 562.5px,#3593cc 572.5px,#3592cb 576.5px,#1d86c5 581.5px,#0176be 585.5px,#0076be 595.5px,#0679bf 596.5px,#2f90ca 599.5px,#c3dff0 607.5px,#ecf5fa 610.5px,#feffff 613.5px,#ffffff)"></i><i style="left:204px;background:linear-gradient(#f3f8fc,#e5f1f8 55.5px,#f0f7fb 101.5px,#fefdfc 127.5px,#fbdfcf 159.5px,#f7c0a0 220.5px,#f6be9c 252.5px,#f8cbb0 281.5px,#fbe4d6 305.5px,#fdfcfb 322.5px,#f4f9fc 331.5px,#67add8 456.5px,#58a5d4 473.5px,#459bd0 488.5px,#3b96cd 499.5px,#3b96cd 512.5px,#2389c7 527.5px,#3291cb 542.5px,#258ac7 549.5px,#0e7ec2 557.5px,#117fc2 562.5px,#3793cc 573.5px,#3392cb 577.5px,#1983c4 582.5px,#0377bf 585.5px,#0076be 595.5px,#0478bf 596.5px,#2d8eca 599.5px,#c2deef 607.5px,#ebf4fa 610.5px,#feffff 613.5px,#ffffff)"></i><i style="left:206px;background:linear-gradient(#f4f9fc,#e5f1f8 56.5px,#f0f7fb 105.5px,#fffdfc 134.5px,#fbe2d3 165.5px,#f7c2a2 225.5px,#f6be9c 255.5px,#f8c9ae 285.5px,#fbe2d2 311.5px,#fef9f6 327.5px,#fcfdfe 332.5px,#65acd8 459.5px,#4b9ed1 486.5px,#3c96cd 498.5px,#3c96cd 513.5px,#2389c7 528.5px,#3291cb 543.5px,#2389c7 550.5px,#0e7ec2 558.5px,#1380c3 563.5px,#3693cc 573.5px,#3492cb 577.5px,#1b84c5 582.5px,#0076be 586.5px,#0277bf 596.5px,#2b8dc9 599.5px,#c1deef 607.5px,#ebf4fa 610.5px,#feffff 613.5px,#ffffff)"></i><i style="left:208px;background:linear-gradient(#f4f9fc,#e5f1f8 57.5px,#f0f7fb 107.5px,#fffefe 136.5px,#fce6d9 163.5px,#f7c2a3 225.5px,#f6bd9b 254.5px,#f8c8ab 285.5px,#fbdecd 311.5px,#fef9f6 330.5px,#fdfeff 334.5px,#62abd7 462.5px,#4c9fd1 486.5px,#3b96cd 499.5px,#3b96cd 514.5px,#2389c7 528.5px,#2e8fca 538.5px,#3190ca 545.5px,#0e7ec2 558.5px,#117fc2 563.5px,#3593cc 573.5px,#3593cc 577.5px,#1d85c5 582.5px,#0076be 586.5px,#0176be 596.5px,#298cc8 599.5px,#c0ddef 607.5px,#eaf4fa 610.5px,#feffff 613.5px,#ffffff)"></i><i style="left:210px;background:linear-gradient(#f4f9fc,#e5f1f8 56.5px,#f0f7fb 104.5px,#fffdfc 133.5px,#fbe1d2 165.5px,#f7c1a1 225.5px,#f6be9c 255.5px,#f8caaf 285.5px,#fbe2d2 310.5px,#fdfefe 330.5px,#62aad7 462.5px,#499dd1 488.5px,#3a95cd 500.5px,#3a95cd 515.5px,#2389c7 529.5px,#3291cb 544.5px,#2389c7 551.5px,#0e7dc1 559.5px,#1380c3 564.5px,#3693cc 574.5px,#3392cb 578.5px,#1783c4 583.5px,#0176be 586.5px,#0076be 596.5px,#278bc8 599.5px,#9ac8e5 605.5px,#cfe5f3 608.5px,#f4f9fc 611.5px,#feffff 613.5px,#ffffff)"></i><i style="left:212px;background:linear-gradient(#f3f8fc,#e5f1f8 55.5px,#f0f7fb 100.5px,#fefdfc 126.5px,#fbdfce 158.5px,#f7c09f 219.5px,#f6be9c 251.5px,#f8cbb0 280.5px,#fbe3d4 303.5px,#fcfdfe 322.5px,#5fa9d6 463.5px,#479cd0 489.5px,#3894cc 501.5px,#3994cc 516.5px,#2288c7 530.5px,#3190ca 545.5px,#2188c7 552.5px,#0e7dc2 559.5px,#117fc2 564.5px,#3693cc 574.5px,#3492cb 578.5px,#1984c4 583.5px,#0377bf 586.5px,#0076be 596.5px,#1582c3 598.5px,#5ba7d5 602.5px,#bedcee 607.5px,#eaf4fa 610.5px,#fafdfe 612.5px,#ffffff)"></i><i style="left:214px;background:linear-gradient(#f1f8fc,#e4f1f8 55.5px,#f0f7fb 97.5px,#fffdfc 120.5px,#fbe0cf 147.5px,#f8cdb2 176.5px,#f6bb98 222.5px,#f6be9d 253.5px,#f9cfb6 280.5px,#fceadf 301.5px,#fefcfb 311.5px,#f7fbfd 318.5px,#bddbee 372.5px,#7bb8dd 435.5px,#51a1d3 476.5px,#459bd0 490.5px,#3693cc 502.5px,#3794cc 517.5px,#2087c6 531.5px,#3090ca 546.5px,#1c85c5 554.5px,#0d7dc1 560.5px,#1280c3 565.5px,#3592cb 574.5px,#3592cb 578.5px,#2288c7 582.5px,#0076be 587.5px,#0076be 596.5px,#077ac0 597.5px,#3392cb 600.5px,#cee5f2 608.5px,#f3f9fc 611.5px,#feffff 613.5px,#ffffff)"></i><i style="left:216px;background:linear-gradient(#f1f7fb,#e4f0f8 54.5px,#f0f7fb 95.5px,#fffefe 116.5px,#fbe1d2 140.5px,#f8cbaf 169.5px,#f6b894 218.5px,#f6bd9a 250.5px,#f9d0b7 278.5px,#fcebe1 298.5px,#fefeff 307.5px,#c4dff0 357.5px,#97c7e5 406.5px,#57a5d4 466.5px,#439acf 491.5px,#3592cb 503.5px,#3793cc 517.5px,#2087c6 531.5px,#2a8dc9 540.5px,#2f8fca 547.5px,#1a84c5 555.5px,#0c7dc1 561.5px,#1481c3 566.5px,#3693cc 575.5px,#3391cb 579.5px,#1682c4 584.5px,#0076be 587.5px,#0076be 596.5px,#0579bf 597.5px,#3190cb 600.5px,#cde4f2 608.5px,#f3f9fc 611.5px,#feffff 613.5px,#ffffff)"></i><i style="left:218px;background:linear-gradient(#f0f7fb,#e4f0f8 54.5px,#f0f7fb 94.5px,#fffefd 116.5px,#fbe1d2 139.5px,#f8caae 169.5px,#f5b893 218.5px,#f6bc99 249.5px,#f9d0b8 278.5px,#fcebe0 297.5px,#feffff 306.5px,#c4dff0 356.5px,#97c7e4 406.5px,#55a4d4 468.5px,#4299cf 492.5px,#3492cb 504.5px,#3693cc 518.5px,#1f87c6 532.5px,#2f8fca 547.5px,#1f87c6 554.5px,#0c7dc1 561.5px,#1380c3 566.5px,#3592cc 575.5px,#3392cb 579.5px,#1883c4 584.5px,#0076be 587.5px,#0378bf 597.5px,#2f8fca 600.5px,#cce4f2 608.5px,#f3f9fc 611.5px,#feffff 613.5px,#ffffff)"></i><i style="left:220px;background:linear-gradient(#f1f7fb,#e4f1f8 54.5px,#f0f7fb 95.5px,#fffefd 118.5px,#fbe0d0 144.5px,#f8cbb1 173.5px,#f6ba96 220.5px,#f6be9c 251.5px,#f9cfb7 279.5px,#fceadf 299.5px,#fefdfd 309.5px,#c2def0 363.5px,#92c5e3 412.5px,#55a4d4 469.5px,#4299cf 493.5px,#3492cb 505.5px,#3693cc 519.5px,#1f87c6 533.5px,#2f90ca 547.5px,#2188c6 554.5px,#0d7dc1 561.5px,#117fc2 566.5px,#3492cb 575.5px,#3492cb 579.5px,#2188c6 583.5px,#0277bf 587.5px,#0177be 597.5px,#2d8ec9 600.5px,#cbe3f2 608.5px,#f3f8fc 611.5px,#feffff 613.5px,#ffffff)"></i><i style="left:222px;background:linear-gradient(#f2f8fc,#e5f1f8 55.5px,#f1f7fb 99.5px,#fefdfc 123.5px,#fbdecd 154.5px,#f7c2a3 207.5px,#f6bc9a 240.5px,#f7c6a8 270.5px,#fadcca 295.5px,#fdfcfc 317.5px,#57a5d4 469.5px,#4199cf 495.5px,#3492cb 507.5px,#3693cc 520.5px,#2087c6 533.5px,#2a8dc9 542.5px,#2f8fca 549.5px,#0c7dc1 562.5px,#1380c3 567.5px,#3693cc 576.5px,#3291cb 580.5px,#1481c3 585.5px,#0076be 588.5px,#0076be 597.5px,#2b8dc9 600.5px,#cae3f2 608.5px,#f3f8fc 611.5px,#feffff 613.5px,#ffffff)"></i><i style="left:224px;background:linear-gradient(#f3f9fc,#e5f1f8 56.5px,#f0f7fb 103.5px,#fefdfc 130.5px,#fbe0d0 163.5px,#f7c1a1 223.5px,#f6be9c 254.5px,#f8caaf 283.5px,#fbe2d3 307.5px,#fdfdfd 327.5px,#4ea0d2 481.5px,#439acf 495.5px,#3592cb 507.5px,#3693cc 521.5px,#2087c6 534.5px,#2f8fca 549.5px,#1e86c6 556.5px,#0d7dc1 562.5px,#1280c3 567.5px,#3593cc 576.5px,#3391cb 580.5px,#1d86c5 584.5px,#0076be 588.5px,#0076be 597.5px,#1983c4 599.5px,#64acd7 603.5px,#cae2f1 608.5px,#f2f8fc 611.5px,#feffff 613.5px,#ffffff)"></i><i style="left:226px;background:linear-gradient(#f4f9fc,#e5f1f8 57.5px,#f0f7fb 107.5px,#fffdfc 136.5px,#fbe3d4 166.5px,#f7c2a2 226.5px,#f6bd9b 255.5px,#f8c9ad 286.5px,#fbe1d2 313.5px,#fefbf9 330.5px,#fbfdfe 335.5px,#69aed9 459.5px,#4ea0d2 482.5px,#4199cf 497.5px,#3592cb 508.5px,#3794cc 521.5px,#2087c6 535.5px,#3090ca 549.5px,#1f87c6 556.5px,#0c7dc1 563.5px,#1481c3 568.5px,#3592cb 576.5px,#3492cb 580.5px,#1f87c6 584.5px,#0076be 588.5px,#0076be 597.5px,#1782c4 599.5px,#4d9fd2 602.5px,#c9e2f1 608.5px,#f2f8fc 611.5px,#feffff 613.5px,#ffffff)"></i><i style="left:228px;background:linear-gradient(#f4f9fc,#e5f1f8 57.5px,#f0f7fb 107.5px,#fffdfc 136.5px,#fbe3d4 166.5px,#f7c2a2 226.5px,#f6bd9b 255.5px,#f8c9ad 286.5px,#fbe1d2 313.5px,#fefbf9 330.5px,#fbfdfe 335.5px,#67aed8 460.5px,#4d9fd2 483.5px,#4199ce 498.5px,#3492cb 509.5px,#3693cc 522.5px,#2087c6 536.5px,#2f8fca 550.5px,#1d86c5 557.5px,#0d7dc1 563.5px,#1380c3 568.5px,#3693cc 577.5px,#3291cb 581.5px,#127fc2 586.5px,#0177be 588.5px,#0076be 597.5px,#077ac0 598.5px,#3794cc 601.5px,#c8e1f1 608.5px,#f2f8fc 611.5px,#feffff 613.5px,#ffffff)"></i><i style="left:230px;background:linear-gradient(#f3f9fc,#e5f1f8 56.5px,#f0f7fb 103.5px,#fefdfc 130.5px,#fbe0cf 163.5px,#f7c1a1 223.5px,#f6be9c 254.5px,#f8cbaf 283.5px,#fbe2d3 307.5px,#fdfdfe 327.5px,#63abd7 463.5px,#4b9ed1 484.5px,#4199ce 498.5px,#3391cb 510.5px,#3592cc 523.5px,#1f87c6 536.5px,#2f8fca 550.5px,#2288c7 556.5px,#0d7dc1 563.5px,#117fc2 568.5px,#3593cc 577.5px,#3391cb 581.5px,#1b85c5 585.5px,#0378bf 588.5px,#0076be 597.5px,#0579bf 598.5px,#3593cc 601.5px,#c7e1f1 608.5px,#f2f8fc 611.5px,#feffff 613.5px,#ffffff)"></i><i style="left:232px;background:linear-gradient(#f2f8fc,#e5f1f8 55.5px,#f1f7fb 99.5px,#fefdfc 123.5px,#fbdfce 153.5px,#f7c4a6 202.5px,#f6bc9a 236.5px,#f7c2a3 263.5px,#f9d3bd 287.5px,#fdeee5 307.5px,#fcfdfe 318.5px,#489dd0 485.5px,#3f98ce 499.5px,#3191cb 511.5px,#3492cb 524.5px,#1e86c6 537.5px,#2e8fca 551.5px,#1c85c5 558.5px,#0c7cc1 564.5px,#1380c3 569.5px,#3492cb 577.5px,#3392cb 581.5px,#1d86c5 585.5px,#0076be 589.5px,#0076be 597.5px,#0478bf 598.5px,#3391cb 601.5px,#c6e1f1 608.5px,#f1f8fc 611.5px,#feffff 613.5px,#ffffff)"></i><i style="left:234px;background:linear-gradient(#f1f7fb,#e4f1f8 54.5px,#f0f7fb 95.5px,#fffefd 118.5px,#fbe1d1 143.5px,#f8ccb1 172.5px,#f6ba96 220.5px,#f6be9c 251.5px,#f9cfb5 278.5px,#fceadf 299.5px,#fefdfd 309.5px,#c2deef 363.5px,#76b5dc 440.5px,#469cd0 486.5px,#3d97cd 500.5px,#3090ca 511.5px,#3392cb 524.5px,#1d86c5 537.5px,#298cc9 546.5px,#2d8eca 552.5px,#1682c4 560.5px,#0b7cc1 565.5px,#1581c3 570.5px,#3392cb 577.5px,#3492cb 581.5px,#1f86c6 585.5px,#0076be 589.5px,#0277bf 598.5px,#3190cb 601.5px,#c5e0f0 608.5px,#f1f8fb 611.5px,#fefeff 613.5px,#ffffff)"></i><i style="left:236px;background:linear-gradient(#f0f7fb,#e4f0f8 54.5px,#f0f7fb 94.5px,#fffefd 116.5px,#fbe1d2 139.5px,#f8caae 169.5px,#f5b893 218.5px,#f6bc99 249.5px,#f9d0b8 278.5px,#fcebe0 297.5px,#feffff 306.5px,#c4dff0 356.5px,#8ec2e2 415.5px,#449bcf 487.5px,#3b96cd 501.5px,#2f8fca 512.5px,#3291cb 525.5px,#1d85c5 538.5px,#2d8eca 552.5px,#1b85c5 559.5px,#0b7cc1 565.5px,#1481c3 570.5px,#3592cb 578.5px,#3191cb 582.5px,#1983c4 586.5px,#0076be 589.5px,#0176be 598.5px,#2f8fca 601.5px,#c5e0f0 608.5px,#f1f7fb 611.5px,#fefeff 613.5px,#ffffff)"></i><i style="left:238px;background:linear-gradient(#f1f7fb,#e4f0f8 54.5px,#f0f7fb 95.5px,#fffefe 116.5px,#fbe1d2 140.5px,#f8cbb0 169.5px,#f6b894 219.5px,#f6bd9a 250.5px,#f9d0b7 278.5px,#fcebe1 298.5px,#fefeff 307.5px,#c4e0f0 357.5px,#8cc1e2 417.5px,#449acf 488.5px,#3b96cd 502.5px,#2f8fca 513.5px,#3291cb 526.5px,#1d85c5 539.5px,#2e8fca 552.5px,#2087c6 558.5px,#0c7cc1 565.5px,#1280c3 570.5px,#3492cb 578.5px,#3291cb 582.5px,#1a84c5 586.5px,#0177be 589.5px,#0076be 598.5px,#1b85c5 600.5px,#56a4d4 603.5px,#c4dff0 608.5px,#f1f7fb 611.5px,#fefeff 613.5px,#ffffff)"></i><i style="left:240px;background:linear-gradient(#f1f8fc,#e4f1f8 55.5px,#f0f7fb 97.5px,#fffdfc 120.5px,#fbe0cf 147.5px,#f8cdb3 176.5px,#f6bb98 222.5px,#f6be9d 253.5px,#f9cfb6 280.5px,#fceadf 301.5px,#fefcfb 311.5px,#f8fbfd 317.5px,#bddcee 372.5px,#449acf 489.5px,#3c96cd 502.5px,#2f8fca 514.5px,#3191cb 527.5px,#1d85c5 539.5px,#2d8eca 553.5px,#1b84c5 560.5px,#0b7cc1 566.5px,#1581c3 571.5px,#3492cb 578.5px,#3391cb 582.5px,#1c85c5 586.5px,#0378bf 589.5px,#0076be 598.5px,#1a84c5 600.5px,#55a3d4 603.5px,#c3dff0 608.5px,#e4f1f8 610.5px,#f9fcfe 612.5px,#ffffff)"></i><i style="left:242px;background:linear-gradient(#f3f8fc,#e5f1f8 55.5px,#f0f7fb 100.5px,#fefdfc 126.5px,#fbdfce 158.5px,#f7c0a0 219.5px,#f6be9c 251.5px,#f8cbb0 280.5px,#fbe4d6 304.5px,#fdfcfc 321.5px,#c9e2f1 369.5px,#5ba7d5 469.5px,#449bcf 490.5px,#3d97cd 503.5px,#2f8fca 515.5px,#3391cb 527.5px,#1d86c5 540.5px,#2e8fca 553.5px,#2087c6 559.5px,#0c7cc1 566.5px,#1481c3 571.5px,#3593cc 579.5px,#3090ca 583.5px,#0d7dc1 588.5px,#0076be 590.5px,#0076be 598.5px,#097bc0 599.5px,#3d97ce 602.5px,#c2deef 608.5px,#e4f0f8 610.5px,#f9fcfe 612.5px,#ffffff)"></i><i style="left:244px;background:linear-gradient(#f4f9fc,#e5f1f8 56.5px,#f0f7fb 104.5px,#fffdfc 133.5px,#fbe1d2 165.5px,#f7c1a1 225.5px,#f6be9c 255.5px,#f8caae 285.5px,#fbe3d4 311.5px,#fdfdfe 330.5px,#5da8d6 469.5px,#459bcf 491.5px,#3d97cd 504.5px,#3090ca 515.5px,#3291cb 528.5px,#1d86c5 540.5px,#288bc8 548.5px,#2e8fca 554.5px,#1a84c5 561.5px,#0b7cc1 567.5px,#1782c4 572.5px,#3592cb 579.5px,#3592cb 582.5px,#2087c6 586.5px,#0076be 590.5px,#0076be 598.5px,#077ac0 599.5px,#3b96cd 602.5px,#c1deef 608.5px,#e4f0f8 610.5px,#f9fcfd 612.5px,#ffffff)"></i><i style="left:246px;background:linear-gradient(#f4f9fc,#e5f1f8 57.5px,#f0f7fb 107.5px,#fffefe 136.5px,#fce6d9 163.5px,#f7c2a3 225.5px,#f6bd9b 254.5px,#f8c8ab 285.5px,#fbdecd 311.5px,#fef9f6 330.5px,#fdfeff 334.5px,#5da8d6 469.5px,#449bcf 492.5px,#3c96cd 505.5px,#3090ca 516.5px,#3291cb 529.5px,#1d86c5 541.5px,#2e8fca 554.5px,#2087c6 560.5px,#0d7dc1 566.5px,#0e7ec2 570.5px,#3492cb 579.5px,#3593cc 582.5px,#2188c6 586.5px,#0076be 590.5px,#0076be 598.5px,#0679bf 599.5px,#3a95cd 602.5px,#c0ddef 608.5px,#e3f0f8 610.5px,#f9fcfd 612.5px,#ffffff)"></i><i style="left:248px;background:linear-gradient(#f4f9fc,#e5f1f8 56.5px,#f0f7fb 105.5px,#fffdfc 134.5px,#fbe2d3 165.5px,#f7c2a2 225.5px,#f6be9c 254.5px,#f8c9ad 284.5px,#fbe0d1 310.5px,#fef9f6 327.5px,#fcfdfe 332.5px,#5ba7d5 470.5px,#439acf 493.5px,#3b96cd 506.5px,#2f8fca 517.5px,#3291cb 529.5px,#1d85c5 542.5px,#2e8fca 554.5px,#2188c6 560.5px,#0c7cc1 567.5px,#107fc2 571.5px,#3693cc 580.5px,#3391cb 583.5px,#1b84c5 587.5px,#0176be 590.5px,#0076be 598.5px,#0478bf 599.5px,#3894cc 602.5px,#bfddef 608.5px,#e3f0f8 610.5px,#f9fcfd 612.5px,#ffffff)"></i><i style="left:250px;background:linear-gradient(#f3f8fc,#e5f1f8 55.5px,#f0f7fb 101.5px,#fefdfd 126.5px,#fbdece 160.5px,#f7c09f 221.5px,#f6be9d 253.5px,#f8cbb0 281.5px,#fbe4d6 305.5px,#fdfcfb 322.5px,#eef6fb 336.5px,#58a5d4 472.5px,#4199cf 494.5px,#3995cd 507.5px,#2e8fca 518.5px,#3190ca 530.5px,#1c85c5 542.5px,#2d8eca 555.5px,#1f86c6 561.5px,#0c7cc1 567.5px,#0f7ec2 571.5px,#3592cc 580.5px,#3492cb 583.5px,#1d85c5 587.5px,#0277bf 590.5px,#0377bf 599.5px,#3693cc 602.5px,#bedcef 608.5px,#e2f0f8 610.5px,#f9fcfd 612.5px,#ffffff)"></i><i style="left:252px;background:linear-gradient(#f2f8fc,#e5f1f8 55.5px,#f1f7fb 98.5px,#fffdfc 121.5px,#fbe0d0 148.5px,#f8cdb3 178.5px,#f6bc99 223.5px,#f6bf9e 254.5px,#f9cfb6 280.5px,#fce9dd 301.5px,#fefcfb 312.5px,#f7fbfd 319.5px,#b8d9ed 378.5px,#54a3d3 474.5px,#3f98ce 495.5px,#3995cd 507.5px,#2c8ec9 518.5px,#3190ca 530.5px,#1b85c5 543.5px,#2d8ec9 555.5px,#2087c6 561.5px,#0c7cc1 567.5px,#0e7dc2 571.5px,#3492cb 580.5px,#3492cb 583.5px,#1e86c6 587.5px,#0478bf 590.5px,#0076be 594.5px,#0177be 599.5px,#3492cb 602.5px,#bddcee 608.5px,#e2eff8 610.5px,#f9fcfd 612.5px,#ffffff)"></i><i style="left:254px;background:linear-gradient(#f1f7fb,#e4f0f8 54.5px,#f0f7fb 95.5px,#fffdfd 117.5px,#fbe1d1 141.5px,#f8cbb0 170.5px,#f6b994 219.5px,#f6bd9b 251.5px,#f9cfb7 278.5px,#fcebe0 298.5px,#fefefe 307.5px,#c4dff0 358.5px,#91c4e3 412.5px,#52a2d3 475.5px,#3e97ce 495.5px,#3794cc 508.5px,#2b8dc9 519.5px,#2f8fca 531.5px,#1b84c5 543.5px,#2c8ec9 556.5px,#1d86c5 562.5px,#0b7cc1 568.5px,#107ec2 572.5px,#3492cb 580.5px,#3592cb 583.5px,#2087c6 587.5px,#0076be 591.5px,#0076be 599.5px,#1f86c6 601.5px,#5fa9d6 604.5px,#bddbee 608.5px,#e1eff7 610.5px,#f9fcfd 612.5px,#ffffff)"></i><i style="left:256px;background:linear-gradient(#f0f7fb,#e4f0f8 54.5px,#f0f7fb 94.5px,#fffefd 116.5px,#fbe0d0 140.5px,#f8c9ae 169.5px,#f5b893 218.5px,#f6bc99 249.5px,#f9cfb6 277.5px,#fcebe0 297.5px,#fefeff 306.5px,#c4dff0 356.5px,#93c5e3 410.5px,#50a1d2 476.5px,#3d97cd 496.5px,#3693cc 509.5px,#2b8dc9 520.5px,#2f8fca 532.5px,#1b84c5 544.5px,#2c8ec9 556.5px,#1e86c6 562.5px,#0b7cc1 568.5px,#0f7ec2 572.5px,#3593cc 581.5px,#3291cb 584.5px,#1983c4 588.5px,#0076be 591.5px,#0076be 599.5px,#1d85c5 601.5px,#5da8d6 604.5px,#bcdbee 608.5px,#e1eff7 610.5px,#f8fbfd 612.5px,#ffffff)"></i><i style="left:258px;background:linear-gradient(#f1f7fb,#e4f1f8 54.5px,#f0f7fb 95.5px,#fffdfc 118.5px,#fbe0d0 143.5px,#f8cbb0 172.5px,#f6b995 220.5px,#f6bd9b 251.5px,#f9cfb6 278.5px,#fce9de 298.5px,#fdfeff 309.5px,#c4dff0 360.5px,#7fbade 431.5px,#51a1d3 476.5px,#3d97cd 497.5px,#3693cc 510.5px,#2b8dc9 521.5px,#2f8fca 532.5px,#1b84c5 544.5px,#2c8ec9 557.5px,#1c85c5 563.5px,#0b7cc1 569.5px,#117fc2 573.5px,#3592cb 581.5px,#3391cb 584.5px,#1b84c5 588.5px,#0076be 591.5px,#0076be 599.5px,#1b85c5 601.5px,#5ba7d5 604.5px,#bbdaee 608.5px,#e1eff7 610.5px,#f8fbfd 612.5px,#ffffff)"></i><i style="left:260px;background:linear-gradient(#f2f8fc,#e5f1f8 55.5px,#f0f7fb 98.5px,#fefdfc 122.5px,#fbdfce 152.5px,#f8c8ab 193.5px,#f6bc9a 228.5px,#f7c09f 256.5px,#f9ceb5 281.5px,#fce9dd 303.5px,#fdfdfc 316.5px,#52a2d3 477.5px,#3d97ce 498.5px,#3894cc 510.5px,#2b8dc9 521.5px,#2f8fca 533.5px,#1b84c5 545.5px,#2c8ec9 557.5px,#1e86c6 563.5px,#0b7cc1 569.5px,#107fc2 573.5px,#3492cb 581.5px,#3492cb 584.5px,#1c85c5 588.5px,#0177be 591.5px,#0076be 599.5px,#097bc0 600.5px,#429acf 603.5px,#badaed 608.5px,#e0eef7 610.5px,#f8fbfd 612.5px,#ffffff)"></i><i style="left:262px;background:linear-gradient(#f3f9fc,#e5f1f8 56.5px,#f1f7fb 103.5px,#fefdfc 129.5px,#fbdfcf 162.5px,#f7c1a1 222.5px,#f6be9c 253.5px,#f8caaf 282.5px,#fbe2d3 306.5px,#fdfdfe 326.5px,#53a3d3 477.5px,#3e97ce 499.5px,#3894cc 511.5px,#2b8dc9 522.5px,#3090ca 533.5px,#1b85c5 545.5px,#2d8ec9 557.5px,#2389c7 562.5px,#0b7cc1 569.5px,#0f7ec2 573.5px,#3492cb 581.5px,#3492cb 584.5px,#268ac8 587.5px,#0377bf 591.5px,#0076be 599.5px,#087ac0 600.5px,#4199ce 603.5px,#b9d9ed 608.5px,#e0eef7 610.5px,#f8fbfd 612.5px,#ffffff)"></i><i style="left:264px;background:linear-gradient(#f4f9fc,#e5f1f8 56.5px,#f0f7fb 105.5px,#fffefd 135.5px,#fbe3d5 165.5px,#f7c2a2 226.5px,#f6bd9b 255.5px,#f8c9ad 286.5px,#fbe1d1 312.5px,#fefaf7 329.5px,#fcfdfe 334.5px,#54a3d3 477.5px,#3e97ce 500.5px,#3794cc 512.5px,#2c8dc9 523.5px,#3090ca 534.5px,#1b85c5 546.5px,#2d8ec9 558.5px,#1d85c5 564.5px,#0b7cc1 570.5px,#1280c3 574.5px,#3391cb 581.5px,#3592cb 584.5px,#278bc8 587.5px,#0478bf 591.5px,#0076be 594.5px,#0076be 599.5px,#0679c0 600.5px,#3f98ce 603.5px,#b8d9ed 608.5px,#dfeef7 610.5px,#f8fbfd 612.5px,#ffffff)"></i><i style="left:266px;background:linear-gradient(#f4f9fc,#e5f1f8 57.5px,#f0f7fb 107.5px,#fffefd 136.5px,#fbe5d7 164.5px,#f7c2a2 226.5px,#f6bd9b 255.5px,#f8c9ac 286.5px,#fbe1d1 313.5px,#fefaf7 330.5px,#fdfefe 334.5px,#53a3d3 478.5px,#3d97ce 501.5px,#3793cc 513.5px,#2b8dc9 523.5px,#2f8fca 535.5px,#1b85c5 546.5px,#2d8ec9 558.5px,#2288c7 563.5px,#0b7cc1 570.5px,#117fc2 574.5px,#3592cb 582.5px,#3391cb 585.5px,#1883c4 589.5px,#0076be 592.5px,#0076be 599.5px,#0579bf 600.5px,#3d97ce 603.5px,#cce4f2 609.5px,#edf6fb 611.5px,#fefeff 613.5px,#ffffff)"></i><i style="left:268px;background:linear-gradient(#f3f9fc,#e5f1f8 56.5px,#f0f7fb 104.5px,#fefdfc 131.5px,#fbe1d1 163.5px,#f7c1a1 223.5px,#f6be9c 254.5px,#f8caae 283.5px,#fbe1d1 307.5px,#fdfdfd 328.5px,#50a1d3 480.5px,#3c96cd 501.5px,#3793cc 513.5px,#2b8dc9 524.5px,#2f8fca 535.5px,#1b84c5 547.5px,#2c8ec9 559.5px,#1b85c5 565.5px,#0b7cc1 570.5px,#0f7ec2 574.5px,#3492cb 582.5px,#3392cb 585.5px,#2288c7 588.5px,#0076be 592.5px,#0378bf 600.5px,#268ac8 602.5px,#85bee0 606.5px,#cce3f2 609.5px,#edf5fa 611.5px,#fefeff 613.5px,#ffffff)"></i><i style="left:270px;background:linear-gradient(#f2f8fc,#e5f1f8 55.5px,#f0f7fb 99.5px,#fefdfc 124.5px,#fbdfce 155.5px,#f7c1a1 212.5px,#f6bd9a 246.5px,#f8caae 277.5px,#fbe3d5 301.5px,#fdfcfc 318.5px,#dfeef7 345.5px,#4da0d2 482.5px,#3a95cd 502.5px,#3592cc 514.5px,#298cc9 524.5px,#2e8fca 536.5px,#1a84c5 547.5px,#2c8ec9 559.5px,#2087c6 564.5px,#0b7cc1 570.5px,#0e7ec2 574.5px,#3492cb 582.5px,#3492cb 585.5px,#2489c7 588.5px,#0076be 592.5px,#0277bf 600.5px,#2489c7 602.5px,#84bde0 606.5px,#cbe3f2 609.5px,#edf5fa 611.5px,#fefeff 613.5px,#ffffff)"></i><i style="left:272px;background:linear-gradient(#f1f8fb,#e4f1f8 54.5px,#f0f7fb 96.5px,#fffdfc 119.5px,#fbe0d1 144.5px,#f8ccb2 173.5px,#f6ba97 221.5px,#f6be9c 252.5px,#f9cfb6 279.5px,#fce9de 299.5px,#fdfdfd 310.5px,#c1deef 365.5px,#77b6dc 439.5px,#4b9ed1 483.5px,#3994cc 503.5px,#3391cb 515.5px,#288cc8 525.5px,#2d8eca 536.5px,#1a84c5 548.5px,#2c8dc9 559.5px,#2188c7 564.5px,#0a7cc1 571.5px,#117fc2 575.5px,#3391cb 582.5px,#3492cb 585.5px,#258ac7 588.5px,#0176be 592.5px,#0176be 600.5px,#2289c7 602.5px,#83bcdf 606.5px,#cae3f2 609.5px,#edf5fa 611.5px,#fefeff 613.5px,#ffffff)"></i><i style="left:274px;background:linear-gradient(#f0f7fb,#e4f0f8 54.5px,#f0f7fb 95.5px,#fffefd 116.5px,#fbe2d4 138.5px,#f8caaf 168.5px,#f6b893 218.5px,#f6bd9a 250.5px,#f9d0b7 278.5px,#fceae0 297.5px,#feffff 306.5px,#c4dff0 356.5px,#91c4e3 412.5px,#499dd1 483.5px,#3894cc 504.5px,#3291cb 516.5px,#288bc8 526.5px,#2c8ec9 537.5px,#1983c4 548.5px,#2b8dc9 560.5px,#1b84c5 566.5px,#0a7cc1 571.5px,#107ec2 575.5px,#3592cb 583.5px,#3291cb 586.5px,#1581c3 590.5px,#0277bf 592.5px,#0076be 600.5px,#2188c6 602.5px,#67add8 605.5px,#cae2f1 609.5px,#ecf5fa 611.5px,#fefeff 613.5px,#ffffff)"></i><i style="left:276px;background:linear-gradient(#f1f7fb,#e4f0f8 54.5px,#f0f7fb 95.5px,#fffefe 116.5px,#fbe2d3 139.5px,#f8caaf 169.5px,#f6b893 218.5px,#f6bd9a 250.5px,#f9d0b7 278.5px,#fcece2 298.5px,#fdfeff 307.5px,#c4dff0 357.5px,#91c4e3 412.5px,#499dd1 484.5px,#3794cc 505.5px,#3291cb 516.5px,#278bc8 526.5px,#2d8ec9 537.5px,#1983c4 549.5px,#2b8dc9 560.5px,#2087c6 565.5px,#0b7cc1 571.5px,#0f7ec2 575.5px,#3492cb 583.5px,#3291cb 586.5px,#2087c6 589.5px,#0378bf 592.5px,#0076be 600.5px,#1f87c6 602.5px,#66add8 605.5px,#c9e2f1 609.5px,#ecf5fa 611.5px,#fefeff 613.5px,#ffffff)"></i><i style="left:278px;background:linear-gradient(#f1f8fc,#e4f1f8 54.5px,#f0f7fb 96.5px,#fffdfd 119.5px,#fbdfce 147.5px,#f8ccb1 176.5px,#f6bb97 222.5px,#f6be9d 253.5px,#f9cfb6 279.5px,#fce9de 300.5px,#fdfdfd 311.5px,#bfddef 369.5px,#6eb1da 447.5px,#489dd0 486.5px,#3794cc 505.5px,#3291cb 517.5px,#288bc8 527.5px,#2c8ec9 538.5px,#1983c4 549.5px,#2b8dc9 561.5px,#1983c4 567.5px,#0a7bc1 572.5px,#117fc2 576.5px,#3492cb 583.5px,#3391cb 586.5px,#2188c6 589.5px,#0579bf 592.5px,#0076be 594.5px,#0076be 600.5px,#0b7cc1 601.5px,#4b9ed1 604.5px,#c8e2f1 609.5px,#ecf5fa 611.5px,#fefeff 613.5px,#ffffff)"></i><i style="left:280px;background:linear-gradient(#f3f8fc,#e5f1f8 55.5px,#f0f7fb 100.5px,#fefdfc 125.5px,#fbdece 157.5px,#f7c09f 218.5px,#f6be9c 251.5px,#f8ccb1 280.5px,#fbe4d6 303.5px,#fdfcfc 320.5px,#4a9ed1 485.5px,#3894cc 506.5px,#3492cb 517.5px,#288bc8 527.5px,#2d8eca 538.5px,#1984c4 549.5px,#258ac7 556.5px,#2b8dc9 561.5px,#1f87c6 566.5px,#0a7cc1 572.5px,#107fc2 576.5px,#3392cb 583.5px,#3492cb 586.5px,#2389c7 589.5px,#0076be 593.5px,#0076be 600.5px,#0a7bc1 601.5px,#3190cb 603.5px,#c8e1f1 609.5px,#ecf5fa 611.5px,#fefeff 613.5px,#ffffff)"></i><i style="left:282px;background:linear-gradient(#f4f9fc,#e5f1f8 56.5px,#f0f7fb 104.5px,#fefdfc 132.5px,#fbe1d2 164.5px,#f7c1a1 224.5px,#f6be9c 254.5px,#f8caae 284.5px,#fbe2d2 309.5px,#fcfefe 330.5px,#4c9fd1 484.5px,#3894cc 507.5px,#3492cb 518.5px,#288cc8 528.5px,#2d8ec9 539.5px,#1a84c5 550.5px,#2c8dc9 561.5px,#2087c6 566.5px,#0b7cc1 572.5px,#107ec2 576.5px,#3391cb 583.5px,#3492cb 586.5px,#2489c7 589.5px,#0076be 593.5px,#0076be 600.5px,#097bc0 601.5px,#3090ca 603.5px,#c7e1f1 609.5px,#ebf5fa 611.5px,#fefeff 613.5px,#ffffff)"></i><i style="left:284px;background:linear-gradient(#f4f9fc,#e5f1f8 57.5px,#f0f7fb 107.5px,#fffefe 136.5px,#fce6d9 163.5px,#f7c2a3 225.5px,#f6bd9b 254.5px,#f8c8ab 285.5px,#fbdecd 311.5px,#fef9f6 330.5px,#feffff 333.5px,#4c9fd1 484.5px,#3894cc 508.5px,#3391cb 519.5px,#288cc8 529.5px,#2e8eca 539.5px,#1a84c5 550.5px,#258ac8 557.5px,#2b8dc9 562.5px,#1983c4 568.5px,#0a7bc1 573.5px,#1380c3 577.5px,#3592cb 584.5px,#3291cb 587.5px,#1380c3 591.5px,#0076be 593.5px,#0076be 600.5px,#077ac0 601.5px,#2e8fca 603.5px,#c6e0f1 609.5px,#ebf4fa 611.5px,#fefeff 613.5px,#ffffff)"></i><i style="left:286px;background:linear-gradient(#f4f9fc,#e5f1f8 56.5px,#f0f7fb 105.5px,#fffdfc 135.5px,#fbe3d5 164.5px,#f7c2a2 225.5px,#f6bd9b 254.5px,#f8c9ad 285.5px,#fbe1d1 311.5px,#fefaf7 328.5px,#fbfdfe 334.5px,#4b9ed1 485.5px,#3894cc 509.5px,#3291cb 520.5px,#288bc8 529.5px,#2d8ec9 540.5px,#1984c4 551.5px,#2b8dc9 562.5px,#1f86c6 567.5px,#0a7cc1 573.5px,#117fc2 577.5px,#3492cb 584.5px,#3291cb 587.5px,#1e86c6 590.5px,#0176be 593.5px,#0076be 600.5px,#0679c0 601.5px,#2c8ec9 603.5px,#c6e0f0 609.5px,#ebf4fa 611.5px,#fefeff 613.5px,#ffffff)"></i><i style="left:288px;background:linear-gradient(#f3f9fc,#e5f1f8 56.5px,#f1f7fb 102.5px,#fefdfc 128.5px,#fbe0cf 160.5px,#f7c1a0 221.5px,#f6be9c 253.5px,#f8cbb0 282.5px,#fbe4d6 306.5px,#fdfdfc 324.5px,#489dd0 487.5px,#3793cc 510.5px,#3090ca 521.5px,#278bc8 530.5px,#2d8ec9 540.5px,#1983c4 551.5px,#2b8dc9 562.5px,#2087c6 567.5px,#0a7cc1 573.5px,#107fc2 577.5px,#3492cb 584.5px,#3391cb 587.5px,#2087c6 590.5px,#0277bf 593.5px,#0076be 600.5px,#0579bf 601.5px,#2b8dc9 603.5px,#c5e0f0 609.5px,#ebf4fa 611.5px,#fefeff 613.5px,#ffffff)"></i><i style="left:290px;background:linear-gradient(#f2f8fc,#e5f1f8 55.5px,#f1f7fb 98.5px,#fefdfc 121.5px,#fbdecd 151.5px,#f8cbb0 184.5px,#f6bc9a 223.5px,#f6bf9e 254.5px,#f8ceb5 280.5px,#fce7db 301.5px,#fefbfa 313.5px,#f7fbfd 320.5px,#b1d5eb 387.5px,#459bd0 489.5px,#3592cc 510.5px,#3090ca 521.5px,#268ac8 530.5px,#2b8dc9 541.5px,#1883c4 551.5px,#2489c7 558.5px,#2b8dc9 563.5px,#1d85c5 568.5px,#0b7cc1 573.5px,#0f7ec2 577.5px,#3391cb 584.5px,#3392cb 587.5px,#2188c6 590.5px,#0378bf 593.5px,#0076be 600.5px,#0378bf 601.5px,#298cc8 603.5px,#c4dff0 609.5px,#eaf4fa 611.5px,#fefeff 613.5px,#ffffff)"></i><i style="left:292px;background:linear-gradient(#f1f7fb,#e4f0f8 54.5px,#f0f7fb 95.5px,#fffefd 117.5px,#fbe1d2 141.5px,#f8cbb0 170.5px,#f6b995 219.5px,#f6bd9b 251.5px,#f9cfb6 278.5px,#fceadf 298.5px,#fefeff 308.5px,#c4dff0 359.5px,#8ec2e2 416.5px,#439acf 491.5px,#3492cb 511.5px,#2e8fca 522.5px,#258ac8 531.5px,#2b8dc9 541.5px,#1883c4 552.5px,#2b8dc9 563.5px,#1e86c6 568.5px,#0a7bc0 574.5px,#1280c3 578.5px,#3291cb 584.5px,#3492cb 587.5px,#2288c7 590.5px,#0579bf 593.5px,#0076be 595.5px,#0277bf 601.5px,#278bc8 603.5px,#c3dff0 609.5px,#eaf4fa 611.5px,#fefeff 613.5px,#ffffff)"></i><i style="left:294px;background:linear-gradient(#f0f7fb,#e4f0f8 54.5px,#f0f7fb 94.5px,#fffdfd 116.5px,#fbe0d0 140.5px,#f8c9ae 169.5px,#f5b892 218.5px,#f6bc99 249.5px,#f9cfb6 277.5px,#fcebe0 297.5px,#fefeff 306.5px,#c4dff0 356.5px,#92c4e3 411.5px,#429acf 491.5px,#3391cb 512.5px,#2f8fca 522.5px,#258ac7 531.5px,#2a8dc9 542.5px,#1883c4 552.5px,#2489c7 559.5px,#2a8dc9 564.5px,#1682c4 570.5px,#0a7bc0 574.5px,#117fc2 578.5px,#3291cb 584.5px,#3492cb 587.5px,#2489c7 590.5px,#0076be 594.5px,#0176be 601.5px,#268ac8 603.5px,#8fc3e2 607.5px,#d8eaf5 610.5px,#f6fafd 612.5px,#ffffff)"></i><i style="left:296px;background:linear-gradient(#f1f7fb,#e4f0f8 54.5px,#f0f7fb 95.5px,#fffefd 117.5px,#fbe0d0 142.5px,#f8cbb0 171.5px,#f6b995 219.5px,#f6bd9b 251.5px,#f9cfb6 278.5px,#fceadf 298.5px,#fefeff 308.5px,#c4dff0 359.5px,#8ec2e2 416.5px,#4299cf 492.5px,#3391cb 512.5px,#2e8fca 523.5px,#258ac7 532.5px,#2b8dc9 542.5px,#1883c4 553.5px,#2a8dc9 564.5px,#1c85c5 569.5px,#0a7bc1 574.5px,#107fc2 578.5px,#3492cb 585.5px,#3191cb 588.5px,#1c85c5 591.5px,#0076be 594.5px,#0076be 601.5px,#248ac7 603.5px,#8ec2e2 607.5px,#d8eaf5 610.5px,#f6fafd 612.5px,#ffffff)"></i><i style="left:298px;background:linear-gradient(#f2f8fc,#e5f1f8 55.5px,#f1f7fb 98.5px,#fefdfd 121.5px,#fbdece 151.5px,#f8cbb1 184.5px,#f6bc9a 223.5px,#f6bf9e 254.5px,#f8ceb5 280.5px,#fce9dd 302.5px,#fdfcfb 314.5px,#eef6fb 328.5px,#439acf 491.5px,#3392cb 513.5px,#2f8fca 523.5px,#258ac7 532.5px,#2b8dc9 543.5px,#1883c4 553.5px,#2a8dc9 564.5px,#1d86c5 569.5px,#0b7cc1 574.5px,#0f7ec2 578.5px,#3492cb 585.5px,#3291cb 588.5px,#1d86c6 591.5px,#0076be 594.5px,#0076be 601.5px,#2389c7 603.5px,#70b2db 606.5px,#c1deef 609.5px,#e9f3f9 611.5px,#fefeff 613.5px,#ffffff)"></i><i style="left:300px;background:linear-gradient(#f3f9fc,#e5f1f8 56.5px,#f0f7fb 102.5px,#fefdfc 128.5px,#fbdfce 161.5px,#f7c0a0 222.5px,#f6be9c 253.5px,#f8cbb0 282.5px,#fbe4d5 306.5px,#fcfdfe 325.5px,#459bd0 490.5px,#3492cb 514.5px,#2f8fca 524.5px,#268ac8 533.5px,#2b8dc9 543.5px,#1883c4 554.5px,#2b8dc9 564.5px,#1e86c6 569.5px,#0a7bc0 575.5px,#1380c3 579.5px,#3392cb 585.5px,#3391cb 588.5px,#1f87c6 591.5px,#0076be 594.5px,#0076be 601.5px,#0d7dc1 602.5px,#3995cd 604.5px,#c0ddef 609.5px,#e9f3f9 611.5px,#fdfeff 613.5px,#ffffff)"></i><i style="left:302px;background:linear-gradient(#f4f9fc,#e5f1f8 56.5px,#f0f7fb 105.5px,#fffdfc 135.5px,#fbe3d5 164.5px,#f7c2a2 225.5px,#f6bd9b 254.5px,#f8c9ad 285.5px,#fbe0d1 311.5px,#fef9f6 328.5px,#fcfdfe 333.5px,#469cd0 489.5px,#3492cb 515.5px,#2f8fca 525.5px,#268ac8 534.5px,#2b8dc9 544.5px,#1883c4 554.5px,#2b8dc9 565.5px,#1b85c5 570.5px,#0a7bc1 575.5px,#1280c3 579.5px,#3391cb 585.5px,#3392cb 588.5px,#2087c6 591.5px,#0177be 594.5px,#0076be 601.5px,#0c7cc1 602.5px,#3794cc 604.5px,#c0ddef 609.5px,#e9f3f9 611.5px,#fdfeff 613.5px,#ffffff)"></i><i style="left:304px;background:linear-gradient(#f4f9fc,#e5f1f8 57.5px,#f0f7fb 107.5px,#fffefe 136.5px,#fce6d8 163.5px,#f7c2a3 225.5px,#f6bd9b 254.5px,#f8c8ab 285.5px,#fbdecd 311.5px,#fef9f6 330.5px,#fdfeff 334.5px,#479cd0 489.5px,#3492cb 515.5px,#2f90ca 525.5px,#268ac8 534.5px,#2b8dc9 544.5px,#1883c4 554.5px,#258ac8 561.5px,#2a8cc9 566.5px,#0a7cc1 575.5px,#0d7dc1 578.5px,#3592cb 586.5px,#3090ca 589.5px,#0d7dc1 593.5px,#0377bf 594.5px,#0076be 601.5px,#0b7cc1 602.5px,#3693cc 604.5px,#bfddef 609.5px,#e9f3f9 611.5px,#fdfeff 613.5px,#ffffff)"></i><i style="left:306px;background:linear-gradient(#f4f9fc,#e5f1f8 56.5px,#f0f7fb 104.5px,#fefdfc 132.5px,#fbe1d1 164.5px,#f7c1a1 224.5px,#f6be9c 254.5px,#f8caae 284.5px,#fbe2d3 309.5px,#fdfdfe 329.5px,#449bcf 491.5px,#3392cb 516.5px,#2e8fca 526.5px,#258ac7 535.5px,#2a8dc9 545.5px,#1883c4 555.5px,#2b8dc9 565.5px,#1e86c6 570.5px,#0b7cc1 575.5px,#0c7dc1 578.5px,#3492cb 586.5px,#3190ca 589.5px,#1984c4 592.5px,#0478bf 594.5px,#0076be 598.5px,#0076be 601.5px,#097bc0 602.5px,#3492cb 604.5px,#bedcef 609.5px,#e8f3f9 611.5px,#fdfeff 613.5px,#ffffff)"></i><i style="left:308px;background:linear-gradient(#f2f8fc,#e5f1f8 55.5px,#f0f7fb 100.5px,#fefdfd 124.5px,#fbdecd 157.5px,#f7c09f 218.5px,#f6be9c 251.5px,#f8ccb1 280.5px,#fbe4d7 303.5px,#fdfcfb 319.5px,#f4f9fc 328.5px,#4299cf 493.5px,#3291cb 517.5px,#2c8ec9 527.5px,#2489c7 535.5px,#2a8dc9 545.5px,#1783c4 555.5px,#2a8dc9 565.5px,#1f86c6 570.5px,#0b7cc1 575.5px,#0b7cc1 578.5px,#3492cb 586.5px,#3190cb 589.5px,#1b84c5 592.5px,#0579bf 594.5px,#0076be 596.5px,#0076be 601.5px,#087ac0 602.5px,#3391cb 604.5px,#bedcee 609.5px,#e8f3f9 611.5px,#f6fafd 612.5px,#fdfeff 613.5px,#ffffff)"></i><i style="left:310px;background:linear-gradient(#f1f8fc,#e4f1f8 54.5px,#f0f7fb 96.5px,#fffdfd 119.5px,#fbdfcf 146.5px,#f8ccb2 175.5px,#f6bb97 221.5px,#f6be9c 252.5px,#f9cfb6 279.5px,#fceadf 300.5px,#fdfdfd 311.5px,#c0ddef 368.5px,#72b3db 444.5px,#3f98ce 497.5px,#3190ca 517.5px,#2c8ec9 527.5px,#2489c7 536.5px,#2a8dc9 545.5px,#1782c4 555.5px,#2288c7 561.5px,#2a8dc9 566.5px,#1b85c5 571.5px,#0a7bc0 576.5px,#0e7dc2 579.5px,#3392cb 586.5px,#3291cb 589.5px,#1c85c5 592.5px,#0076be 595.5px,#0076be 601.5px,#077ac0 602.5px,#3190cb 604.5px,#bddbee 609.5px,#e8f2f9 611.5px,#f6fafd 612.5px,#fdfeff 613.5px,#ffffff)"></i><i style="left:312px;background:linear-gradient(#f1f7fb,#e4f0f8 54.5px,#f0f7fb 95.5px,#fffefe 116.5px,#fbe3d4 138.5px,#f8cbb0 168.5px,#f6b893 218.5px,#f6bd9a 250.5px,#f9d0b7 278.5px,#fcece2 298.5px,#fdfeff 307.5px,#c4dff0 357.5px,#91c4e3 412.5px,#3e97ce 495.5px,#3090ca 518.5px,#2b8dc9 528.5px,#2389c7 536.5px,#298cc8 546.5px,#1782c4 556.5px,#2a8cc9 566.5px,#1c85c5 571.5px,#0a7bc0 576.5px,#0d7dc1 579.5px,#3391cb 586.5px,#3291cb 589.5px,#1d86c5 592.5px,#0076be 595.5px,#0076be 601.5px,#0679bf 602.5px,#3090ca 604.5px,#bcdbee 609.5px,#e7f2f9 611.5px,#f5fafd 612.5px,#fdfeff 613.5px,#ffffff)"></i><i style="left:314px;background:linear-gradient(#f0f7fb,#e4f0f8 54.5px,#f0f7fb 95.5px,#fffefe 116.5px,#fbe2d4 138.5px,#f8caaf 168.5px,#f6b893 218.5px,#f6bd9a 250.5px,#f9d0b7 278.5px,#fceae0 297.5px,#feffff 306.5px,#c4dff0 356.5px,#92c4e3 411.5px,#3d97ce 496.5px,#2f8fca 518.5px,#2b8dc9 528.5px,#2389c7 537.5px,#298cc8 546.5px,#1782c4 556.5px,#2a8cc9 566.5px,#2288c7 570.5px,#0a7bc1 576.5px,#0c7dc1 579.5px,#3291cb 586.5px,#3391cb 589.5px,#1e86c6 592.5px,#0076be 595.5px,#0076be 601.5px,#0478bf 602.5px,#2e8fca 604.5px,#bbdbee 609.5px,#e7f2f9 611.5px,#f5fafd 612.5px,#fdfeff 613.5px,#ffffff)"></i><i style="left:316px;background:linear-gradient(#f1f8fb,#e4f1f8 54.5px,#f0f7fb 96.5px,#fffdfc 119.5px,#fbe1d1 144.5px,#f8ccb2 173.5px,#f6ba97 221.5px,#f6be9c 252.5px,#f9cfb6 279.5px,#fcebe0 300.5px,#fdfdfd 310.5px,#c1ddef 366.5px,#77b6dc 439.5px,#3e97ce 497.5px,#3090ca 519.5px,#2b8dc9 529.5px,#2389c7 537.5px,#298cc8 547.5px,#1782c4 556.5px,#2188c7 562.5px,#2a8cc9 567.5px,#1a84c5 572.5px,#097bc0 577.5px,#0f7ec2 580.5px,#3291cb 586.5px,#3392cb 589.5px,#2087c6 592.5px,#0076be 595.5px,#0378bf 602.5px,#2d8ec9 604.5px,#bbdaee 609.5px,#e7f2f9 611.5px,#f5fafd 612.5px,#fdfeff 613.5px,#ffffff)"></i><i style="left:318px;background:linear-gradient(#f2f8fc,#e5f1f8 55.5px,#f0f7fb 99.5px,#fefdfc 124.5px,#fbdfce 155.5px,#f7c1a1 212.5px,#f6bd9a 246.5px,#f8caae 277.5px,#fbe3d4 301.5px,#fdfbfa 317.5px,#f9fcfd 323.5px,#4098ce 495.5px,#3090ca 520.5px,#2c8ec9 529.5px,#2389c7 538.5px,#298cc9 547.5px,#1782c4 557.5px,#2a8cc9 567.5px,#1b85c5 572.5px,#097bc0 577.5px,#0e7ec2 580.5px,#3492cb 587.5px,#3090ca 590.5px,#1782c4 593.5px,#0176be 595.5px,#0277bf 602.5px,#2b8dc9 604.5px,#badaed 609.5px,#e7f2f9 611.5px,#f5fafc 612.5px,#fdfeff 613.5px,#ffffff)"></i><i style="left:320px;background:linear-gradient(#f3f9fc,#e5f1f8 56.5px,#f0f7fb 104.5px,#fefdfc 131.5px,#fbe0d0 164.5px,#f7c1a1 224.5px,#f6be9c 254.5px,#f8caae 283.5px,#fbe0d1 307.5px,#fcfefe 329.5px,#4ea0d2 483.5px,#3e97ce 502.5px,#3090ca 519.5px,#2d8eca 529.5px,#2489c7 538.5px,#2a8dc9 547.5px,#1782c4 557.5px,#2a8dc9 567.5px,#2188c6 571.5px,#0a7bc0 577.5px,#0e7dc1 580.5px,#3492cb 587.5px,#3190ca 590.5px,#1883c4 593.5px,#0277bf 595.5px,#0177be 602.5px,#2a8dc9 604.5px,#b9d9ed 609.5px,#e6f2f9 611.5px,#f5fafc 612.5px,#fdfeff 613.5px,#ffffff)"></i><i style="left:322px;background:linear-gradient(#f4f9fc,#e5f1f8 57.5px,#f0f7fb 107.5px,#fffefd 136.5px,#fbe5d7 164.5px,#f7c2a2 226.5px,#f6bd9b 255.5px,#f8c9ac 286.5px,#fbe1d1 313.5px,#fefaf7 330.5px,#fdfefe 334.5px,#50a1d2 481.5px,#3e97ce 503.5px,#3190ca 520.5px,#2d8ec9 530.5px,#2389c7 538.5px,#298cc9 548.5px,#1782c4 557.5px,#2288c7 563.5px,#2a8cc9 568.5px,#1983c4 573.5px,#0a7bc1 577.5px,#0d7dc1 580.5px,#3392cb 587.5px,#3191cb 590.5px,#1a84c5 593.5px,#0378bf 595.5px,#0076be 602.5px,#288cc8 604.5px,#b8d9ed 609.5px,#e6f2f9 611.5px,#f5fafc 612.5px,#fdfeff 613.5px,#ffffff)"></i><i style="left:324px;background:linear-gradient(#f4f9fc,#e5f1f8 56.5px,#f0f7fb 105.5px,#fffefd 135.5px,#fbe3d5 165.5px,#f7c2a2 226.5px,#f6bd9b 255.5px,#f8c9ad 286.5px,#fbe1d1 312.5px,#fefaf8 329.5px,#fcfdfe 334.5px,#4fa0d2 482.5px,#3d97ce 504.5px,#3090ca 521.5px,#2d8ec9 530.5px,#2389c7 539.5px,#2a8cc9 548.5px,#1782c4 558.5px,#2a8cc9 568.5px,#1a84c5 573.5px,#0a7cc1 577.5px,#0c7dc1 580.5px,#3391cb 587.5px,#3291cb 590.5px,#1b84c5 593.5px,#0478bf 595.5px,#0076be 598.5px,#0076be 602.5px,#278bc8 604.5px,#d1e6f3 610.5px,#f5fafc 612.5px,#fdfeff 613.5px,#ffffff)"></i><i style="left:326px;background:linear-gradient(#f3f9fc,#e5f1f8 56.5px,#f1f7fb 103.5px,#fefdfc 129.5px,#fbe0d0 161.5px,#f7c1a0 222.5px,#f6be9c 253.5px,#f8cbaf 282.5px,#fbe2d3 306.5px,#fcfdfe 326.5px,#4b9ed1 485.5px,#3c96cd 505.5px,#2f8fca 521.5px,#2b8dc9 531.5px,#2389c7 539.5px,#298cc8 549.5px,#1782c4 558.5px,#2a8cc9 568.5px,#2087c6 572.5px,#0b7cc1 577.5px,#0c7cc1 580.5px,#3291cb 587.5px,#3391cb 590.5px,#1c85c5 593.5px,#0679bf 595.5px,#0076be 597.5px,#0076be 602.5px,#0f7ec2 603.5px,#4098ce 605.5px,#b7d8ed 609.5px,#e5f1f8 611.5px,#f5f9fc 612.5px,#fdfeff 613.5px,#ffffff)"></i><i style="left:328px;background:linear-gradient(#f2f8fc,#e5f1f8 55.5px,#f0f7fb 98.5px,#fefdfc 122.5px,#fbdfce 152.5px,#f8c8ab 193.5px,#f6bc9a 228.5px,#f7c09f 256.5px,#f9ceb5 281.5px,#fce9de 303.5px,#fdfcfb 315.5px,#f1f7fb 327.5px,#3e97ce 497.5px,#3190ca 515.5px,#2b8dc9 531.5px,#2288c7 540.5px,#298cc8 549.5px,#1682c4 558.5px,#2288c7 564.5px,#298cc8 569.5px,#1280c3 575.5px,#097bc0 579.5px,#1984c4 583.5px,#3291cb 587.5px,#3391cb 590.5px,#1d86c5 593.5px,#0076be 596.5px,#0076be 602.5px,#0e7ec2 603.5px,#3e98ce 605.5px,#b6d8ec 609.5px,#e5f1f8 611.5px,#f5f9fc 612.5px,#fdfeff 613.5px,#ffffff)"></i><i style="left:330px;background:linear-gradient(#f1f7fb,#e4f1f8 54.5px,#f0f7fb 95.5px,#fffdfc 118.5px,#fbe0d0 143.5px,#f8cbb0 172.5px,#f6b995 220.5px,#f6bd9b 251.5px,#f9cfb6 278.5px,#fce9de 298.5px,#fdfeff 309.5px,#c4dff0 360.5px,#8bc1e1 419.5px,#3b96cd 499.5px,#2f8fca 516.5px,#2a8cc9 532.5px,#2188c6 540.5px,#288cc8 549.5px,#1682c4 559.5px,#298cc8 569.5px,#1883c4 574.5px,#097bc0 578.5px,#0d7dc1 581.5px,#3492cb 588.5px,#2f8fca 591.5px,#0076be 596.5px,#0076be 602.5px,#0d7dc1 603.5px,#3d97ce 605.5px,#b5d7ec 609.5px,#e5f1f8 611.5px,#f4f9fc 612.5px,#fdfeff 613.5px,#ffffff)"></i><i style="left:332px;background:linear-gradient(#f0f7fb,#e4f0f8 54.5px,#f0f7fb 94.5px,#fffefd 116.5px,#fbe0d0 140.5px,#f8c9ae 169.5px,#f5b892 218.5px,#f6bc99 249.5px,#f9cfb6 277.5px,#fcebe0 297.5px,#fefeff 306.5px,#c4dff0 356.5px,#92c4e3 411.5px,#3a95cd 500.5px,#2e8fca 517.5px,#2a8dc9 532.5px,#2188c6 541.5px,#278bc8 550.5px,#1682c4 559.5px,#298cc8 569.5px,#1984c4 574.5px,#0a7bc0 578.5px,#0d7dc1 581.5px,#3492cb 588.5px,#3090ca 591.5px,#1581c3 594.5px,#0076be 596.5px,#0076be 602.5px,#0c7cc1 603.5px,#3c96cd 605.5px,#b4d7ec 609.5px,#e5f1f8 611.5px,#f4f9fc 612.5px,#fdfeff 613.5px,#ffffff)"></i><i style="left:334px;background:linear-gradient(#f1f7fb,#e4f0f8 54.5px,#f0f7fb 95.5px,#fffefd 117.5px,#fbe2d2 140.5px,#f8cbb0 170.5px,#f6b994 219.5px,#f6bd9b 251.5px,#f9cfb7 278.5px,#fcebe0 298.5px,#fdfefe 308.5px,#c4dff0 358.5px,#90c3e3 414.5px,#3a95cd 500.5px,#2e8fca 517.5px,#2b8dc9 532.5px,#2188c6 541.5px,#288bc8 550.5px,#1682c4 559.5px,#2288c7 565.5px,#288cc8 570.5px,#0a7bc1 578.5px,#0c7cc1 581.5px,#3392cb 588.5px,#3090ca 591.5px,#1682c4 594.5px,#0076be 596.5px,#0076be 602.5px,#0a7cc1 603.5px,#3a95cd 605.5px,#b4d7ec 609.5px,#e4f1f8 611.5px,#f4f9fc 612.5px,#fdfeff 613.5px,#ffffff)"></i><i style="left:336px;background:linear-gradient(#f2f8fc,#e5f1f8 55.5px,#f1f7fb 98.5px,#fffdfc 121.5px,#fbe0d0 148.5px,#f8cdb3 178.5px,#f6bc99 223.5px,#f6bf9e 254.5px,#f9cfb5 280.5px,#fce9dd 301.5px,#fdfcfc 313.5px,#b2d6eb 385.5px,#439acf 492.5px,#2d8ec9 524.5px,#2a8dc9 533.5px,#2188c6 541.5px,#288cc8 550.5px,#1682c4 560.5px,#298cc9 569.5px,#2087c6 573.5px,#0b7cc1 578.5px,#0b7cc1 581.5px,#3391cb 588.5px,#3190ca 591.5px,#1883c4 594.5px,#0076be 596.5px,#0076be 602.5px,#097bc0 603.5px,#3995cc 605.5px,#cee5f2 610.5px,#e4f0f8 611.5px,#f4f9fc 612.5px,#fdfeff 613.5px,#ffffff)"></i><i style="left:338px;background:linear-gradient(#f3f8fc,#e5f1f8 55.5px,#f0f7fb 101.5px,#fefdfc 127.5px,#fbdfce 160.5px,#f7c0a0 221.5px,#f6be9d 253.5px,#f8cbb0 281.5px,#fbe4d6 305.5px,#fdfcfb 322.5px,#f5fafd 330.5px,#489dd0 487.5px,#2d8eca 524.5px,#2b8dc9 533.5px,#2288c7 542.5px,#288bc8 551.5px,#1682c4 560.5px,#298cc8 570.5px,#1883c4 575.5px,#097bc0 579.5px,#0e7ec2 582.5px,#3391cb 588.5px,#3291cb 591.5px,#1983c4 594.5px,#0177be 596.5px,#0076be 602.5px,#087ac0 603.5px,#3794cc 605.5px,#cde4f2 610.5px,#e4f0f8 611.5px,#f4f9fc 612.5px,#fdfeff 613.5px,#ffffff)"></i><i style="left:340px;background:linear-gradient(#f4f9fc,#e5f1f8 56.5px,#f0f7fb 105.5px,#fffdfc 134.5px,#fbe2d3 165.5px,#f7c2a2 225.5px,#f6be9c 254.5px,#f8c9ad 284.5px,#fbe0d0 310.5px,#fef9f6 327.5px,#fbfdfe 333.5px,#4a9ed1 486.5px,#2e8fca 525.5px,#2b8dc9 534.5px,#2288c7 542.5px,#298cc8 551.5px,#1682c4 560.5px,#2389c7 566.5px,#298cc9 570.5px,#1e86c6 574.5px,#0a7bc0 579.5px,#0e7dc2 582.5px,#3291cb 588.5px,#3291cb 591.5px,#1a84c5 594.5px,#0377bf 596.5px,#0076be 602.5px,#077ac0 603.5px,#3693cc 605.5px,#cde4f2 610.5px,#e3f0f8 611.5px,#f4f9fc 612.5px,#fdfeff 613.5px,#ffffff)"></i><i style="left:342px;background:linear-gradient(#f4f9fc,#e5f1f8 57.5px,#f0f7fb 107.5px,#fffefe 136.5px,#fce6d9 163.5px,#f7c2a3 225.5px,#f6bd9b 254.5px,#f8c8ab 285.5px,#fbdecd 311.5px,#fef9f6 330.5px,#fdfeff 334.5px,#4c9fd1 484.5px,#3995cd 510.5px,#2e8eca 525.5px,#2b8dc9 534.5px,#2288c7 543.5px,#298cc8 551.5px,#1682c4 561.5px,#298cc9 570.5px,#1f87c6 574.5px,#0a7bc1 579.5px,#0d7dc1 582.5px,#3191cb 588.5px,#3391cb 591.5px,#1b85c5 594.5px,#0478bf 596.5px,#0076be 600.5px,#0076be 602.5px,#0679bf 603.5px,#3592cb 605.5px,#cce4f2 610.5px,#e3f0f8 611.5px,#f4f9fc 612.5px,#fdfeff 613.5px,#ffffff)"></i><i style="left:344px;background:linear-gradient(#f4f9fc,#e5f1f8 56.5px,#f0f7fb 104.5px,#fffdfc 133.5px,#fbe2d3 164.5px,#f7c1a1 225.5px,#f6be9c 255.5px,#f8caaf 285.5px,#fbe3d4 311.5px,#fdfefe 330.5px,#499dd1 487.5px,#2d8eca 526.5px,#2a8dc9 535.5px,#2188c7 543.5px,#288bc8 552.5px,#1682c4 561.5px,#298cc9 570.5px,#2087c6 574.5px,#0a7bc1 579.5px,#0c7dc1 582.5px,#3492cb 589.5px,#2e8fca 592.5px,#0579bf 596.5px,#0076be 598.5px,#0076be 602.5px,#0579bf 603.5px,#3392cb 605.5px,#cce3f2 610.5px,#e3f0f8 611.5px,#f4f9fc 612.5px,#fdfefe 613.5px,#ffffff)"></i><i style="left:346px;background:linear-gradient(#f3f8fc,#e5f1f8 55.5px,#f0f7fb 100.5px,#fefdfd 125.5px,#fbdecd 159.5px,#f7c09f 220.5px,#f6be9c 252.5px,#f8ccb1 281.5px,#fbe4d7 304.5px,#fcfdfe 322.5px,#469cd0 489.5px,#2c8ec9 526.5px,#2a8dc9 535.5px,#2188c6 543.5px,#288bc8 552.5px,#1682c4 561.5px,#2389c7 567.5px,#298cc8 571.5px,#1782c4 576.5px,#097bc0 580.5px,#107ec2 583.5px,#3492cb 589.5px,#2f8fca 592.5px,#1280c3 595.5px,#0076be 597.5px,#0076be 602.5px,#0478bf 603.5px,#3291cb 605.5px,#cbe3f2 610.5px,#e2f0f8 611.5px,#f3f9fc 612.5px,#fdfefe 613.5px,#ffffff)"></i><i style="left:348px;background:linear-gradient(#f1f8fc,#e4f1f8 55.5px,#f0f7fb 97.5px,#fffdfc 120.5px,#fbe0cf 147.5px,#f8cdb2 176.5px,#f6bb98 222.5px,#f6be9d 253.5px,#f9cfb6 280.5px,#fceadf 301.5px,#fefcfb 311.5px,#f6fafd 319.5px,#bddbee 372.5px,#4299cf 493.5px,#2b8dc9 527.5px,#288cc8 536.5px,#2087c6 544.5px,#278bc8 553.5px,#1682c3 561.5px,#1e86c6 566.5px,#298cc8 571.5px,#1d86c5 575.5px,#097bc0 580.5px,#0f7ec2 583.5px,#3392cb 589.5px,#3090ca 592.5px,#1380c3 595.5px,#0076be 597.5px,#0377bf 603.5px,#3190ca 605.5px,#cbe3f2 610.5px,#e2eff8 611.5px,#f3f9fc 612.5px,#fdfefe 613.5px,#ffffff)"></i><i style="left:350px;background:linear-gradient(#f1f7fb,#e4f0f8 54.5px,#f0f7fb 95.5px,#fffefe 116.5px,#fbe1d1 140.5px,#f8cbaf 169.5px,#f6b894 218.5px,#f6bd9a 250.5px,#f9d0b7 278.5px,#fcebe1 298.5px,#fefeff 307.5px,#c4dff0 357.5px,#90c4e3 413.5px,#4199cf 493.5px,#2a8dc9 527.5px,#288cc8 536.5px,#2087c6 544.5px,#278bc8 553.5px,#1581c3 562.5px,#298cc8 571.5px,#1e86c6 575.5px,#097bc0 580.5px,#0e7dc2 583.5px,#3391cb 589.5px,#3492cb 591.5px,#2087c6 594.5px,#0076be 597.5px,#0277be 603.5px,#2f8fca 605.5px,#cae3f2 610.5px,#e2eff8 611.5px,#f3f9fc 612.5px,#fdfefe 613.5px,#ffffff)"></i><i style="left:352px;background:linear-gradient(#f0f7fb,#e4f0f8 54.5px,#f0f7fb 94.5px,#fffefd 116.5px,#fbe1d2 139.5px,#f8caae 169.5px,#f5b893 218.5px,#f6bc99 249.5px,#f9d0b8 278.5px,#fcebe0 297.5px,#feffff 306.5px,#c4dff0 356.5px,#92c4e3 411.5px,#4199ce 493.5px,#2a8dc9 528.5px,#278bc8 537.5px,#2087c6 545.5px,#278bc8 553.5px,#1581c3 562.5px,#298cc8 571.5px,#1f87c6 575.5px,#097bc0 580.5px,#0d7dc1 583.5px,#3291cb 589.5px,#3492cb 591.5px,#2188c6 594.5px,#0076be 597.5px,#0176be 603.5px,#2e8fca 605.5px,#cae2f1 610.5px,#e1eff7 611.5px,#f3f9fc 612.5px,#fdfefe 613.5px,#ffffff)"></i><i style="left:354px;background:linear-gradient(#f1f7fb,#e4f1f8 54.5px,#f0f7fb 95.5px,#fffefd 118.5px,#fbe0d0 144.5px,#f8cbb1 173.5px,#f6ba96 220.5px,#f6be9c 251.5px,#f9cfb7 279.5px,#fceadf 299.5px,#fdfeff 310.5px,#c3dff0 362.5px,#80bbdf 431.5px,#4199ce 494.5px,#2a8dc9 528.5px,#288bc8 537.5px,#2087c6 545.5px,#278bc8 553.5px,#1581c3 562.5px,#2288c7 568.5px,#288cc8 572.5px,#1682c4 577.5px,#097bc0 581.5px,#117fc2 584.5px,#3291cb 589.5px,#3592cb 591.5px,#2b8dc9 593.5px,#0076be 597.5px,#0076be 603.5px,#2d8ec9 605.5px,#c9e2f1 610.5px,#e1eff7 611.5px,#f3f8fc 612.5px,#fdfefe 613.5px,#ffffff)"></i><i style="left:356px;background:linear-gradient(#f2f8fc,#e5f1f8 55.5px,#f1f7fb 99.5px,#fefdfc 123.5px,#fbdecd 154.5px,#f7c2a3 207.5px,#f6bc9a 240.5px,#f7c6a8 270.5px,#fadcca 295.5px,#fdfcfc 317.5px,#439acf 492.5px,#2b8dc9 529.5px,#278bc8 538.5px,#2087c6 545.5px,#278bc8 554.5px,#1581c3 563.5px,#298cc8 572.5px,#1c85c5 576.5px,#0a7bc1 580.5px,#0c7cc1 583.5px,#3190cb 589.5px,#3592cb 591.5px,#2c8ec9 593.5px,#0076be 597.5px,#0076be 603.5px,#1280c3 604.5px,#499dd1 606.5px,#c8e2f1 610.5px,#e1eff7 611.5px,#f3f8fc 612.5px,#fdfefe 613.5px,#ffffff)"></i><i style="left:358px;background:linear-gradient(#f3f9fc,#e5f1f8 56.5px,#f0f7fb 103.5px,#fefdfc 130.5px,#fbe0d0 163.5px,#f7c1a1 223.5px,#f6be9c 254.5px,#f8caaf 283.5px,#fbe2d3 307.5px,#fdfdfd 327.5px,#459bd0 491.5px,#2b8dc9 529.5px,#288cc8 538.5px,#2087c6 546.5px,#278bc8 554.5px,#1582c3 563.5px,#298cc8 572.5px,#1d86c5 576.5px,#097bc0 581.5px,#107ec2 584.5px,#3190ca 589.5px,#3592cc 591.5px,#2d8ec9 593.5px,#0177be 597.5px,#0076be 603.5px,#117fc2 604.5px,#489cd0 606.5px,#c8e1f1 610.5px,#e1eff7 611.5px,#f3f8fc 612.5px,#fdfefe 613.5px,#ffffff)"></i><i style="left:360px;background:linear-gradient(#f4f9fc,#e5f1f8 57.5px,#f0f7fb 107.5px,#fffdfd 136.5px,#fbe3d5 166.5px,#f7c2a2 226.5px,#f6bd9b 255.5px,#f8c9ad 286.5px,#fbe1d2 313.5px,#fefbf8 330.5px,#fbfdfe 335.5px,#4a9ed1 486.5px,#3693cc 515.5px,#2b8dc9 530.5px,#298cc9 538.5px,#2087c6 546.5px,#288bc8 554.5px,#1682c3 563.5px,#298cc8 572.5px,#1e86c6 576.5px,#097bc0 581.5px,#0f7ec2 584.5px,#3492cb 590.5px,#3391cb 592.5px,#1b84c5 595.5px,#0277bf 597.5px,#0076be 603.5px,#107fc2 604.5px,#469cd0 606.5px,#c7e1f1 610.5px,#e0eef7 611.5px,#f2f8fc 612.5px,#fdfefe 613.5px,#ffffff)"></i><i style="left:362px;background:linear-gradient(#f4f9fc,#e5f1f8 57.5px,#f0f7fb 107.5px,#fffdfc 136.5px,#fbe3d4 166.5px,#f7c2a2 226.5px,#f6bd9b 255.5px,#f8c9ad 286.5px,#fbe0d0 312.5px,#fefbf9 330.5px,#fbfdfe 335.5px,#4b9fd1 485.5px,#3593cc 515.5px,#2b8dc9 530.5px,#288cc8 539.5px,#2087c6 546.5px,#278bc8 555.5px,#1682c3 563.5px,#1f87c6 568.5px,#298cc8 572.5px,#1f87c6 576.5px,#097bc0 581.5px,#0e7ec2 584.5px,#3492cb 590.5px,#3392cb 592.5px,#1c85c5 595.5px,#0378bf 597.5px,#0076be 603.5px,#0f7ec2 604.5px,#459bd0 606.5px,#c7e1f1 610.5px,#e0eef7 611.5px,#f2f8fc 612.5px,#fdfefe 613.5px,#ffffff)"></i><i style="left:364px;background:linear-gradient(#f3f9fc,#e5f1f8 56.5px,#f0f7fb 103.5px,#fefdfc 130.5px,#fbe0d0 162.5px,#f7c1a1 223.5px,#f6be9c 254.5px,#f8cbaf 283.5px,#fbe2d3 307.5px,#fdfdfe 327.5px,#449bcf 491.5px,#2a8dc9 530.5px,#288cc8 539.5px,#2087c6 547.5px,#278bc8 555.5px,#1581c3 564.5px,#298cc8 573.5px,#1b84c5 577.5px,#0a7bc0 581.5px,#0d7dc1 584.5px,#3391cb 590.5px,#3492cb 592.5px,#1d86c5 595.5px,#0478bf 597.5px,#0076be 600.5px,#0076be 603.5px,#0e7dc1 604.5px,#449acf 606.5px,#c6e1f1 610.5px,#e0eef7 611.5px,#f2f8fc 612.5px,#fdfefe 613.5px,#ffffff)"></i><i style="left:366px;background:linear-gradient(#f2f8fc,#e5f1f8 55.5px,#f1f7fb 99.5px,#fefdfc 123.5px,#fbdfce 153.5px,#f7c4a6 202.5px,#f6bc99 236.5px,#f7c2a3 263.5px,#f9d3bd 287.5px,#fdeee5 307.5px,#fcfefe 318.5px,#4299cf 493.5px,#2a8cc9 531.5px,#288cc8 539.5px,#1f87c6 547.5px,#278bc8 555.5px,#1581c3 564.5px,#298cc8 573.5px,#1c85c5 577.5px,#0a7bc1 581.5px,#0d7dc1 584.5px,#3391cb 590.5px,#3492cb 592.5px,#288cc8 594.5px,#0579bf 597.5px,#0076be 599.5px,#0076be 603.5px,#0c7dc1 604.5px,#429acf 606.5px,#c6e0f0 610.5px,#dfeef7 611.5px,#f2f8fc 612.5px,#fdfefe 613.5px,#ffffff)"></i><i style="left:368px;background:linear-gradient(#f1f7fb,#e4f1f8 54.5px,#f0f7fb 95.5px,#fffdfd 118.5px,#fbe1d1 143.5px,#f8ccb1 172.5px,#f6ba96 220.5px,#f6be9c 251.5px,#f9cfb5 278.5px,#fce8dd 298.5px,#fefdfd 309.5px,#c2deef 363.5px,#7fbade 431.5px,#3f98ce 496.5px,#298cc8 531.5px,#268bc8 540.5px,#1f87c6 548.5px,#268ac8 556.5px,#1581c3 564.5px,#2389c7 570.5px,#288bc8 574.5px,#097bc0 582.5px,#117fc2 585.5px,#3291cb 590.5px,#3492cb 592.5px,#298cc8 594.5px,#0679c0 597.5px,#0076be 598.5px,#0076be 603.5px,#0b7cc1 604.5px,#4199cf 606.5px,#c5e0f0 610.5px,#dfeef7 611.5px,#f2f8fc 612.5px,#fdfefe 613.5px,#ffffff)"></i><i style="left:370px;background:linear-gradient(#f0f7fb,#e4f0f8 54.5px,#f0f7fb 94.5px,#fffefd 116.5px,#fbe1d2 139.5px,#f8caae 169.5px,#f5b893 218.5px,#f6bc99 249.5px,#f9cfb6 277.5px,#fcebe0 297.5px,#feffff 306.5px,#c4dff0 356.5px,#92c4e3 411.5px,#3e97ce 496.5px,#288cc8 532.5px,#278bc8 540.5px,#1e86c6 548.5px,#268ac8 556.5px,#1581c3 565.5px,#288cc8 573.5px,#1e86c6 577.5px,#097bc0 582.5px,#107ec2 585.5px,#3291cb 590.5px,#3492cb 592.5px,#2a8dc9 594.5px,#077ac0 597.5px,#0076be 598.5px,#0076be 603.5px,#0a7cc1 604.5px,#4098ce 606.5px,#c5e0f0 610.5px,#dfeef7 611.5px,#f2f8fc 612.5px,#fdfefe 613.5px,#ffffff)"></i><i style="left:372px;background:linear-gradient(#f1f7fb,#e4f0f8 54.5px,#f0f7fb 95.5px,#fffdfc 117.5px,#fbdfcf 142.5px,#f8caae 171.5px,#f6b894 219.5px,#f6bd9a 250.5px,#f9d0b7 278.5px,#fcebe1 298.5px,#fefeff 307.5px,#c4e0f0 357.5px,#90c4e3 413.5px,#3e97ce 496.5px,#288bc8 532.5px,#278bc8 540.5px,#1e86c6 548.5px,#268ac8 556.5px,#1581c3 565.5px,#288cc8 573.5px,#1e86c6 577.5px,#097bc0 582.5px,#0f7ec2 585.5px,#3190ca 590.5px,#3592cb 592.5px,#2b8dc9 594.5px,#0076be 598.5px,#0076be 603.5px,#097bc0 604.5px,#3f98ce 606.5px,#c4dff0 610.5px,#deedf7 611.5px,#f2f8fc 612.5px,#fdfefe 613.5px,#ffffff)"></i><i style="left:374px;background:linear-gradient(#f1f8fc,#e4f1f8 55.5px,#f0f7fb 97.5px,#fffdfc 120.5px,#fbe0d0 147.5px,#f8cdb3 176.5px,#f6bb98 222.5px,#f6be9d 253.5px,#f9cfb6 280.5px,#fceadf 301.5px,#fdfdfc 312.5px,#b9daed 376.5px,#3f98ce 496.5px,#298cc8 533.5px,#268bc8 541.5px,#1e86c6 548.5px,#268ac8 557.5px,#1581c3 565.5px,#288cc8 574.5px,#1a84c5 578.5px,#097bc0 582.5px,#0e7ec2 585.5px,#3492cb 591.5px,#3291cb 593.5px,#1782c4 596.5px,#0076be 598.5px,#0076be 603.5px,#087ac0 604.5px,#3d97ce 606.5px,#c3dff0 610.5px,#deedf7 611.5px,#f2f8fc 612.5px,#fdfefe 613.5px,#ffffff)"></i><i style="left:376px;background:linear-gradient(#f3f8fc,#e5f1f8 55.5px,#f0f7fb 100.5px,#fefdfc 126.5px,#fbdfce 158.5px,#f7c0a0 219.5px,#f6be9c 251.5px,#f8cbb0 280.5px,#fbe4d6 304.5px,#fdfcfb 321.5px,#eaf3fa 339.5px,#4199cf 494.5px,#298cc8 533.5px,#278bc8 541.5px,#1f87c6 549.5px,#268ac8 557.5px,#1581c3 565.5px,#2389c7 571.5px,#278bc8 575.5px,#097bc0 582.5px,#0e7dc1 585.5px,#3492cb 591.5px,#3391cb 593.5px,#1883c4 596.5px,#0076be 598.5px,#0076be 603.5px,#077ac0 604.5px,#3c96cd 606.5px,#c3dff0 610.5px,#deedf7 611.5px,#f1f8fc 612.5px,#fdfefe 613.5px,#ffffff)"></i><i style="left:378px;background:linear-gradient(#f4f9fc,#e5f1f8 56.5px,#f0f7fb 104.5px,#fffdfc 133.5px,#fbe1d2 165.5px,#f7c1a1 225.5px,#f6be9c 255.5px,#f8caae 285.5px,#fbe3d4 311.5px,#fdfdfd 330.5px,#4b9fd1 485.5px,#3391cb 518.5px,#298cc9 534.5px,#278bc8 542.5px,#1f87c6 549.5px,#278bc8 557.5px,#1581c3 566.5px,#298cc8 574.5px,#1c85c5 578.5px,#0a7bc1 582.5px,#0d7dc1 585.5px,#3492cb 591.5px,#3391cb 593.5px,#248ac7 595.5px,#0076be 598.5px,#0076be 603.5px,#0679c0 604.5px,#3b96cd 606.5px,#c2def0 610.5px,#ddedf6 611.5px,#f1f8fc 612.5px,#fdfefe 613.5px,#ffffff)"></i><i style="left:380px;background:linear-gradient(#f4f9fc,#e5f1f8 57.5px,#f0f7fb 107.5px,#fffefe 136.5px,#fce6d9 163.5px,#f7c2a3 225.5px,#f6bd9b 254.5px,#f8c8ab 285.5px,#fbdecd 311.5px,#fef9f6 330.5px,#fdfeff 334.5px,#4fa0d2 482.5px,#3391cb 518.5px,#298cc9 534.5px,#278bc8 542.5px,#1f87c6 549.5px,#278bc8 557.5px,#1581c3 566.5px,#298cc8 574.5px,#1d86c6 578.5px,#0a7cc1 582.5px,#0c7dc1 585.5px,#3392cb 591.5px,#3392cb 593.5px,#258ac8 595.5px,#0076be 598.5px,#0076be 603.5px,#0579bf 604.5px,#3a95cd 606.5px,#c2deef 610.5px,#ddedf6 611.5px,#f1f8fb 612.5px,#fdfefe 613.5px,#ffffff)"></i><i style="left:382px;background:linear-gradient(#f4f9fc,#e5f1f8 56.5px,#f0f7fb 105.5px,#fffdfc 134.5px,#fbe3d4 164.5px,#f7c2a2 225.5px,#f6be9c 254.5px,#f8c9ad 284.5px,#fbdfcf 309.5px,#fef9f6 327.5px,#fcfdfe 332.5px,#4c9fd1 485.5px,#3291cb 519.5px,#298cc8 534.5px,#288bc8 542.5px,#1f87c6 550.5px,#268ac8 558.5px,#1581c3 566.5px,#288cc8 574.5px,#2389c7 577.5px,#0b7cc1 582.5px,#0c7cc1 585.5px,#3391cb 591.5px,#3492cb 593.5px,#268bc8 595.5px,#0177be 598.5px,#0076be 603.5px,#0478bf 604.5px,#3894cc 606.5px,#c1deef 610.5px,#ddedf6 611.5px,#f1f7fb 612.5px,#fdfefe 613.5px,#ffffff)"></i><i style="left:384px;background:linear-gradient(#f3f8fc,#e5f1f8 55.5px,#f0f7fb 101.5px,#fefdfd 126.5px,#fbdecd 160.5px,#f7c09f 221.5px,#f6be9d 253.5px,#f8cbb0 281.5px,#fbe4d6 305.5px,#fdfcfb 322.5px,#e5f1f8 344.5px,#429acf 493.5px,#288cc8 535.5px,#268ac8 543.5px,#1e86c6 550.5px,#268ac8 558.5px,#1581c3 566.5px,#2087c6 571.5px,#288cc8 575.5px,#1a84c5 579.5px,#097bc0 583.5px,#107ec2 586.5px,#3291cb 591.5px,#3492cb 593.5px,#278bc8 595.5px,#0277bf 598.5px,#0378bf 604.5px,#1a84c5 605.5px,#58a6d5 607.5px,#c1ddef 610.5px,#dcecf6 611.5px,#f1f7fb 612.5px,#fdfefe 613.5px,#ffffff)"></i><i style="left:386px;background:linear-gradient(#f2f8fc,#e4f1f8 55.5px,#f1f7fb 98.5px,#fefdfd 120.5px,#fbdfce 149.5px,#f8ccb2 179.5px,#f6bc99 223.5px,#f6bf9e 254.5px,#f9cfb6 280.5px,#fce9dd 301.5px,#fefcfb 312.5px,#f8fbfd 318.5px,#badaed 376.5px,#3e97ce 497.5px,#278bc8 535.5px,#268ac8 543.5px,#1e86c6 550.5px,#268ac8 558.5px,#1581c3 567.5px,#288cc8 575.5px,#1b84c5 579.5px,#097bc0 583.5px,#0f7ec2 586.5px,#3291cb 591.5px,#3492cb 593.5px,#288cc8 595.5px,#0378bf 598.5px,#0277bf 604.5px,#1983c4 605.5px,#57a5d4 607.5px,#c0ddef 610.5px,#dcecf6 611.5px,#f1f7fb 612.5px,#fdfefe 613.5px,#ffffff)"></i><i style="left:388px;background:linear-gradient(#f1f7fb,#e4f0f8 54.5px,#f0f7fb 95.5px,#fffdfd 117.5px,#fbe1d1 141.5px,#f8cbaf 170.5px,#f6b994 219.5px,#f6bd9b 250.5px,#f9cfb7 278.5px,#fcebe0 298.5px,#fefefe 307.5px,#c4dff0 358.5px,#90c3e3 414.5px,#3c96cd 498.5px,#278bc8 536.5px,#248ac7 544.5px,#1e86c6 551.5px,#258ac7 559.5px,#1481c3 567.5px,#288bc8 575.5px,#1b85c5 579.5px,#097bc0 583.5px,#0e7ec2 586.5px,#3190cb 591.5px,#3492cb 593.5px,#298cc8 595.5px,#0478bf 598.5px,#0076be 601.5px,#0177be 604.5px,#1883c4 605.5px,#56a4d4 607.5px,#bfddef 610.5px,#dcecf6 611.5px,#f1f7fb 612.5px,#fdfefe 613.5px,#ffffff)"></i><i style="left:390px;background:linear-gradient(#f0f7fb,#e4f0f8 54.5px,#f0f7fb 94.5px,#fffefd 116.5px,#fbe0d0 140.5px,#f8c9ae 169.5px,#f5b893 218.5px,#f6bc99 249.5px,#f9cfb6 277.5px,#fcebe0 297.5px,#fefeff 306.5px,#c4dff0 356.5px,#92c4e3 411.5px,#3c96cd 498.5px,#268bc8 536.5px,#258ac7 544.5px,#1d86c5 551.5px,#258ac7 559.5px,#1481c3 567.5px,#288bc8 575.5px,#2188c6 578.5px,#097bc0 583.5px,#0d7dc1 586.5px,#3190ca 591.5px,#3592cb 593.5px,#2a8cc9 595.5px,#0579bf 598.5px,#0076be 600.5px,#0076be 604.5px,#1782c4 605.5px,#55a4d4 607.5px,#bfddef 610.5px,#dbecf6 611.5px,#f0f7fb 612.5px,#fcfefe 613.5px,#ffffff)"></i><i style="left:392px;background:linear-gradient(#f1f7fb,#e4f1f8 54.5px,#f0f7fb 95.5px,#fffdfc 118.5px,#fbe1d1 142.5px,#f8ccb1 171.5px,#f6b995 220.5px,#f6bd9b 251.5px,#f9cfb6 278.5px,#fce9de 298.5px,#fdfeff 309.5px,#c4dff0 360.5px,#89c0e1 421.5px,#3c96cd 499.5px,#268bc8 536.5px,#258ac8 544.5px,#1d86c5 551.5px,#258ac7 559.5px,#1481c3 567.5px,#288bc8 575.5px,#2288c7 578.5px,#0a7bc0 583.5px,#0d7dc1 586.5px,#3492cb 592.5px,#3291cb 594.5px,#2087c6 596.5px,#0679c0 598.5px,#0076be 599.5px,#0076be 604.5px,#1682c4 605.5px,#54a3d3 607.5px,#bedcef 610.5px,#dbecf6 611.5px,#f0f7fb 612.5px,#fcfefe 613.5px,#ffffff)"></i><i style="left:394px;background:linear-gradient(#f2f8fc,#e5f1f8 55.5px,#f0f7fb 98.5px,#fefdfc 122.5px,#fbdecd 153.5px,#f7c4a5 201.5px,#f6bc99 234.5px,#f7c2a2 261.5px,#f9d2bb 285.5px,#fcece2 305.5px,#fdfcfc 316.5px,#4299cf 493.5px,#2f8fca 523.5px,#278bc8 537.5px,#258ac7 545.5px,#1e86c6 552.5px,#268ac8 559.5px,#1481c3 567.5px,#2087c6 572.5px,#288bc8 576.5px,#1983c4 580.5px,#087bc0 584.5px,#127fc2 587.5px,#3492cb 592.5px,#3291cb 594.5px,#2188c7 596.5px,#077ac0 598.5px,#0076be 599.5px,#0076be 604.5px,#1581c3 605.5px,#53a2d3 607.5px,#bedcee 610.5px,#dbebf6 611.5px,#f0f7fb 612.5px,#fcfefe 613.5px,#ffffff)"></i><i style="left:396px;background:linear-gradient(#f3f9fc,#e5f1f8 56.5px,#f1f7fb 103.5px,#fefdfc 129.5px,#fbe0cf 162.5px,#f7c1a1 222.5px,#f6be9c 253.5px,#f8caaf 282.5px,#fbe2d3 306.5px,#fdfdfd 326.5px,#479cd0 489.5px,#3090ca 523.5px,#278bc8 537.5px,#258ac8 545.5px,#1e86c6 552.5px,#258ac7 560.5px,#1481c3 568.5px,#288cc8 576.5px,#1a84c5 580.5px,#097bc0 584.5px,#117fc2 587.5px,#3392cb 592.5px,#3391cb 594.5px,#2289c7 596.5px,#087bc0 598.5px,#0076be 599.5px,#0076be 604.5px,#1380c3 605.5px,#51a2d3 607.5px,#bddcee 610.5px,#daebf6 611.5px,#f0f7fb 612.5px,#fcfefe 613.5px,#ffffff)"></i><i style="left:398px;background:linear-gradient(#f4f9fc,#e5f1f8 56.5px,#f0f7fb 105.5px,#fffefd 135.5px,#fbe3d5 165.5px,#f7c2a2 226.5px,#f6bd9b 255.5px,#f8c9ad 286.5px,#fbe1d1 312.5px,#fefaf7 329.5px,#fcfdfe 334.5px,#4b9ed1 485.5px,#3090ca 523.5px,#288bc8 538.5px,#248ac7 546.5px,#1f86c6 553.5px,#268ac8 560.5px,#1481c3 568.5px,#288cc8 576.5px,#1b84c5 580.5px,#097bc0 584.5px,#107fc2 587.5px,#3391cb 592.5px,#3391cb 594.5px,#2389c7 596.5px,#0076be 599.5px,#0076be 604.5px,#1280c3 605.5px,#50a1d2 607.5px,#bddbee 610.5px,#daebf6 611.5px,#f0f7fb 612.5px,#fcfefe 613.5px,#ffffff)"></i><i style="left:400px;background:linear-gradient(#f4f9fc,#e5f1f8 57.5px,#f0f7fb 107.5px,#fffefd 136.5px,#fbe5d7 164.5px,#f7c2a2 226.5px,#f6bd9b 255.5px,#f8c9ac 286.5px,#fbe1d1 313.5px,#fefaf7 330.5px,#fdfefe 334.5px,#4b9fd1 485.5px,#3090ca 523.5px,#278bc8 538.5px,#258ac7 546.5px,#1e86c6 553.5px,#268ac8 560.5px,#1481c3 568.5px,#288cc8 576.5px,#2188c6 579.5px,#097bc0 584.5px,#0f7ec2 587.5px,#3391cb 592.5px,#3392cb 594.5px,#248ac7 596.5px,#0076be 599.5px,#0076be 604.5px,#117fc2 605.5px,#4fa1d2 607.5px,#bcdbee 610.5px,#daebf5 611.5px,#f0f7fb 612.5px,#fcfefe 613.5px,#ffffff)"></i><i style="left:402px;background:linear-gradient(#f3f9fc,#e5f1f8 56.5px,#f0f7fb 104.5px,#fefdfc 131.5px,#fbe1d1 163.5px,#f7c1a1 223.5px,#f6be9c 254.5px,#f8caae 283.5px,#fbe1d1 307.5px,#fdfdfe 328.5px,#479cd0 489.5px,#2f8fca 524.5px,#278bc8 538.5px,#258ac7 546.5px,#1e86c6 553.5px,#268ac8 560.5px,#1481c3 568.5px,#2087c6 573.5px,#288bc8 577.5px,#1782c4 581.5px,#097bc0 584.5px,#0f7ec2 587.5px,#3291cb 592.5px,#3492cb 594.5px,#258ac8 596.5px,#0076be 599.5px,#0076be 604.5px,#107fc2 605.5px,#4ea0d2 607.5px,#bbdbee 610.5px,#d9ebf5 611.5px,#f0f7fb 612.5px,#fcfefe 613.5px,#ffffff)"></i><i style="left:404px;background:linear-gradient(#f2f8fc,#e5f1f8 55.5px,#f0f7fb 99.5px,#fefdfc 124.5px,#fbdfcf 154.5px,#f7c2a3 208.5px,#f6bc9a 242.5px,#f8c7aa 273.5px,#fbdfcf 298.5px,#fdfcfc 318.5px,#439acf 492.5px,#2e8fca 525.5px,#268bc8 539.5px,#258ac7 546.5px,#1d86c5 553.5px,#258ac7 561.5px,#1481c3 568.5px,#1c85c5 572.5px,#288bc8 576.5px,#2288c7 579.5px,#097bc0 584.5px,#0e7dc2 587.5px,#3291cb 592.5px,#3492cb 594.5px,#268bc8 596.5px,#0076be 599.5px,#0076be 604.5px,#0f7ec2 605.5px,#4d9fd2 607.5px,#bbdaee 610.5px,#d9ebf5 611.5px,#eff7fb 612.5px,#fcfefe 613.5px,#ffffff)"></i><i style="left:406px;background:linear-gradient(#f1f8fb,#e4f1f8 54.5px,#f0f7fb 96.5px,#fffdfc 119.5px,#fbe0d0 144.5px,#f8ccb2 173.5px,#f6ba96 221.5px,#f6be9c 252.5px,#f9cfb6 279.5px,#fce9de 299.5px,#fdfdfd 310.5px,#c2deef 364.5px,#7bb8dd 435.5px,#3b96cd 500.5px,#268ac8 539.5px,#2389c7 547.5px,#1d86c5 554.5px,#258ac7 561.5px,#1481c3 569.5px,#288bc8 577.5px,#1883c4 581.5px,#087ac0 585.5px,#1380c3 588.5px,#3190cb 592.5px,#3492cb 594.5px,#278bc8 596.5px,#0076be 599.5px,#0076be 604.5px,#0e7ec2 605.5px,#4c9fd1 607.5px,#badaed 610.5px,#d9eaf5 611.5px,#eff7fb 612.5px,#fcfefe 613.5px,#ffffff)"></i><i style="left:408px;background:linear-gradient(#f0f7fb,#e4f0f8 54.5px,#f0f7fb 95.5px,#fffefd 116.5px,#fbe1d2 139.5px,#f8caae 169.5px,#f6b893 218.5px,#f6bd9a 250.5px,#f9d0b8 278.5px,#fceae0 297.5px,#feffff 306.5px,#c4dff0 356.5px,#92c4e3 411.5px,#3e97ce 496.5px,#2d8ec9 526.5px,#258ac7 539.5px,#2489c7 547.5px,#1d85c5 554.5px,#258ac7 561.5px,#1481c3 569.5px,#288bc8 577.5px,#1984c4 581.5px,#087ac0 585.5px,#1280c3 588.5px,#3190ca 592.5px,#3492cb 594.5px,#288bc8 596.5px,#0176be 599.5px,#0076be 604.5px,#0d7dc1 605.5px,#4b9ed1 607.5px,#badaed 610.5px,#d8eaf5 611.5px,#eff6fb 612.5px,#fcfefe 613.5px,#ffffff)"></i><i style="left:410px;background:linear-gradient(#f1f7fb,#e4f0f8 54.5px,#f0f7fb 95.5px,#fffefe 116.5px,#fbe2d3 139.5px,#f8caaf 169.5px,#f6b893 218.5px,#f6bd9a 250.5px,#f9d0b7 278.5px,#fcece2 298.5px,#fdfeff 307.5px,#c4dff0 357.5px,#91c4e3 412.5px,#3e97ce 496.5px,#2c8ec9 527.5px,#258ac7 540.5px,#2489c7 547.5px,#1c85c5 554.5px,#258ac7 561.5px,#1480c3 569.5px,#2188c6 574.5px,#278bc8 578.5px,#087ac0 585.5px,#117fc2 588.5px,#3090ca 592.5px,#3492cb 594.5px,#298cc8 596.5px,#0277be 599.5px,#0076be 604.5px,#0c7dc1 605.5px,#499dd1 607.5px,#b9d9ed 610.5px,#d8eaf5 611.5px,#eff6fb 612.5px,#fcfefe 613.5px,#ffffff)"></i><i style="left:412px;background:linear-gradient(#f1f8fc,#e4f1f8 54.5px,#f0f7fb 96.5px,#fffdfd 119.5px,#fbdfce 147.5px,#f8ccb1 176.5px,#f6bb97 222.5px,#f6be9d 253.5px,#f9cfb5 279.5px,#fce9de 300.5px,#fdfdfc 311.5px,#bedcee 370.5px,#3f98ce 496.5px,#2d8ec9 527.5px,#258ac7 540.5px,#2389c7 548.5px,#1c85c5 554.5px,#2489c7 562.5px,#1481c3 569.5px,#2087c6 574.5px,#278bc8 578.5px,#097bc0 585.5px,#117fc2 588.5px,#3492cb 593.5px,#3190cb 595.5px,#1e86c6 597.5px,#0377bf 599.5px,#0076be 604.5px,#0b7cc1 605.5px,#278bc8 606.5px,#b8d9ed 610.5px,#d8eaf5 611.5px,#eff6fb 612.5px,#fcfefe 613.5px,#ffffff)"></i><i style="left:414px;background:linear-gradient(#f3f8fc,#e5f1f8 55.5px,#f0f7fb 100.5px,#fefdfc 125.5px,#fbdfce 157.5px,#f7c09f 218.5px,#f6be9c 251.5px,#f8ccb1 280.5px,#fbe4d6 303.5px,#fcfdfe 321.5px,#439acf 492.5px,#2d8eca 527.5px,#258ac8 540.5px,#2489c7 548.5px,#1d86c5 555.5px,#258ac7 562.5px,#1481c3 570.5px,#288bc8 577.5px,#2188c6 580.5px,#097bc0 585.5px,#107fc2 588.5px,#3492cb 593.5px,#3291cb 595.5px,#1f87c6 597.5px,#0478bf 599.5px,#0076be 604.5px,#0a7cc1 605.5px,#268ac8 606.5px,#b8d9ed 610.5px,#d7eaf5 611.5px,#eff6fb 612.5px,#fcfdfe 613.5px,#ffffff)"></i><i style="left:416px;background:linear-gradient(#f4f9fc,#e5f1f8 56.5px,#f0f7fb 104.5px,#fefdfc 132.5px,#fbe1d1 165.5px,#f7c1a1 225.5px,#f6be9c 255.5px,#f8cbaf 285.5px,#fbe3d4 310.5px,#fcfefe 330.5px,#489dd0 488.5px,#2e8fca 527.5px,#268ac8 541.5px,#258ac7 548.5px,#1d86c5 555.5px,#258ac7 562.5px,#1481c3 570.5px,#288bc8 577.5px,#2288c7 580.5px,#097bc0 585.5px,#0f7ec2 588.5px,#3392cb 593.5px,#3291cb 595.5px,#2087c6 597.5px,#0578bf 599.5px,#0076be 601.5px,#0076be 604.5px,#097bc0 605.5px,#248ac7 606.5px,#6cb0d9 608.5px,#b7d8ed 610.5px,#d7e9f5 611.5px,#eff6fb 612.5px,#fcfdfe 613.5px,#ffffff)"></i><i style="left:418px;background:linear-gradient(#f4f9fc,#e5f1f8 57.5px,#f0f7fb 107.5px,#fffefe 136.5px,#fce6d9 163.5px,#f7c2a3 225.5px,#f6bd9b 254.5px,#f8c8ab 285.5px,#fbdecd 311.5px,#fef9f6 330.5px,#feffff 333.5px,#4ea0d2 483.5px,#2e8fca 525.5px,#268ac8 541.5px,#258ac8 548.5px,#1d86c5 555.5px,#258ac8 562.5px,#1481c3 570.5px,#288bc8 578.5px,#1883c4 582.5px,#097bc0 585.5px,#0f7ec2 588.5px,#3391cb 593.5px,#3391cb 595.5px,#2188c6 597.5px,#0679bf 599.5px,#0076be 601.5px,#0076be 604.5px,#087bc0 605.5px,#2389c7 606.5px,#6bafd9 608.5px,#b7d8ed 610.5px,#d6e9f5 611.5px,#eef6fb 612.5px,#fcfdfe 613.5px,#ffffff)"></i><i style="left:420px;background:linear-gradient(#f4f9fc,#e5f1f8 56.5px,#f0f7fb 105.5px,#fffdfc 135.5px,#fbe3d5 164.5px,#f7c2a2 225.5px,#f6bd9b 254.5px,#f8c9ad 285.5px,#fbe1d1 311.5px,#fefaf7 328.5px,#fbfdfe 334.5px,#4a9ed1 486.5px,#2e8fca 527.5px,#268bc8 542.5px,#2489c7 549.5px,#1d85c5 555.5px,#248ac7 563.5px,#1481c3 570.5px,#2188c7 575.5px,#288bc8 578.5px,#1f86c6 581.5px,#0a7bc0 585.5px,#0e7dc2 588.5px,#3391cb 593.5px,#3391cb 595.5px,#2288c7 597.5px,#0779c0 599.5px,#0076be 600.5px,#0076be 604.5px,#077ac0 605.5px,#2288c7 606.5px,#6aafd9 608.5px,#b6d8ec 610.5px,#d6e9f5 611.5px,#eef6fb 612.5px,#fcfdfe 613.5px,#ffffff)"></i><i style="left:422px;background:linear-gradient(#f3f9fc,#e5f1f8 56.5px,#f1f7fb 102.5px,#fefdfd 127.5px,#fbdfce 161.5px,#f7c1a0 221.5px,#f6be9c 253.5px,#f8cbb0 282.5px,#fbe4d6 306.5px,#fdfcfb 323.5px,#f4f9fc 332.5px,#449bcf 491.5px,#2d8ec9 528.5px,#258ac8 542.5px,#2489c7 549.5px,#1d86c5 556.5px,#248ac7 563.5px,#1481c3 570.5px,#1d85c5 574.5px,#288bc8 578.5px,#1f87c6 581.5px,#0a7bc1 585.5px,#0d7dc1 588.5px,#3291cb 593.5px,#3391cb 595.5px,#2389c7 597.5px,#077ac0 599.5px,#0076be 600.5px,#0076be 604.5px,#077ac0 605.5px,#2188c6 606.5px,#69aed9 608.5px,#b5d7ec 610.5px,#d6e9f4 611.5px,#eef6fb 612.5px,#fcfdfe 613.5px,#ffffff)"></i><i style="left:424px;background:linear-gradient(#f2f8fc,#e5f1f8 55.5px,#f1f7fb 98.5px,#fefdfc 121.5px,#fbdfce 150.5px,#f8ccb1 182.5px,#f6bc99 223.5px,#f6bf9e 254.5px,#f8ceb5 280.5px,#fce8db 301.5px,#fdfcfa 313.5px,#f6fafd 321.5px,#b1d5eb 387.5px,#4199ce 494.5px,#2c8ec9 529.5px,#258ac7 542.5px,#2489c7 549.5px,#1c85c5 556.5px,#248ac7 563.5px,#1481c3 571.5px,#288bc8 578.5px,#2087c6 581.5px,#0a7cc1 585.5px,#0c7dc1 588.5px,#3291cb 593.5px,#3392cb 595.5px,#2489c7 597.5px,#087bc0 599.5px,#0076be 600.5px,#0076be 604.5px,#0679bf 605.5px,#2087c6 606.5px,#68aed8 608.5px,#b5d7ec 610.5px,#d5e9f4 611.5px,#eef6fb 612.5px,#fcfdfe 613.5px,#ffffff)"></i><i style="left:426px;background:linear-gradient(#f1f7fb,#e4f0f8 54.5px,#f0f7fb 95.5px,#fffefd 117.5px,#fbe1d2 141.5px,#f8cbb0 170.5px,#f6b995 219.5px,#f6bd9b 251.5px,#f9cfb6 278.5px,#fceadf 298.5px,#fdfeff 308.5px,#c4dff0 359.5px,#8ec2e2 416.5px,#3e97ce 497.5px,#2b8dc9 530.5px,#2489c7 542.5px,#2489c7 549.5px,#1c85c5 556.5px,#2489c7 563.5px,#1380c3 571.5px,#278bc8 578.5px,#2188c6 581.5px,#087ac0 586.5px,#1280c3 589.5px,#3190cb 593.5px,#3492cb 595.5px,#258ac7 597.5px,#0076be 600.5px,#0076be 604.5px,#0579bf 605.5px,#1f87c6 606.5px,#66add8 608.5px,#b4d7ec 610.5px,#d5e8f4 611.5px,#eef6fb 612.5px,#fcfdfe 613.5px,#ffffff)"></i><i style="left:428px;background:linear-gradient(#f0f7fb,#e4f0f8 54.5px,#f0f7fb 94.5px,#fffdfd 116.5px,#fbe0d0 140.5px,#f8c9ae 169.5px,#f5b892 218.5px,#f6bc99 249.5px,#f9cfb6 277.5px,#fcebe0 297.5px,#fefeff 306.5px,#c4dff0 356.5px,#92c4e3 411.5px,#3d97ce 497.5px,#2b8dc9 530.5px,#2489c7 543.5px,#2389c7 550.5px,#1b85c5 556.5px,#2389c7 564.5px,#1380c3 571.5px,#278bc8 578.5px,#2188c6 581.5px,#087bc0 586.5px,#117fc2 589.5px,#3190ca 593.5px,#3492cb 595.5px,#268ac8 597.5px,#0076be 600.5px,#0076be 604.5px,#0478bf 605.5px,#1e86c6 606.5px,#65add8 608.5px,#b4d6ec 610.5px,#d5e8f4 611.5px,#eef6fb 612.5px,#fcfdfe 613.5px,#ffffff)"></i><i style="left:430px;background:linear-gradient(#f1f7fb,#e4f0f8 54.5px,#f0f7fb 95.5px,#fffefd 117.5px,#fbe0d0 142.5px,#f8cbb0 171.5px,#f6b995 219.5px,#f6bd9b 251.5px,#f9cfb6 278.5px,#fceadf 298.5px,#fefefe 308.5px,#c4dff0 359.5px,#8dc2e2 417.5px,#3e97ce 497.5px,#2b8dc9 530.5px,#2489c7 543.5px,#2389c7 550.5px,#1c85c5 557.5px,#2489c7 564.5px,#1380c3 571.5px,#2188c7 576.5px,#278bc8 579.5px,#1782c4 583.5px,#097bc0 586.5px,#107fc2 589.5px,#3090ca 593.5px,#3492cb 595.5px,#278bc8 597.5px,#0076be 600.5px,#0378bf 605.5px,#1d86c5 606.5px,#64acd8 608.5px,#b3d6ec 610.5px,#d4e8f4 611.5px,#edf6fb 612.5px,#fcfdfe 613.5px,#ffffff)"></i><i style="left:432px;background:linear-gradient(#f2f8fc,#e5f1f8 55.5px,#f0f7fb 98.5px,#fefdfd 121.5px,#fbdfce 151.5px,#f8ccb1 184.5px,#f6bc9a 223.5px,#f6bf9e 254.5px,#f8ceb5 280.5px,#fce9dd 302.5px,#fdfcfb 314.5px,#f3f9fc 324.5px,#4199ce 494.5px,#2b8dc9 530.5px,#2489c7 543.5px,#2489c7 550.5px,#1c85c5 557.5px,#2489c7 564.5px,#1380c3 571.5px,#1d85c5 575.5px,#278bc8 579.5px,#1e86c6 582.5px,#097bc0 586.5px,#107ec2 589.5px,#3090ca 593.5px,#3492cb 595.5px,#278bc8 597.5px,#0076be 600.5px,#0277bf 605.5px,#1c85c5 606.5px,#63abd7 608.5px,#b2d6eb 610.5px,#d4e8f4 611.5px,#edf5fa 612.5px,#fcfdfe 613.5px,#ffffff)"></i><i style="left:434px;background:linear-gradient(#f3f9fc,#e5f1f8 56.5px,#f0f7fb 102.5px,#fefdfc 128.5px,#fbdfcf 161.5px,#f7c0a0 222.5px,#f6be9c 253.5px,#f8cbb0 282.5px,#fbe3d5 306.5px,#fcfdfe 325.5px,#459bcf 491.5px,#2c8ec9 530.5px,#258ac7 544.5px,#2389c7 551.5px,#1c85c5 557.5px,#248ac7 564.5px,#1481c3 572.5px,#288bc8 579.5px,#1f86c6 582.5px,#097bc0 586.5px,#0f7ec2 589.5px,#3492cb 594.5px,#3190ca 596.5px,#1c85c5 598.5px,#0076be 600.5px,#0177be 605.5px,#1b84c5 606.5px,#62abd7 608.5px,#b2d5eb 610.5px,#d4e8f4 611.5px,#edf5fa 612.5px,#fcfdfe 613.5px,#ffffff)"></i><i style="left:436px;background:linear-gradient(#f4f9fc,#e5f1f8 56.5px,#f0f7fb 105.5px,#fffdfc 135.5px,#fbe3d5 164.5px,#f7c2a2 225.5px,#f6bd9b 254.5px,#f8c9ad 285.5px,#fbe0d1 311.5px,#fef9f6 328.5px,#fcfdfe 333.5px,#4c9fd1 485.5px,#2c8ec9 529.5px,#258ac7 544.5px,#2489c7 551.5px,#1c85c5 557.5px,#2489c7 565.5px,#1481c3 572.5px,#288bc8 579.5px,#1f87c6 582.5px,#0a7bc0 586.5px,#0e7ec2 589.5px,#3492cb 594.5px,#3190cb 596.5px,#1d86c5 598.5px,#0076be 600.5px,#0076be 605.5px,#1a84c5 606.5px,#61aad7 608.5px,#b1d5eb 610.5px,#d3e7f4 611.5px,#edf5fa 612.5px,#fcfdfe 613.5px,#ffffff)"></i><i style="left:438px;background:linear-gradient(#f4f9fc,#e5f1f8 57.5px,#f0f7fb 107.5px,#fffefe 136.5px,#fce6d8 163.5px,#f7c2a3 225.5px,#f6bd9b 254.5px,#f8c8ab 285.5px,#fbdecd 311.5px,#fef9f6 330.5px,#fdfefe 334.5px,#4ea0d2 483.5px,#2c8ec9 529.5px,#258ac7 545.5px,#2288c7 552.5px,#1d85c5 558.5px,#2489c7 565.5px,#1481c3 572.5px,#288bc8 579.5px,#2087c6 582.5px,#0a7bc1 586.5px,#097bc0 588.5px,#1d86c5 591.5px,#3392cb 594.5px,#3291cb 596.5px,#1e86c6 598.5px,#0076be 600.5px,#0076be 605.5px,#1983c4 606.5px,#60aad7 608.5px,#b1d5eb 610.5px,#d3e7f4 611.5px,#edf5fa 612.5px,#fcfdfe 613.5px,#ffffff)"></i><i style="left:440px;background:linear-gradient(#f4f9fc,#e5f1f8 56.5px,#f0f7fb 104.5px,#fefdfc 132.5px,#fbe1d1 164.5px,#f7c1a1 224.5px,#f6be9c 254.5px,#f8caaf 284.5px,#fbe2d3 309.5px,#fdfdfe 329.5px,#489dd0 488.5px,#2c8dc9 531.5px,#258ac7 545.5px,#2389c7 552.5px,#1c85c5 558.5px,#2489c7 565.5px,#1380c3 572.5px,#278bc8 579.5px,#2188c6 582.5px,#0a7cc1 586.5px,#097bc0 588.5px,#1c85c5 591.5px,#3391cb 594.5px,#3291cb 596.5px,#1f87c6 598.5px,#0177be 600.5px,#0076be 605.5px,#1883c4 606.5px,#5fa9d6 608.5px,#b0d5eb 610.5px,#d2e7f4 611.5px,#edf5fa 612.5px,#fcfdfe 613.5px,#ffffff)"></i><i style="left:442px;background:linear-gradient(#f2f8fc,#e5f1f8 55.5px,#f1f7fb 100.5px,#fefdfd 124.5px,#fbdecd 157.5px,#f7c09f 218.5px,#f6be9c 251.5px,#f8ccb1 280.5px,#fbe5d7 303.5px,#fdfcfb 319.5px,#f2f8fc 330.5px,#429acf 493.5px,#2b8dc9 532.5px,#2489c7 545.5px,#2389c7 552.5px,#1c85c5 558.5px,#2489c7 565.5px,#1380c3 572.5px,#1d86c5 576.5px,#278bc8 580.5px,#1682c3 584.5px,#087ac0 587.5px,#0c7dc1 589.5px,#3391cb 594.5px,#3291cb 596.5px,#2087c6 598.5px,#0277bf 600.5px,#0076be 605.5px,#1782c4 606.5px,#5ea9d6 608.5px,#afd4eb 610.5px,#d2e7f4 611.5px,#edf5fa 612.5px,#fcfdfe 613.5px,#ffffff)"></i><i style="left:444px;background:linear-gradient(#f1f8fc,#e4f1f8 54.5px,#f0f7fb 96.5px,#fffdfd 119.5px,#fbdfcf 146.5px,#f8ccb2 175.5px,#f6bb97 221.5px,#f6be9c 252.5px,#f9cfb6 279.5px,#fceadf 300.5px,#fefcfb 310.5px,#f0f7fb 323.5px,#bddbee 371.5px,#3e97ce 497.5px,#2a8dc9 533.5px,#2389c7 545.5px,#2389c7 552.5px,#1b85c5 558.5px,#2489c7 565.5px,#1380c3 572.5px,#1c85c5 576.5px,#278bc8 580.5px,#1d85c5 583.5px,#087ac0 587.5px,#0c7cc1 589.5px,#3291cb 594.5px,#3391cb 596.5px,#2187c6 598.5px,#0378bf 600.5px,#0076be 605.5px,#1682c4 606.5px,#5da8d6 608.5px,#afd4eb 610.5px,#d2e7f3 611.5px,#ecf5fa 612.5px,#fcfdfe 613.5px,#ffffff)"></i><i style="left:446px;background:linear-gradient(#f1f7fb,#e4f0f8 54.5px,#f0f7fb 95.5px,#fffefe 116.5px,#fbe3d4 138.5px,#f8cbb0 168.5px,#f6b893 218.5px,#f6bd9a 250.5px,#f9d0b7 278.5px,#fcece2 298.5px,#fdfeff 307.5px,#c4dff0 357.5px,#91c4e3 412.5px,#3d97ce 497.5px,#298cc9 533.5px,#2288c7 545.5px,#2389c7 552.5px,#1b85c5 559.5px,#2389c7 566.5px,#1380c3 573.5px,#278bc8 580.5px,#1d86c5 583.5px,#087bc0 587.5px,#0b7cc1 589.5px,#3291cb 594.5px,#3391cb 596.5px,#2188c7 598.5px,#0478bf 600.5px,#0076be 604.5px,#0076be 605.5px,#1581c3 606.5px,#5ca8d6 608.5px,#aed4ea 610.5px,#d1e6f3 611.5px,#ecf5fa 612.5px,#fcfdfe 613.5px,#ffffff)"></i><i style="left:448px;background:linear-gradient(#f0f7fb,#e4f0f8 54.5px,#f0f7fb 95.5px,#fffefe 116.5px,#fbe2d4 138.5px,#f8caaf 168.5px,#f6b893 218.5px,#f6bd9a 250.5px,#f9d0b7 278.5px,#fceae0 297.5px,#feffff 306.5px,#c4dff0 356.5px,#92c4e3 411.5px,#3d97ce 497.5px,#298cc8 533.5px,#2389c7 546.5px,#2188c7 553.5px,#1b85c5 559.5px,#2389c7 566.5px,#1380c3 573.5px,#278bc8 580.5px,#1e86c6 583.5px,#097bc0 587.5px,#0b7cc1 589.5px,#3190cb 594.5px,#3392cb 596.5px,#2288c7 598.5px,#0579bf 600.5px,#0076be 602.5px,#0076be 605.5px,#1481c3 606.5px,#3592cb 607.5px,#add3ea 610.5px,#d1e6f3 611.5px,#ecf5fa 612.5px,#fcfdfe 613.5px,#ffffff)"></i><i style="left:450px;background:linear-gradient(#f1f8fb,#e4f1f8 54.5px,#f0f7fb 96.5px,#fffdfc 119.5px,#fbe1d1 144.5px,#f8ccb2 173.5px,#f6ba97 221.5px,#f6be9c 252.5px,#f9cfb6 279.5px,#fcebe0 300.5px,#fdfdfd 310.5px,#c1deef 366.5px,#78b6dd 438.5px,#3b96cd 501.5px,#298cc9 534.5px,#2389c7 546.5px,#2288c7 553.5px,#1b84c5 559.5px,#2389c7 566.5px,#1380c3 573.5px,#278bc8 580.5px,#1f87c6 583.5px,#097bc0 587.5px,#0a7cc1 589.5px,#3190ca 594.5px,#3492cb 596.5px,#2389c7 598.5px,#0679bf 600.5px,#0076be 602.5px,#0076be 605.5px,#1380c3 606.5px,#3492cb 607.5px,#add3ea 610.5px,#d1e6f3 611.5px,#ecf5fa 612.5px,#fcfdfe 613.5px,#ffffff)"></i><i style="left:452px;background:linear-gradient(#f2f8fc,#e5f1f8 55.5px,#f0f7fb 99.5px,#fefdfc 124.5px,#fbdfce 155.5px,#f7c1a1 212.5px,#f6bd9b 247.5px,#f8cbaf 278.5px,#fbe3d4 301.5px,#fdfcfb 318.5px,#f5fafd 326.5px,#439acf 492.5px,#2a8cc9 534.5px,#2389c7 546.5px,#2389c7 553.5px,#1b85c5 559.5px,#2489c7 566.5px,#1380c3 573.5px,#2288c7 578.5px,#278bc8 581.5px,#097bc0 587.5px,#0a7bc1 589.5px,#3090ca 594.5px,#3492cb 596.5px,#2489c7 598.5px,#077ac0 600.5px,#0076be 601.5px,#0076be 605.5px,#1280c3 606.5px,#3291cb 607.5px,#acd2ea 610.5px,#d0e6f3 611.5px,#ecf5fa 612.5px,#fcfdfe 613.5px,#ffffff)"></i><i style="left:454px;background:linear-gradient(#f3f9fc,#e5f1f8 56.5px,#f0f7fb 104.5px,#fefdfc 131.5px,#fbe0d0 164.5px,#f7c1a1 224.5px,#f6be9c 254.5px,#f8caae 283.5px,#fbe2d2 308.5px,#fcfefe 329.5px,#489dd0 488.5px,#2a8dc9 533.5px,#2489c7 547.5px,#2288c7 554.5px,#1c85c5 560.5px,#2489c7 566.5px,#1380c3 573.5px,#1d86c5 577.5px,#278bc8 581.5px,#1481c3 585.5px,#087ac0 588.5px,#0e7ec2 590.5px,#3090ca 594.5px,#3492cb 596.5px,#258ac7 598.5px,#087ac0 600.5px,#0076be 601.5px,#0076be 605.5px,#117fc2 606.5px,#3191cb 607.5px,#acd2ea 610.5px,#d0e6f3 611.5px,#ecf5fa 612.5px,#fcfdfe 613.5px,#ffffff)"></i><i style="left:456px;background:linear-gradient(#f4f9fc,#e5f1f8 57.5px,#f0f7fb 107.5px,#fffefd 136.5px,#fce5d7 164.5px,#f7c2a2 226.5px,#f6bd9b 255.5px,#f8c9ac 286.5px,#fbe1d1 313.5px,#fefaf7 330.5px,#fdfefe 334.5px,#4d9fd2 484.5px,#2a8dc9 532.5px,#2489c7 547.5px,#2288c7 554.5px,#1c85c5 560.5px,#2389c7 567.5px,#1380c3 573.5px,#1d85c5 577.5px,#278bc8 581.5px,#1b85c5 584.5px,#0a7bc1 587.5px,#097bc0 589.5px,#1e86c6 592.5px,#3492cb 595.5px,#2f8fca 597.5px,#1883c4 599.5px,#097bc0 600.5px,#0076be 601.5px,#0076be 605.5px,#107fc2 606.5px,#3090ca 607.5px,#abd2ea 610.5px,#d0e5f3 611.5px,#ebf4fa 612.5px,#fcfdfe 613.5px,#ffffff)"></i><i style="left:458px;background:linear-gradient(#f4f9fc,#e5f1f8 56.5px,#f0f7fb 105.5px,#fffefd 135.5px,#fbe3d5 165.5px,#f7c2a2 226.5px,#f6bd9b 255.5px,#f8c9ad 286.5px,#fbe1d1 312.5px,#fefaf8 329.5px,#fcfdfe 334.5px,#4a9ed1 486.5px,#2a8dc9 533.5px,#2389c7 547.5px,#2389c7 554.5px,#1b85c5 560.5px,#2489c7 567.5px,#1380c3 574.5px,#278bc8 581.5px,#1c85c5 584.5px,#087ac0 588.5px,#0d7dc1 590.5px,#3492cb 595.5px,#3090ca 597.5px,#1983c4 599.5px,#097bc0 600.5px,#0076be 601.5px,#0076be 605.5px,#0f7ec2 606.5px,#2f8fca 607.5px,#aad1e9 610.5px,#cfe5f3 611.5px,#ebf4fa 612.5px,#fcfdfe 613.5px,#ffffff)"></i><i style="left:460px;background:linear-gradient(#f3f9fc,#e5f1f8 56.5px,#f1f7fb 103.5px,#fefdfd 128.5px,#fbdfce 163.5px,#f7c0a0 223.5px,#f6be9d 254.5px,#f8cbb1 283.5px,#fbe4d6 307.5px,#fcfefe 326.5px,#469bd0 490.5px,#2a8cc9 534.5px,#2389c7 548.5px,#2389c7 554.5px,#1b85c5 560.5px,#2489c7 567.5px,#1380c3 574.5px,#278bc8 581.5px,#1d85c5 584.5px,#087ac0 588.5px,#0d7dc1 590.5px,#3392cb 595.5px,#3090ca 597.5px,#1a84c5 599.5px,#0076be 601.5px,#0076be 605.5px,#0e7ec2 606.5px,#2e8fca 607.5px,#aad1e9 610.5px,#cfe5f3 611.5px,#ebf4fa 612.5px,#fcfdfe 613.5px,#ffffff)"></i><i style="left:462px;background:linear-gradient(#f2f8fc,#e5f1f8 55.5px,#f0f7fb 98.5px,#fefdfc 122.5px,#fbdece 152.5px,#f8c8ac 192.5px,#f6bc9a 227.5px,#f7c09f 256.5px,#f9ceb5 281.5px,#fce9de 303.5px,#fefbfa 314.5px,#f7fbfd 321.5px,#4299cf 493.5px,#298cc8 535.5px,#2389c7 548.5px,#2188c6 555.5px,#1b85c5 561.5px,#2389c7 567.5px,#1380c3 574.5px,#278bc8 581.5px,#1d86c6 584.5px,#087ac0 588.5px,#0c7cc1 590.5px,#3391cb 595.5px,#3190ca 597.5px,#1b84c5 599.5px,#0076be 601.5px,#0076be 605.5px,#0d7dc1 606.5px,#2d8eca 607.5px,#cee5f3 611.5px,#ebf4fa 612.5px,#fcfdfe 613.5px,#ffffff)"></i><i style="left:464px;background:linear-gradient(#f1f7fb,#e4f1f8 54.5px,#f0f7fb 95.5px,#fffefe 117.5px,#fbe0d0 143.5px,#f8cbb0 172.5px,#f6b995 220.5px,#f6bd9b 251.5px,#f9cfb6 278.5px,#fce9de 298.5px,#fdfefe 309.5px,#c4dff0 360.5px,#8bc1e1 419.5px,#3d97cd 498.5px,#288cc8 536.5px,#2288c7 548.5px,#2188c6 555.5px,#1b84c5 561.5px,#2389c7 567.5px,#1380c3 574.5px,#1e86c6 578.5px,#278bc8 581.5px,#1e86c6 584.5px,#087bc0 588.5px,#0b7cc1 590.5px,#3391cb 595.5px,#3190cb 597.5px,#1c85c5 599.5px,#0076be 601.5px,#0076be 605.5px,#0d7dc1 606.5px,#2c8ec9 607.5px,#cee5f3 611.5px,#ebf4fa 612.5px,#fbfdfe 613.5px,#ffffff)"></i><i style="left:466px;background:linear-gradient(#f0f7fb,#e4f0f8 54.5px,#f0f7fb 94.5px,#fffefd 116.5px,#fbe0d0 140.5px,#f8c9ae 169.5px,#f5b892 218.5px,#f6bc99 249.5px,#f9cfb6 277.5px,#fcebe0 297.5px,#fefeff 306.5px,#c4dff0 356.5px,#92c4e3 411.5px,#3d97ce 497.5px,#288bc8 536.5px,#2188c7 548.5px,#2188c6 555.5px,#1a84c5 561.5px,#2288c7 568.5px,#1380c3 574.5px,#1d86c5 578.5px,#278bc8 581.5px,#1f87c6 584.5px,#097bc0 588.5px,#0b7cc1 590.5px,#3291cb 595.5px,#3291cb 597.5px,#1d85c5 599.5px,#0076be 601.5px,#0076be 605.5px,#0c7cc1 606.5px,#2b8dc9 607.5px,#cee4f2 611.5px,#ebf4fa 612.5px,#fbfdfe 613.5px,#ffffff)"></i><i style="left:468px;background:linear-gradient(#f1f7fb,#e4f0f8 54.5px,#f0f7fb 95.5px,#fffefd 117.5px,#fbe2d2 140.5px,#f8cbb0 170.5px,#f6b994 219.5px,#f6bd9b 251.5px,#f9cfb7 278.5px,#fcebe0 298.5px,#fdfeff 308.5px,#c4dff0 358.5px,#8fc3e2 415.5px,#3d97ce 497.5px,#288bc8 536.5px,#2288c7 549.5px,#2288c7 555.5px,#1a84c5 561.5px,#2389c7 568.5px,#1380c3 574.5px,#1d85c5 578.5px,#278bc8 581.5px,#2087c6 584.5px,#097bc0 588.5px,#0b7cc1 590.5px,#3291cb 595.5px,#3291cb 597.5px,#1d86c6 599.5px,#0076be 601.5px,#0076be 605.5px,#0b7cc1 606.5px,#2a8dc9 607.5px,#cde4f2 611.5px,#eaf4fa 612.5px,#fbfdfe 613.5px,#ffffff)"></i><i style="left:470px;background:linear-gradient(#f2f8fc,#e5f1f8 55.5px,#f1f7fb 98.5px,#fffdfc 121.5px,#fbe0d0 148.5px,#f8cdb3 178.5px,#f6bc99 223.5px,#f6bf9e 254.5px,#f9cfb5 280.5px,#fce8dd 301.5px,#fdfcfc 313.5px,#deedf6 341.5px,#6fb2da 447.5px,#3995cd 504.5px,#288cc8 538.5px,#2288c7 549.5px,#2288c7 555.5px,#1a84c5 561.5px,#2389c7 568.5px,#1380c3 575.5px,#278bc8 581.5px,#2087c6 584.5px,#097bc0 588.5px,#0a7bc1 590.5px,#3291cb 595.5px,#3291cb 597.5px,#1e86c6 599.5px,#0076be 601.5px,#0076be 605.5px,#0a7bc1 606.5px,#298cc9 607.5px,#cde4f2 611.5px,#eaf4fa 612.5px,#fbfdfe 613.5px,#ffffff)"></i><i style="left:472px;background:linear-gradient(#f3f8fc,#e5f1f8 55.5px,#f0f7fb 101.5px,#fefdfc 127.5px,#fbdfce 160.5px,#f7c0a0 221.5px,#f6be9d 253.5px,#f8ccb1 282.5px,#fbe4d5 305.5px,#fdfcfc 323.5px,#449acf 492.5px,#288cc8 536.5px,#2288c7 549.5px,#2188c6 556.5px,#1b85c5 562.5px,#2389c7 568.5px,#1380c3 575.5px,#278bc8 582.5px,#1b85c5 585.5px,#0a7bc0 588.5px,#0a7bc1 590.5px,#3191cb 595.5px,#3391cb 597.5px,#1f87c6 599.5px,#0076be 601.5px,#0076be 605.5px,#097bc0 606.5px,#288cc8 607.5px,#cce4f2 611.5px,#eaf4fa 612.5px,#fbfdfe 613.5px,#ffffff)"></i><i style="left:474px;background:linear-gradient(#f4f9fc,#e5f1f8 56.5px,#f0f7fb 105.5px,#fffdfc 134.5px,#fbe2d3 165.5px,#f7c2a2 225.5px,#f6be9c 254.5px,#f8c9ad 284.5px,#fbe0d0 310.5px,#fef9f5 327.5px,#fbfdfe 333.5px,#4a9ed1 486.5px,#298cc8 535.5px,#2389c7 550.5px,#2288c7 556.5px,#1b85c5 562.5px,#2489c7 568.5px,#1380c3 575.5px,#278bc8 582.5px,#1c85c5 585.5px,#0a7bc1 588.5px,#0a7bc0 590.5px,#2087c6 593.5px,#3190ca 595.5px,#3391cb 597.5px,#2087c6 599.5px,#0176be 601.5px,#0076be 605.5px,#087ac0 606.5px,#278bc8 607.5px,#cce4f2 611.5px,#eaf4fa 612.5px,#fbfdfe 613.5px,#ffffff)"></i><i style="left:476px;background:linear-gradient(#f4f9fc,#e5f1f8 57.5px,#f0f7fb 107.5px,#fffefe 136.5px,#fce6d9 163.5px,#f7c2a3 225.5px,#f6bd9b 254.5px,#f8c8ab 285.5px,#fbdecd 311.5px,#fef9f6 330.5px,#fdfeff 334.5px,#4fa0d2 482.5px,#2f8fca 525.5px,#2389c7 550.5px,#2288c7 556.5px,#1b84c5 562.5px,#2489c7 568.5px,#1380c3 575.5px,#1f87c6 579.5px,#278bc8 582.5px,#1d85c5 585.5px,#087ac0 589.5px,#0e7dc2 591.5px,#3090ca 595.5px,#3392cb 597.5px,#2188c6 599.5px,#0177be 601.5px,#0076be 605.5px,#087ac0 606.5px,#268bc8 607.5px,#79b7dd 609.5px,#cce3f2 611.5px,#eaf4fa 612.5px,#fbfdfe 613.5px,#ffffff)"></i><i style="left:478px;background:linear-gradient(#f4f9fc,#e5f1f8 56.5px,#f0f7fb 104.5px,#fffdfc 133.5px,#fbe2d3 164.5px,#f7c2a2 224.5px,#f6be9c 254.5px,#f8c9ae 284.5px,#fbe1d1 309.5px,#fdfefe 330.5px,#499dd1 487.5px,#288cc8 536.5px,#2288c7 550.5px,#2288c7 556.5px,#1b84c5 562.5px,#2389c7 569.5px,#1380c3 575.5px,#1e86c6 579.5px,#278bc8 582.5px,#1d86c5 585.5px,#087ac0 589.5px,#0d7dc1 591.5px,#3090ca 595.5px,#3492cb 597.5px,#2288c7 599.5px,#0277bf 601.5px,#0076be 605.5px,#077ac0 606.5px,#258ac8 607.5px,#78b6dd 609.5px,#cbe3f2 611.5px,#eaf3fa 612.5px,#fbfdfe 613.5px,#ffffff)"></i><i style="left:480px;background:linear-gradient(#f3f8fc,#e5f1f8 55.5px,#f0f7fb 100.5px,#fefdfd 125.5px,#fbdecd 159.5px,#f7c09f 220.5px,#f6be9c 252.5px,#f8ccb1 281.5px,#fbe4d7 304.5px,#fdfcfc 321.5px,#439acf 492.5px,#288bc8 537.5px,#2288c7 550.5px,#2288c7 556.5px,#1a84c5 562.5px,#2389c7 569.5px,#1380c3 575.5px,#1d86c5 579.5px,#278bc8 582.5px,#1e86c6 585.5px,#087ac0 589.5px,#0d7dc1 591.5px,#2f8fca 595.5px,#3492cb 597.5px,#2389c7 599.5px,#0378bf 601.5px,#0076be 605.5px,#0679c0 606.5px,#248ac7 607.5px,#77b6dc 609.5px,#cbe3f2 611.5px,#e9f3f9 612.5px,#fbfdfe 613.5px,#ffffff)"></i><i style="left:482px;background:linear-gradient(#f1f8fc,#e4f1f8 55.5px,#f0f7fb 97.5px,#fffdfc 120.5px,#fbe0d0 146.5px,#f8cdb3 175.5px,#f6bb98 222.5px,#f6be9d 253.5px,#f9cfb6 280.5px,#fceae0 301.5px,#fefcfb 311.5px,#f3f9fc 321.5px,#bcdbee 373.5px,#3f98ce 496.5px,#278bc8 538.5px,#2288c7 551.5px,#2188c6 557.5px,#1b84c5 563.5px,#2389c7 569.5px,#1380c3 576.5px,#278bc8 582.5px,#1f86c6 585.5px,#087ac0 589.5px,#0c7dc1 591.5px,#3492cb 596.5px,#2e8fca 598.5px,#1481c3 600.5px,#0478bf 601.5px,#0076be 605.5px,#0579bf 606.5px,#2389c7 607.5px,#76b6dc 609.5px,#cae3f2 611.5px,#e9f3f9 612.5px,#fbfdfe 613.5px,#ffffff)"></i><i style="left:484px;background:linear-gradient(#f1f7fb,#e4f0f8 54.5px,#f0f7fb 95.5px,#fffefe 116.5px,#fbe2d3 139.5px,#f8cbaf 169.5px,#f6b894 218.5px,#f6bd9a 250.5px,#f9d0b7 278.5px,#fcebe1 298.5px,#fefeff 307.5px,#c4dff0 357.5px,#90c3e3 413.5px,#3d97ce 497.5px,#278bc8 539.5px,#2188c6 551.5px,#2188c6 557.5px,#1a84c5 563.5px,#2389c7 569.5px,#1380c3 576.5px,#278bc8 582.5px,#1f87c6 585.5px,#087bc0 589.5px,#0c7cc1 591.5px,#3492cb 596.5px,#2f8fca 598.5px,#1581c3 600.5px,#0579bf 601.5px,#0076be 603.5px,#0478bf 606.5px,#2389c7 607.5px,#75b5dc 609.5px,#cae3f2 611.5px,#e9f3f9 612.5px,#fbfdfe 613.5px,#ffffff)"></i><i style="left:486px;background:linear-gradient(#f0f7fb,#e4f0f8 54.5px,#f0f7fb 94.5px,#fffefd 116.5px,#fbe1d2 139.5px,#f8caae 169.5px,#f5b893 218.5px,#f6bc9a 249.5px,#f9d0b8 278.5px,#fcebe0 297.5px,#feffff 306.5px,#c4dff0 356.5px,#92c4e3 411.5px,#3d97ce 497.5px,#278bc8 539.5px,#2188c6 551.5px,#2188c6 557.5px,#1a84c5 563.5px,#2389c7 569.5px,#1280c3 576.5px,#278bc8 583.5px,#1984c4 586.5px,#097bc0 589.5px,#0b7cc1 591.5px,#3392cb 596.5px,#2f8fca 598.5px,#1682c4 600.5px,#0679bf 601.5px,#0076be 603.5px,#0478bf 606.5px,#2288c7 607.5px,#75b5dc 609.5px,#cae2f1 611.5px,#e9f3f9 612.5px,#fbfdfe 613.5px,#ffffff)"></i><i style="left:488px;background:linear-gradient(#f1f8fb,#e4f1f8 54.5px,#f0f7fb 95.5px,#fffefd 118.5px,#fbe0d0 144.5px,#f8ccb1 173.5px,#f6ba96 220.5px,#f6be9c 251.5px,#f9cfb7 279.5px,#fceadf 299.5px,#fdfeff 310.5px,#c3dff0 362.5px,#7ebade 432.5px,#3d97ce 498.5px,#278bc8 539.5px,#2188c6 551.5px,#2288c7 557.5px,#1a84c5 563.5px,#2288c7 570.5px,#1280c3 576.5px,#278bc8 583.5px,#1a84c5 586.5px,#097bc0 589.5px,#0b7cc1 591.5px,#3391cb 596.5px,#3090ca 598.5px,#1782c4 600.5px,#0679c0 601.5px,#0076be 602.5px,#0378bf 606.5px,#2188c6 607.5px,#74b4dc 609.5px,#c9e2f1 611.5px,#e9f3f9 612.5px,#fbfdfe 613.5px,#ffffff)"></i><i style="left:490px;background:linear-gradient(#f2f8fc,#e5f1f8 55.5px,#f0f7fb 99.5px,#fefdfc 123.5px,#fbdece 154.5px,#f7c2a3 207.5px,#f6bc9a 240.5px,#f7c6a8 270.5px,#fadcca 295.5px,#fdfcfc 317.5px,#e2f0f8 341.5px,#4099ce 495.5px,#278bc8 539.5px,#2288c7 552.5px,#2087c6 558.5px,#1b84c5 564.5px,#2389c7 570.5px,#1380c3 576.5px,#1f86c6 580.5px,#278bc8 583.5px,#1b85c5 586.5px,#097bc0 589.5px,#0a7cc1 591.5px,#3391cb 596.5px,#3090ca 598.5px,#1883c4 600.5px,#077ac0 601.5px,#0076be 602.5px,#0277bf 606.5px,#2087c6 607.5px,#73b4db 609.5px,#c9e2f1 611.5px,#e9f3f9 612.5px,#fbfdfe 613.5px,#ffffff)"></i><i style="left:492px;background:linear-gradient(#f3f9fc,#e5f1f8 56.5px,#f0f7fb 103.5px,#fefdfc 130.5px,#fbe0d0 163.5px,#f7c1a1 223.5px,#f6be9c 254.5px,#f8caaf 283.5px,#fbe2d2 307.5px,#fcfdfe 328.5px,#479cd0 489.5px,#278bc8 538.5px,#2288c7 552.5px,#2188c6 558.5px,#1b84c5 564.5px,#2389c7 570.5px,#1380c3 576.5px,#1e86c6 580.5px,#278bc8 583.5px,#1c85c5 586.5px,#0a7bc0 589.5px,#0a7bc1 591.5px,#3391cb 596.5px,#3190ca 598.5px,#1983c4 600.5px,#087ac0 601.5px,#0076be 602.5px,#0177be 606.5px,#1f87c6 607.5px,#72b3db 609.5px,#c9e2f1 611.5px,#e8f3f9 612.5px,#fbfdfe 613.5px,#ffffff)"></i><i style="left:494px;background:linear-gradient(#f4f9fc,#e5f1f8 57.5px,#f0f7fb 107.5px,#fffdfd 136.5px,#fbe4d6 165.5px,#f7c2a2 226.5px,#f6bd9b 255.5px,#f8c9ad 286.5px,#fbe1d2 313.5px,#fefbf8 330.5px,#fbfdfe 335.5px,#4d9fd2 484.5px,#278bc8 536.5px,#2288c7 547.5px,#2288c7 558.5px,#1b84c5 564.5px,#2389c7 570.5px,#1380c3 576.5px,#1983c4 579.5px,#278bc8 583.5px,#1d85c5 586.5px,#0a7bc1 589.5px,#0a7bc0 591.5px,#3291cb 596.5px,#3190cb 598.5px,#1a84c5 600.5px,#097bc0 601.5px,#0076be 602.5px,#0176be 606.5px,#1e86c6 607.5px,#71b3db 609.5px,#c8e2f1 611.5px,#e8f3f9 612.5px,#fbfdfe 613.5px,#ffffff)"></i><i style="left:496px;background:linear-gradient(#f4f9fc,#e5f1f8 56.5px,#f0f7fb 106.5px,#fffdfc 136.5px,#fbe3d4 166.5px,#f7c2a2 226.5px,#f6bd9b 255.5px,#f8c9ad 286.5px,#fbe0d0 312.5px,#fefbf9 330.5px,#fbfdfe 335.5px,#4d9fd2 484.5px,#2d8ec9 529.5px,#2188c7 552.5px,#2288c7 558.5px,#1a84c5 564.5px,#2389c7 570.5px,#1380c3 577.5px,#278bc8 583.5px,#1d86c5 586.5px,#0a7cc1 589.5px,#097bc0 591.5px,#2188c6 594.5px,#3291cb 596.5px,#3291cb 598.5px,#1b84c5 600.5px,#0a7bc1 601.5px,#0076be 602.5px,#0076be 606.5px,#1d86c5 607.5px,#70b2db 609.5px,#c8e1f1 611.5px,#e8f3f9 612.5px,#fbfdfe 613.5px,#ffffff)"></i><i style="left:498px;background:linear-gradient(#f3f9fc,#e5f1f8 56.5px,#f0f7fb 103.5px,#fefdfc 130.5px,#fbe0d0 162.5px,#f7c1a1 223.5px,#f6be9c 254.5px,#f8cbb0 283.5px,#fbe2d3 307.5px,#fdfdfe 327.5px,#479cd0 489.5px,#278bc8 539.5px,#2288c7 553.5px,#2087c6 559.5px,#1a84c5 564.5px,#2389c7 570.5px,#1380c3 577.5px,#278bc8 583.5px,#1e86c6 586.5px,#087ac0 590.5px,#0e7ec2 592.5px,#3291cb 596.5px,#3291cb 598.5px,#1b85c5 600.5px,#0b7cc1 601.5px,#0076be 602.5px,#0076be 606.5px,#1c85c5 607.5px,#439acf 608.5px,#c7e1f1 611.5px,#e8f3f9 612.5px,#fbfdfe 613.5px,#ffffff)"></i><i style="left:500px;background:linear-gradient(#f2f8fc,#e5f1f8 55.5px,#f1f7fb 99.5px,#fefdfc 123.5px,#fbdfce 153.5px,#f7c4a6 202.5px,#f6bc99 236.5px,#f7c2a3 263.5px,#f9d4bd 287.5px,#fdeee6 307.5px,#fdfdfc 317.5px,#4299cf 493.5px,#268bc8 540.5px,#2188c6 553.5px,#2087c6 559.5px,#1b84c5 565.5px,#2288c7 571.5px,#1280c3 577.5px,#278bc8 583.5px,#1f86c6 586.5px,#087ac0 590.5px,#0d7dc1 592.5px,#3190cb 596.5px,#3291cb 598.5px,#1c85c5 600.5px,#0076be 602.5px,#0076be 606.5px,#1b85c5 607.5px,#4299cf 608.5px,#c7e1f1 611.5px,#e8f2f9 612.5px,#fbfdfe 613.5px,#ffffff)"></i><i style="left:502px;background:linear-gradient(#f1f7fb,#e4f1f8 54.5px,#f0f7fb 95.5px,#fffdfd 118.5px,#fbe0d1 143.5px,#f8ccb1 172.5px,#f6ba96 220.5px,#f6be9c 251.5px,#f9cfb5 278.5px,#fce8dd 298.5px,#fefdfd 309.5px,#c3dff0 362.5px,#7fbade 431.5px,#3d97ce 498.5px,#268ac8 541.5px,#2187c6 553.5px,#2087c6 559.5px,#1a84c5 565.5px,#2288c7 571.5px,#1280c3 577.5px,#278bc8 584.5px,#1883c4 587.5px,#087ac0 590.5px,#0d7dc1 592.5px,#3190ca 596.5px,#3391cb 598.5px,#1d86c5 600.5px,#0076be 602.5px,#0076be 606.5px,#1a84c5 607.5px,#4199cf 608.5px,#c7e1f1 611.5px,#e7f2f9 612.5px,#fbfdfe 613.5px,#ffffff)"></i><i style="left:504px;background:linear-gradient(#f0f7fb,#e4f0f8 54.5px,#f0f7fb 94.5px,#fffefd 116.5px,#fbe1d2 139.5px,#f8caae 169.5px,#f5b893 218.5px,#f6bc99 249.5px,#f9cfb6 277.5px,#fcebe0 297.5px,#feffff 306.5px,#c4dff0 356.5px,#92c4e3 411.5px,#3d97ce 497.5px,#268ac8 542.5px,#2087c6 553.5px,#2187c6 559.5px,#1a84c5 565.5px,#2288c7 571.5px,#1280c3 577.5px,#1f86c6 581.5px,#278bc8 584.5px,#1983c4 587.5px,#087ac0 590.5px,#0c7dc1 592.5px,#3090ca 596.5px,#3391cb 598.5px,#1e86c6 600.5px,#0076be 602.5px,#0076be 606.5px,#1984c4 607.5px,#4098ce 608.5px,#c6e0f0 611.5px,#e7f2f9 612.5px,#fbfdfe 613.5px,#ffffff)"></i><i style="left:506px;background:linear-gradient(#f1f7fb,#e4f0f8 54.5px,#f0f7fb 95.5px,#fffdfc 117.5px,#fbdfcf 142.5px,#f8caae 171.5px,#f6b894 219.5px,#f6bd9a 250.5px,#f9d0b7 278.5px,#fcebe1 298.5px,#fefeff 307.5px,#c4e0f0 357.5px,#90c4e3 413.5px,#3d97ce 497.5px,#258ac8 542.5px,#2087c6 553.5px,#2188c6 559.5px,#1984c4 565.5px,#2288c7 571.5px,#1280c3 577.5px,#1e86c6 581.5px,#278bc8 584.5px,#1a84c5 587.5px,#087bc0 590.5px,#0c7cc1 592.5px,#3090ca 596.5px,#3391cb 598.5px,#1f86c6 600.5px,#0076be 602.5px,#0076be 606.5px,#1983c4 607.5px,#3f98ce 608.5px,#c6e0f0 611.5px,#e7f2f9 612.5px,#fbfdfe 613.5px,#ffffff)"></i><i style="left:508px;background:linear-gradient(#f2f8fc,#e4f1f8 55.5px,#f0f7fb 97.5px,#fffdfc 120.5px,#fbdfce 148.5px,#f8ccb2 178.5px,#f6bb98 222.5px,#f6be9d 253.5px,#f9cfb6 280.5px,#fceadf 301.5px,#fdfcfc 312.5px,#b9d9ed 377.5px,#3f98ce 496.5px,#268ac8 542.5px,#2188c6 554.5px,#2087c6 560.5px,#1984c4 565.5px,#2389c7 571.5px,#1280c3 577.5px,#1983c4 580.5px,#278bc8 584.5px,#1b84c5 587.5px,#097bc0 590.5px,#0b7cc1 592.5px,#2f8fca 596.5px,#3392cb 598.5px,#1f87c6 600.5px,#0076be 602.5px,#0076be 606.5px,#1883c4 607.5px,#3e97ce 608.5px,#c5e0f0 611.5px,#e7f2f9 612.5px,#fbfdfe 613.5px,#ffffff)"></i><i style="left:510px;background:linear-gradient(#f3f8fc,#e5f1f8 55.5px,#f0f7fb 100.5px,#fefdfc 126.5px,#fbdfce 158.5px,#f7c0a0 219.5px,#f6be9c 251.5px,#f8cbb0 280.5px,#fbe4d6 304.5px,#fdfcfb 321.5px,#f1f7fb 333.5px,#439acf 492.5px,#268ac8 541.5px,#2188c6 554.5px,#2087c6 560.5px,#1a84c5 565.5px,#2389c7 571.5px,#1380c3 578.5px,#278bc8 584.5px,#1b85c5 587.5px,#097bc0 590.5px,#0b7cc1 592.5px,#2f8fca 596.5px,#3492cb 598.5px,#2087c6 600.5px,#0076be 602.5px,#0076be 606.5px,#1782c4 607.5px,#3d97ce 608.5px,#c5e0f0 611.5px,#e7f2f9 612.5px,#fbfdfe 613.5px,#ffffff)"></i><i style="left:512px;background:linear-gradient(#f4f9fc,#e5f1f8 56.5px,#f0f7fb 105.5px,#fefdfc 133.5px,#fbe1d2 165.5px,#f7c1a1 225.5px,#f6be9c 255.5px,#f8caae 285.5px,#fbe2d4 311.5px,#fdfefe 331.5px,#499dd1 487.5px,#268ac8 540.5px,#2188c6 554.5px,#2188c6 560.5px,#1a84c5 566.5px,#2288c7 572.5px,#1380c3 578.5px,#278bc8 584.5px,#1c85c5 587.5px,#097bc0 590.5px,#0b7cc1 592.5px,#3492cb 597.5px,#3492cb 598.5px,#2188c6 600.5px,#0076be 602.5px,#0076be 606.5px,#1682c4 607.5px,#3c96cd 608.5px,#c4e0f0 611.5px,#e7f2f9 612.5px,#fbfdfe 613.5px,#ffffff)"></i><i style="left:514px;background:linear-gradient(#f4f9fc,#e5f1f8 57.5px,#f0f7fb 107.5px,#fffffe 136.5px,#fce6d9 163.5px,#f7c2a3 225.5px,#f6bd9b 254.5px,#f8c8ab 285.5px,#fbdecd 311.5px,#fef9f6 330.5px,#fdfeff 334.5px,#4ea0d2 483.5px,#2c8ec9 530.5px,#2188c6 554.5px,#2188c6 560.5px,#1a84c5 566.5px,#2288c7 572.5px,#1280c3 578.5px,#278bc8 584.5px,#1d85c5 587.5px,#0a7bc0 590.5px,#0a7bc1 592.5px,#3492cb 597.5px,#3492cb 598.5px,#2e8fca 599.5px,#127fc2 601.5px,#0076be 602.5px,#0076be 606.5px,#1581c3 607.5px,#3b96cd 608.5px,#c4dff0 611.5px,#e6f2f9 612.5px,#fbfdfe 613.5px,#ffffff)"></i><i style="left:516px;background:linear-gradient(#f4f9fc,#e5f1f8 56.5px,#f0f7fb 105.5px,#fffdfc 134.5px,#fbe2d4 164.5px,#f7c1a2 225.5px,#f6be9c 254.5px,#f8c9ad 284.5px,#fbe0cf 309.5px,#fefaf7 327.5px,#fbfdfe 333.5px,#4a9ed1 486.5px,#268ac8 540.5px,#2188c6 555.5px,#2087c6 561.5px,#1a84c5 566.5px,#2289c7 572.5px,#1280c3 578.5px,#278bc8 584.5px,#1d86c6 587.5px,#0a7bc1 590.5px,#0a7bc1 592.5px,#3392cb 597.5px,#3492cb 598.5px,#2e8fca 599.5px,#1280c3 601.5px,#0176be 602.5px,#0076be 606.5px,#1481c3 607.5px,#3a95cd 608.5px,#c4dff0 611.5px,#e6f2f9 612.5px,#fbfdfe 613.5px,#ffffff)"></i><i style="left:518px;background:linear-gradient(#f3f8fc,#e5f1f8 55.5px,#f0f7fb 100.5px,#fefdfc 126.5px,#fbdecd 160.5px,#f7c0a0 220.5px,#f6be9c 252.5px,#f8cbb0 281.5px,#fbe4d6 305.5px,#fcfdfd 323.5px,#449bcf 491.5px,#258ac8 542.5px,#2188c6 555.5px,#2087c6 561.5px,#1a84c5 566.5px,#2289c7 572.5px,#1280c3 578.5px,#1f87c6 582.5px,#268bc8 585.5px,#087ac0 591.5px,#0f7ec2 593.5px,#3391cb 597.5px,#3492cb 598.5px,#2f8fca 599.5px,#1380c3 601.5px,#0277be 602.5px,#0076be 606.5px,#1380c3 607.5px,#3995cd 608.5px,#c3dff0 611.5px,#e6f2f9 612.5px,#fbfdfe 613.5px,#ffffff)"></i><i style="left:520px;background:linear-gradient(#f2f8fc,#e4f1f8 55.5px,#f0f7fb 97.5px,#fefdfd 120.5px,#fbdfce 149.5px,#f8ccb2 179.5px,#f6bc99 223.5px,#f6bf9e 254.5px,#f9cfb6 280.5px,#fce9de 301.5px,#fdfcfb 312.5px,#f7fbfd 319.5px,#b9d9ed 377.5px,#3f98ce 496.5px,#258ac7 543.5px,#2087c6 555.5px,#2087c6 561.5px,#1984c4 566.5px,#2288c7 572.5px,#1280c3 578.5px,#1f87c6 582.5px,#278bc8 585.5px,#1883c4 588.5px,#087ac0 591.5px,#0f7ec2 593.5px,#3391cb 597.5px,#3492cb 598.5px,#2f8fca 599.5px,#1481c3 601.5px,#0277bf 602.5px,#0076be 606.5px,#1380c3 607.5px,#3994cc 608.5px,#c3dff0 611.5px,#e6f1f9 612.5px,#fbfdfe 613.5px,#ffffff)"></i><i style="left:522px;background:linear-gradient(#f1f7fb,#e4f0f8 54.5px,#f0f7fb 95.5px,#fffdfc 117.5px,#fbe0d1 141.5px,#f8cbaf 170.5px,#f6b994 219.5px,#f6bd9b 250.5px,#f9cfb7 278.5px,#fcebe0 298.5px,#fefefe 307.5px,#c4dff0 358.5px,#8fc3e3 414.5px,#3d97ce 497.5px,#248ac7 543.5px,#1f87c6 555.5px,#2087c6 561.5px,#1983c4 566.5px,#2288c7 572.5px,#1280c3 578.5px,#1983c4 581.5px,#278bc8 585.5px,#1883c4 588.5px,#087ac0 591.5px,#0e7ec2 593.5px,#3391cb 597.5px,#3492cb 598.5px,#3090ca 599.5px,#1581c3 601.5px,#0378bf 602.5px,#0076be 606.5px,#1280c3 607.5px,#3894cc 608.5px,#c2def0 611.5px,#e6f1f9 612.5px,#fbfdfe 613.5px,#ffffff)"></i><i style="left:524px;background:linear-gradient(#f0f7fb,#e4f0f8 54.5px,#f0f7fb 94.5px,#fffefd 116.5px,#fbe0d0 140.5px,#f8c9ae 169.5px,#f5b893 218.5px,#f6bc99 249.5px,#f9cfb6 277.5px,#fcebe0 297.5px,#fefeff 306.5px,#c4dff0 356.5px,#92c4e3 411.5px,#3d97ce 497.5px,#248ac7 544.5px,#2087c6 556.5px,#1e86c6 562.5px,#1a84c5 567.5px,#2288c7 572.5px,#1280c3 579.5px,#278bc8 585.5px,#1983c4 588.5px,#087ac0 591.5px,#0d7dc1 593.5px,#3291cb 597.5px,#3492cb 598.5px,#3090ca 599.5px,#1682c4 601.5px,#0478bf 602.5px,#0076be 606.5px,#117fc2 607.5px,#3793cc 608.5px,#c2deef 611.5px,#e5f1f8 612.5px,#fbfdfe 613.5px,#ffffff)"></i><i style="left:526px;background:linear-gradient(#f1f7fb,#e4f1f8 54.5px,#f0f7fb 95.5px,#fffdfc 118.5px,#fbe1d1 142.5px,#f8ccb1 171.5px,#f6b995 220.5px,#f6bd9b 251.5px,#f9cfb6 278.5px,#fce9de 298.5px,#fdfeff 309.5px,#c3dff0 361.5px,#88bfe1 422.5px,#3d97ce 498.5px,#248ac7 544.5px,#2087c6 556.5px,#1f86c6 562.5px,#1984c4 567.5px,#2288c7 573.5px,#1280c3 579.5px,#278bc8 585.5px,#1a84c5 588.5px,#087ac0 591.5px,#0d7dc1 593.5px,#3291cb 597.5px,#3592cb 598.5px,#3190ca 599.5px,#1682c4 601.5px,#0578bf 602.5px,#0076be 604.5px,#0076be 606.5px,#107fc2 607.5px,#3693cc 608.5px,#c2deef 611.5px,#e5f1f8 612.5px,#fbfdfe 613.5px,#ffffff)"></i><i style="left:528px;background:linear-gradient(#f2f8fc,#e5f1f8 55.5px,#f0f7fb 98.5px,#fefdfc 122.5px,#fbdecd 153.5px,#f7c4a5 201.5px,#f6bc99 234.5px,#f7c2a2 261.5px,#f9d2bb 285.5px,#fcece2 305.5px,#fdfcfb 315.5px,#f6fafd 323.5px,#4299cf 493.5px,#248ac7 543.5px,#2087c6 556.5px,#1f87c6 562.5px,#1984c4 567.5px,#2288c7 573.5px,#1280c3 579.5px,#278bc8 585.5px,#1a84c5 588.5px,#087ac0 591.5px,#0c7dc1 593.5px,#3291cb 597.5px,#3592cb 598.5px,#3190cb 599.5px,#1783c4 601.5px,#0579bf 602.5px,#0076be 604.5px,#0076be 606.5px,#0f7ec2 607.5px,#3592cb 608.5px,#c1deef 611.5px,#e5f1f8 612.5px,#fafdfe 613.5px,#ffffff)"></i><i style="left:530px;background:linear-gradient(#f3f9fc,#e5f1f8 56.5px,#f1f7fb 103.5px,#fefdfc 129.5px,#fbe0cf 162.5px,#f7c1a1 222.5px,#f6be9c 253.5px,#f8caaf 282.5px,#fbe2d3 306.5px,#fdfdfd 326.5px,#469bd0 490.5px,#258ac7 543.5px,#2087c6 556.5px,#2087c6 562.5px,#1984c4 567.5px,#2288c7 573.5px,#1280c3 579.5px,#278bc8 585.5px,#1b85c5 588.5px,#097bc0 591.5px,#0c7cc1 593.5px,#3190cb 597.5px,#3592cb 598.5px,#3191cb 599.5px,#1883c4 601.5px,#0679c0 602.5px,#0076be 603.5px,#0076be 606.5px,#0f7ec2 607.5px,#3492cb 608.5px,#c1deef 611.5px,#e5f1f8 612.5px,#fafdfe 613.5px,#ffffff)"></i><i style="left:532px;background:linear-gradient(#f4f9fc,#e5f1f8 56.5px,#f0f7fb 105.5px,#fffefd 135.5px,#fbe3d5 165.5px,#f7c2a2 226.5px,#f6bd9b 255.5px,#f8c9ad 286.5px,#fbe1d1 312.5px,#fefaf7 329.5px,#fcfdfe 334.5px,#4c9fd1 485.5px,#2a8dc9 533.5px,#2087c6 556.5px,#2087c6 562.5px,#1984c4 567.5px,#2389c7 573.5px,#1280c3 579.5px,#2087c6 583.5px,#268ac8 586.5px,#097bc0 591.5px,#0c7cc1 593.5px,#3190ca 597.5px,#3592cb 598.5px,#3291cb 599.5px,#1983c4 601.5px,#077ac0 602.5px,#0076be 603.5px,#0076be 606.5px,#0e7dc2 607.5px,#3391cb 608.5px,#c0ddef 611.5px,#e5f1f8 612.5px,#fafdfe 613.5px,#ffffff)"></i><i style="left:534px;background:linear-gradient(#f4f9fc,#e5f1f8 57.5px,#f0f7fb 107.5px,#fffefd 136.5px,#fbe4d6 165.5px,#f7c2a2 226.5px,#f6bd9b 255.5px,#f8c9ac 286.5px,#fbe1d1 313.5px,#fefaf7 330.5px,#fdfefe 334.5px,#4d9fd2 484.5px,#2b8dc9 532.5px,#2188c6 557.5px,#2188c6 562.5px,#1984c4 567.5px,#2389c7 573.5px,#1280c3 579.5px,#2087c6 583.5px,#268bc8 586.5px,#097bc0 591.5px,#0b7cc1 593.5px,#3090ca 597.5px,#3592cb 598.5px,#3291cb 599.5px,#1a84c5 601.5px,#087ac0 602.5px,#0076be 603.5px,#0076be 606.5px,#0d7dc1 607.5px,#3291cb 608.5px,#c0ddef 611.5px,#e5f1f8 612.5px,#fafdfe 613.5px,#ffffff)"></i><i style="left:536px;background:linear-gradient(#f3f9fc,#e5f1f8 56.5px,#f0f7fb 103.5px,#fefdfc 131.5px,#fbe1d1 163.5px,#f7c1a1 223.5px,#f6be9c 254.5px,#f8caaf 283.5px,#fbe1d1 307.5px,#fdfdfe 328.5px,#479cd0 489.5px,#248ac7 543.5px,#2087c6 557.5px,#1f87c6 563.5px,#1a84c5 568.5px,#2389c7 573.5px,#1280c3 579.5px,#1a84c5 582.5px,#268bc8 585.5px,#1d86c5 588.5px,#097bc0 591.5px,#0b7cc1 593.5px,#3090ca 597.5px,#3492cb 598.5px,#3291cb 599.5px,#1b84c5 601.5px,#087bc0 602.5px,#0076be 603.5px,#0076be 606.5px,#0c7dc1 607.5px,#3191cb 608.5px,#bfddef 611.5px,#e4f1f8 612.5px,#fafdfe 613.5px,#ffffff)"></i><i style="left:538px;background:linear-gradient(#f2f8fc,#e5f1f8 55.5px,#f0f7fb 99.5px,#fefdfd 123.5px,#fbdecc 156.5px,#f7c09f 215.5px,#f6bd9b 249.5px,#f8ccb1 279.5px,#fce5d7 302.5px,#fdfcfc 318.5px,#4299cf 493.5px,#2489c7 545.5px,#2087c6 557.5px,#1f87c6 563.5px,#1984c4 568.5px,#2288c7 573.5px,#1280c3 579.5px,#1984c4 582.5px,#268ac8 585.5px,#2389c7 587.5px,#0a7bc0 591.5px,#0a7cc1 593.5px,#3090ca 597.5px,#3492cb 598.5px,#3391cb 599.5px,#2a8dc9 600.5px,#097bc0 602.5px,#0076be 603.5px,#0076be 606.5px,#0c7cc1 607.5px,#3090ca 608.5px,#bfddef 611.5px,#e4f1f8 612.5px,#fafcfe 613.5px,#ffffff)"></i><i style="left:540px;background:linear-gradient(#f1f8fb,#e4f1f8 54.5px,#f0f7fb 96.5px,#fffefd 118.5px,#fbdfcf 145.5px,#f8ccb1 174.5px,#f6ba96 221.5px,#f6be9c 252.5px,#f9cfb6 279.5px,#fce9de 299.5px,#fdfdfd 310.5px,#c2deef 364.5px,#7bb8dd 435.5px,#3c96cd 499.5px,#2489c7 546.5px,#1f87c6 557.5px,#1f87c6 563.5px,#1983c4 568.5px,#2288c7 574.5px,#1280c3 579.5px,#1983c4 582.5px,#268ac8 585.5px,#2489c7 587.5px,#0a7bc1 591.5px,#0a7bc1 593.5px,#2f8fca 597.5px,#3492cb 598.5px,#3391cb 599.5px,#2b8dc9 600.5px,#0a7bc1 602.5px,#0076be 603.5px,#0076be 606.5px,#0b7cc1 607.5px,#3090ca 608.5px,#bfdcef 611.5px,#e4f1f8 612.5px,#fafcfe 613.5px,#ffffff)"></i><i style="left:542px;background:linear-gradient(#f0f7fb,#e4f0f8 54.5px,#f0f7fb 95.5px,#fffefd 116.5px,#fbe1d2 139.5px,#f8caae 169.5px,#f6b893 218.5px,#f6bd9a 250.5px,#f9d0b8 278.5px,#fceae0 297.5px,#feffff 306.5px,#c4dff0 356.5px,#92c4e3 411.5px,#3d97ce 497.5px,#2489c7 546.5px,#1f87c6 557.5px,#1f87c6 563.5px,#1983c4 568.5px,#2288c7 574.5px,#1280c3 580.5px,#268bc8 586.5px,#1883c4 589.5px,#087ac0 592.5px,#107fc2 594.5px,#2f8fca 597.5px,#3492cb 598.5px,#3391cb 599.5px,#2b8dc9 600.5px,#0b7cc1 602.5px,#0076be 603.5px,#0076be 606.5px,#0a7bc1 607.5px,#2f8fca 608.5px,#bedcee 611.5px,#e4f0f8 612.5px,#fafcfe 613.5px,#ffffff)"></i><i style="left:544px;background:linear-gradient(#f1f7fb,#e4f0f8 54.5px,#f0f7fb 95.5px,#fffefe 116.5px,#fbe2d3 139.5px,#f8caaf 169.5px,#f6b893 218.5px,#f6bd9a 250.5px,#f9d0b7 278.5px,#fcece2 298.5px,#fdfeff 307.5px,#c4dff0 357.5px,#91c4e3 412.5px,#3d97ce 497.5px,#2389c7 546.5px,#2087c6 558.5px,#1f87c6 563.5px,#1883c4 568.5px,#2288c7 574.5px,#1280c3 580.5px,#268bc8 586.5px,#1883c4 589.5px,#087ac0 592.5px,#0f7ec2 594.5px,#2e8fca 597.5px,#3492cb 598.5px,#3392cb 599.5px,#2c8dc9 600.5px,#0076be 603.5px,#0076be 606.5px,#097bc0 607.5px,#2e8fca 608.5px,#bedcee 611.5px,#e4f0f8 612.5px,#fafcfe 613.5px,#ffffff)"></i><i style="left:546px;background:linear-gradient(#f1f8fc,#e4f1f8 54.5px,#f0f7fb 96.5px,#fefdfd 119.5px,#fbdfce 147.5px,#f8ccb1 176.5px,#f6bb97 222.5px,#f6be9d 253.5px,#f9cfb5 279.5px,#fce9de 300.5px,#fdfdfc 311.5px,#bddcee 371.5px,#3e97ce 497.5px,#2489c7 546.5px,#1f87c6 558.5px,#2087c6 563.5px,#1883c4 568.5px,#2288c7 574.5px,#1280c3 580.5px,#278bc8 586.5px,#1983c4 589.5px,#087ac0 592.5px,#0f7ec2 594.5px,#2e8eca 597.5px,#3492cb 598.5px,#3492cb 599.5px,#2c8ec9 600.5px,#0076be 603.5px,#0076be 606.5px,#097bc0 607.5px,#2d8ec9 608.5px,#bddcee 611.5px,#e3f0f8 612.5px,#fafcfe 613.5px,#ffffff)"></i><i style="left:548px;background:linear-gradient(#f3f8fc,#e5f1f8 55.5px,#f0f7fb 100.5px,#fefdfc 125.5px,#fbdfce 157.5px,#f7c09f 218.5px,#f6be9c 251.5px,#f8cbb1 280.5px,#fbe4d6 303.5px,#fdfcfc 320.5px,#429acf 493.5px,#2489c7 546.5px,#1f87c6 558.5px,#1f86c6 564.5px,#1984c4 569.5px,#2288c7 574.5px,#1280c3 580.5px,#278bc8 586.5px,#1a84c5 589.5px,#087ac0 592.5px,#0e7ec2 594.5px,#3492cb 598.5px,#3492cb 599.5px,#2d8ec9 600.5px,#0076be 603.5px,#0076be 606.5px,#087ac0 607.5px,#2c8ec9 608.5px,#bddcee 611.5px,#e3f0f8 612.5px,#fafcfe 613.5px,#ffffff)"></i><i style="left:550px;background:linear-gradient(#f4f9fc,#e5f1f8 56.5px,#f0f7fb 104.5px,#fefdfc 132.5px,#fbe1d1 165.5px,#f7c1a1 225.5px,#f6be9c 255.5px,#f8caaf 285.5px,#fbe2d4 310.5px,#fdfefe 330.5px,#499dd1 487.5px,#298cc8 536.5px,#1f87c6 558.5px,#1f87c6 564.5px,#1984c4 569.5px,#2288c7 574.5px,#1280c3 580.5px,#2087c6 584.5px,#268ac8 587.5px,#087ac0 592.5px,#0e7dc2 594.5px,#3392cb 598.5px,#3492cb 599.5px,#2d8eca 600.5px,#0076be 603.5px,#0076be 606.5px,#077ac0 607.5px,#2b8dc9 608.5px,#bddbee 611.5px,#e3f0f8 612.5px,#fafcfe 613.5px,#ffffff)"></i><i style="left:552px;background:linear-gradient(#f4f9fc,#e5f1f8 57.5px,#f0f7fb 107.5px,#fffefe 136.5px,#fce6d9 163.5px,#f7c2a3 225.5px,#f6bd9b 254.5px,#f8c8ab 285.5px,#fbdecd 311.5px,#fef9f6 330.5px,#feffff 333.5px,#4ea0d2 483.5px,#2a8cc9 533.5px,#1f87c6 558.5px,#1f87c6 564.5px,#1984c4 569.5px,#2289c7 574.5px,#1280c3 580.5px,#1a84c5 583.5px,#278bc8 586.5px,#2288c7 588.5px,#087ac0 592.5px,#0d7dc1 594.5px,#3391cb 598.5px,#3492cb 599.5px,#2e8fca 600.5px,#0076be 603.5px,#0076be 606.5px,#0679c0 607.5px,#2a8dc9 608.5px,#bcdbee 611.5px,#e3f0f8 612.5px,#fafcfe 613.5px,#ffffff)"></i><i style="left:554px;background:linear-gradient(#f4f9fc,#e5f1f8 56.5px,#f0f7fb 105.5px,#fffefd 134.5px,#fbe2d3 166.5px,#f7c1a1 226.5px,#f6be9c 255.5px,#f8c9ad 285.5px,#fbe1d1 311.5px,#fefaf7 328.5px,#fbfdfe 334.5px,#4a9ed1 486.5px,#298cc8 535.5px,#2087c6 559.5px,#2087c6 564.5px,#1983c4 569.5px,#2288c7 575.5px,#1280c3 580.5px,#1a84c5 583.5px,#268bc8 586.5px,#2288c7 588.5px,#087bc0 592.5px,#0d7dc1 594.5px,#3391cb 598.5px,#3492cb 599.5px,#2e8fca 600.5px,#0076be 603.5px,#0076be 606.5px,#0679bf 607.5px,#2a8cc9 608.5px,#bcdbee 611.5px,#e3f0f8 612.5px,#fafcfe 613.5px,#ffffff)"></i><i style="left:556px;background:linear-gradient(#f3f9fc,#e5f1f8 56.5px,#f1f7fb 102.5px,#fefdfd 127.5px,#fbdfce 161.5px,#f7c0a0 221.5px,#f6be9c 253.5px,#f8cbb1 282.5px,#fbe4d6 306.5px,#fdfcfb 323.5px,#f1f7fb 335.5px,#459bcf 491.5px,#2389c7 546.5px,#2087c6 559.5px,#2087c6 564.5px,#1983c4 569.5px,#2288c7 575.5px,#1280c3 580.5px,#1984c4 583.5px,#268bc8 586.5px,#2389c7 588.5px,#097bc0 592.5px,#0c7dc1 594.5px,#3391cb 598.5px,#3492cb 599.5px,#2f8fca 600.5px,#0076be 603.5px,#0076be 606.5px,#0579bf 607.5px,#298cc8 608.5px,#bbdbee 611.5px,#e2f0f8 612.5px,#fafcfe 613.5px,#ffffff)"></i><i style="left:558px;background:linear-gradient(#f2f8fc,#e5f1f8 55.5px,#f1f7fb 98.5px,#fefdfc 121.5px,#fbdfce 150.5px,#f8ccb1 182.5px,#f6bc99 223.5px,#f6bf9e 254.5px,#f8ceb5 280.5px,#fce8dc 301.5px,#fdfcfb 313.5px,#f6fafd 321.5px,#b1d5eb 387.5px,#4199ce 494.5px,#2389c7 547.5px,#1f87c6 559.5px,#2087c6 564.5px,#1883c4 569.5px,#2288c7 575.5px,#1280c3 581.5px,#268ac8 586.5px,#2389c7 588.5px,#097bc0 592.5px,#0c7cc1 594.5px,#3291cb 598.5px,#3492cb 599.5px,#2f8fca 600.5px,#117fc2 602.5px,#0076be 603.5px,#0076be 606.5px,#0478bf 607.5px,#288bc8 608.5px,#bbdaee 611.5px,#e2f0f8 612.5px,#fafcfe 613.5px,#ffffff)"></i><i style="left:560px;background:linear-gradient(#f1f7fb,#e4f0f8 54.5px,#f0f7fb 95.5px,#fffefd 117.5px,#fbe1d1 141.5px,#f8cbb0 170.5px,#f6b995 219.5px,#f6bd9b 251.5px,#f9cfb6 278.5px,#fceadf 298.5px,#fdfeff 308.5px,#c4dff0 359.5px,#8ec2e2 416.5px,#3d97ce 497.5px,#2389c7 548.5px,#1f86c6 559.5px,#2087c6 564.5px,#1883c4 569.5px,#2288c7 575.5px,#1280c3 581.5px,#268bc8 587.5px,#1682c4 590.5px,#097bc0 592.5px,#0b7cc1 594.5px,#3291cb 598.5px,#3492cb 599.5px,#3090ca 600.5px,#1280c3 602.5px,#0076be 603.5px,#0478bf 607.5px,#278bc8 608.5px,#badaee 611.5px,#e2eff8 612.5px,#fafcfe 613.5px,#ffffff)"></i><i style="left:562px;background:linear-gradient(#f0f7fb,#e4f0f8 54.5px,#f0f7fb 94.5px,#fffdfd 116.5px,#fbe0d0 140.5px,#f8c9ae 169.5px,#f5b892 218.5px,#f6bc99 249.5px,#f9cfb6 277.5px,#fcebe0 297.5px,#fefeff 306.5px,#c4dff0 356.5px,#92c4e3 411.5px,#3d97ce 497.5px,#2389c7 548.5px,#1e86c6 559.5px,#1e86c6 565.5px,#1983c4 570.5px,#2288c7 575.5px,#1280c3 581.5px,#268bc8 587.5px,#1682c4 590.5px,#097bc0 592.5px,#0b7cc1 594.5px,#3291cb 598.5px,#3492cb 599.5px,#3090ca 600.5px,#1380c3 602.5px,#0076be 603.5px,#0378bf 607.5px,#268bc8 608.5px,#badaed 611.5px,#e2eff8 612.5px,#fafcfe 613.5px,#ffffff)"></i><i style="left:564px;background:linear-gradient(#f1f7fb,#e4f0f8 54.5px,#f0f7fb 95.5px,#fffefd 117.5px,#fbe0d0 142.5px,#f8cbb0 171.5px,#f6b995 219.5px,#f6bd9b 251.5px,#f9cfb6 278.5px,#fceadf 298.5px,#fefefe 308.5px,#c3dff0 360.5px,#8dc2e2 417.5px,#3d97ce 497.5px,#2389c7 548.5px,#1f87c6 560.5px,#1f86c6 565.5px,#1983c4 570.5px,#2288c7 575.5px,#1280c3 581.5px,#268bc8 587.5px,#1782c4 590.5px,#0a7bc0 592.5px,#0b7cc1 594.5px,#3190cb 598.5px,#3592cb 599.5px,#3090ca 600.5px,#1380c3 602.5px,#0076be 603.5px,#0277bf 607.5px,#258ac8 608.5px,#badaed 611.5px,#e2eff8 612.5px,#fafcfe 613.5px,#ffffff)"></i><i style="left:566px;background:linear-gradient(#f2f8fc,#e5f1f8 55.5px,#f0f7fb 98.5px,#fefdfd 121.5px,#fbdecd 152.5px,#f8cbb0 185.5px,#f6bc9a 223.5px,#f6bf9e 254.5px,#f8ceb4 280.5px,#fce9dd 302.5px,#fdfcfb 314.5px,#f6fafd 322.5px,#4199cf 494.5px,#2289c7 547.5px,#1f87c6 560.5px,#1f87c6 565.5px,#1983c4 570.5px,#2288c7 575.5px,#1280c3 581.5px,#268bc8 587.5px,#1883c4 590.5px,#0a7bc1 592.5px,#0a7cc1 594.5px,#3190ca 598.5px,#3592cb 599.5px,#3190ca 600.5px,#1481c3 602.5px,#0177be 603.5px,#0277be 607.5px,#258ac7 608.5px,#87bfe0 610.5px,#b9d9ed 611.5px,#e2eff7 612.5px,#fafcfe 613.5px,#ffffff)"></i><i style="left:568px;background:linear-gradient(#f3f9fc,#e5f1f8 56.5px,#f0f7fb 102.5px,#fefdfc 128.5px,#fbdfcf 161.5px,#f7c0a0 222.5px,#f6be9c 253.5px,#f8cbb0 282.5px,#fbe3d5 306.5px,#fdfdfe 325.5px,#459bcf 491.5px,#2389c7 547.5px,#1f87c6 560.5px,#2087c6 565.5px,#1983c4 570.5px,#2188c6 576.5px,#1280c3 581.5px,#1b85c5 584.5px,#278bc8 587.5px,#2087c6 589.5px,#0a7cc1 592.5px,#0a7bc1 594.5px,#3190ca 598.5px,#3592cb 599.5px,#3190cb 600.5px,#1581c3 602.5px,#0277be 603.5px,#0177be 607.5px,#2489c7 608.5px,#86bee0 610.5px,#b9d9ed 611.5px,#e1eff7 612.5px,#fafcfe 613.5px,#ffffff)"></i><i style="left:570px;background:linear-gradient(#f4f9fc,#e5f1f8 56.5px,#f0f7fb 105.5px,#fffdfc 135.5px,#fbe3d4 165.5px,#f7c1a2 226.5px,#f6be9c 255.5px,#f8caae 286.5px,#fbe2d2 312.5px,#fdfeff 332.5px,#4a9ed1 486.5px,#288cc8 536.5px,#1f87c6 560.5px,#2087c6 565.5px,#1983c4 570.5px,#2288c7 576.5px,#1280c3 581.5px,#1b84c5 584.5px,#278bc8 587.5px,#2087c6 589.5px,#0b7cc1 592.5px,#0a7bc0 594.5px,#3090ca 598.5px,#3492cb 599.5px,#3191cb 600.5px,#278bc8 601.5px,#0277bf 603.5px,#0076be 607.5px,#2389c7 608.5px,#86bee0 610.5px,#b8d9ed 611.5px,#e1eff7 612.5px,#fafcfe 613.5px,#ffffff)"></i><i style="left:572px;background:linear-gradient(#f4f9fc,#e5f1f8 57.5px,#f0f7fb 107.5px,#fffefe 136.5px,#fce6d8 163.5px,#f7c2a3 225.5px,#f6bd9b 254.5px,#f8c8ab 285.5px,#fbdecd 311.5px,#fef9f6 330.5px,#fdfefe 334.5px,#4ea0d2 483.5px,#298cc8 534.5px,#1f87c6 556.5px,#2087c6 565.5px,#1883c4 570.5px,#2288c7 576.5px,#1280c3 581.5px,#1a84c5 584.5px,#268bc8 587.5px,#2188c6 589.5px,#087ac0 593.5px,#107fc2 595.5px,#3090ca 598.5px,#3492cb 599.5px,#3291cb 600.5px,#278bc8 601.5px,#0378bf 603.5px,#0076be 607.5px,#2288c7 608.5px,#51a1d3 609.5px,#b8d9ed 611.5px,#e1eff7 612.5px,#fafcfe 613.5px,#ffffff)"></i><i style="left:574px;background:linear-gradient(#f4f9fc,#e5f1f8 56.5px,#f0f7fb 104.5px,#fefdfc 132.5px,#fbe1d1 164.5px,#f7c1a1 224.5px,#f6be9c 254.5px,#f8caaf 284.5px,#fbe2d3 309.5px,#fdfefe 329.5px,#489dd0 488.5px,#288bc8 538.5px,#1f86c6 560.5px,#1f86c6 566.5px,#1984c4 571.5px,#2288c7 576.5px,#1280c3 581.5px,#1984c4 584.5px,#268bc8 587.5px,#2188c7 589.5px,#087ac0 593.5px,#0f7ec2 595.5px,#2f8fca 598.5px,#3492cb 599.5px,#3291cb 600.5px,#288bc8 601.5px,#0478bf 603.5px,#0076be 607.5px,#2188c7 608.5px,#50a1d2 609.5px,#b7d8ed 611.5px,#e1eff7 612.5px,#fafcfe 613.5px,#ffffff)"></i><i style="left:576px;background:linear-gradient(#f2f8fc,#e5f1f8 55.5px,#f1f7fb 100.5px,#fefdfd 124.5px,#fbdecd 157.5px,#f7c09f 218.5px,#f6be9c 251.5px,#f8ccb1 280.5px,#fbe5d7 303.5px,#fdfcfb 319.5px,#edf5fa 334.5px,#429acf 493.5px,#2288c7 548.5px,#1f87c6 561.5px,#1f87c6 566.5px,#1983c4 571.5px,#2288c7 576.5px,#1280c3 582.5px,#268bc8 587.5px,#2288c7 589.5px,#087ac0 593.5px,#0f7ec2 595.5px,#2f8fca 598.5px,#3492cb 599.5px,#3291cb 600.5px,#288cc8 601.5px,#0478bf 603.5px,#0076be 606.5px,#0076be 607.5px,#2188c6 608.5px,#4fa0d2 609.5px,#b7d8ed 611.5px,#e1eff7 612.5px,#fafcfe 613.5px,#ffffff)"></i><i style="left:578px;background:linear-gradient(#f1f8fb,#e4f1f8 54.5px,#f0f7fb 96.5px,#fffdfd 119.5px,#fbdfcf 146.5px,#f8ccb1 175.5px,#f6bb97 221.5px,#f6be9c 252.5px,#f9cfb6 279.5px,#fceadf 300.5px,#fefcfc 310.5px,#e8f3f9 329.5px,#b1d5eb 384.5px,#3f98ce 495.5px,#2288c7 549.5px,#1f86c6 561.5px,#1f87c6 566.5px,#1883c4 571.5px,#2288c7 576.5px,#1280c3 582.5px,#268ac8 587.5px,#2288c7 589.5px,#087ac0 593.5px,#0e7ec2 595.5px,#2e8fca 598.5px,#3492cb 599.5px,#3391cb 600.5px,#298cc8 601.5px,#0579bf 603.5px,#0076be 605.5px,#0076be 607.5px,#2087c6 608.5px,#4ea0d2 609.5px,#b6d8ed 611.5px,#e0eff7 612.5px,#fafcfe 613.5px,#ffffff)"></i><i style="left:580px;background:linear-gradient(#f1f7fb,#e4f0f8 54.5px,#f0f7fb 95.5px,#fffefe 116.5px,#fbe3d4 138.5px,#f8cbaf 168.5px,#f6b893 218.5px,#f6bd9a 250.5px,#f9d0b7 278.5px,#fcece2 298.5px,#fdfeff 307.5px,#c4dff0 357.5px,#91c4e3 412.5px,#3d97ce 497.5px,#2288c7 550.5px,#1e86c6 561.5px,#1f87c6 566.5px,#1883c4 571.5px,#2288c7 576.5px,#127fc2 582.5px,#268ac8 587.5px,#2389c7 589.5px,#087ac0 593.5px,#0e7dc1 595.5px,#2e8fca 598.5px,#3492cb 599.5px,#3391cb 600.5px,#2a8cc9 601.5px,#0679bf 603.5px,#0076be 605.5px,#0076be 607.5px,#1f87c6 608.5px,#4da0d2 609.5px,#b6d8ec 611.5px,#e0eef7 612.5px,#fafcfe 613.5px,#ffffff)"></i><i style="left:582px;background:linear-gradient(#f0f7fb,#e4f0f8 54.5px,#f0f7fb 95.5px,#fffefe 116.5px,#fbe2d4 138.5px,#f8caaf 168.5px,#f6b893 218.5px,#f6bd9a 250.5px,#f9d0b7 278.5px,#fceae0 297.5px,#fefeff 306.5px,#c4dff0 356.5px,#92c4e3 411.5px,#3d97ce 497.5px,#2288c7 550.5px,#1e86c6 561.5px,#1f87c6 566.5px,#1883c4 571.5px,#2288c7 576.5px,#127fc2 582.5px,#268ac8 588.5px,#1581c3 591.5px,#087ac0 593.5px,#0d7dc1 595.5px,#2d8eca 598.5px,#3492cb 599.5px,#3391cb 600.5px,#2a8dc9 601.5px,#077ac0 603.5px,#0076be 604.5px,#0076be 607.5px,#1e86c6 608.5px,#4d9fd2 609.5px,#b6d8ec 611.5px,#e0eef7 612.5px,#fafcfe 613.5px,#ffffff)"></i><i style="left:584px;background:linear-gradient(#f1f8fb,#e4f1f8 54.5px,#f0f7fb 96.5px,#fffdfc 119.5px,#fbe1d1 144.5px,#f8ccb2 173.5px,#f6ba97 221.5px,#f6be9c 252.5px,#f9cfb6 279.5px,#fceae0 300.5px,#fdfdfc 310.5px,#c0ddef 367.5px,#76b5dc 440.5px,#3b96cd 501.5px,#2288c7 550.5px,#1e86c6 561.5px,#2087c6 566.5px,#1883c4 571.5px,#2188c6 577.5px,#127fc2 582.5px,#268bc8 588.5px,#1582c3 591.5px,#097bc0 593.5px,#0d7dc1 595.5px,#2d8ec9 598.5px,#3492cb 599.5px,#3392cb 600.5px,#2b8dc9 601.5px,#077ac0 603.5px,#0076be 604.5px,#0076be 607.5px,#1d86c6 608.5px,#4c9fd1 609.5px,#b5d7ec 611.5px,#e0eef7 612.5px,#fafcfe 613.5px,#ffffff)"></i><i style="left:586px;background:linear-gradient(#f2f8fc,#e5f1f8 55.5px,#f0f7fb 99.5px,#fefdfc 124.5px,#fbdecd 156.5px,#f7c0a0 215.5px,#f6bd9b 249.5px,#f8cbb0 279.5px,#fbe4d6 302.5px,#fdfcfb 318.5px,#f7fbfd 325.5px,#439acf 492.5px,#2288c7 549.5px,#1f87c6 562.5px,#1e86c6 567.5px,#1984c4 572.5px,#2188c6 577.5px,#1280c3 582.5px,#1c85c5 585.5px,#268bc8 588.5px,#1682c4 591.5px,#097bc0 593.5px,#0c7dc1 595.5px,#3492cb 599.5px,#3492cb 600.5px,#2b8dc9 601.5px,#087ac0 603.5px,#0076be 604.5px,#0076be 607.5px,#1d85c5 608.5px,#4b9ed1 609.5px,#b5d7ec 611.5px,#e0eef7 612.5px,#f9fcfe 613.5px,#ffffff)"></i><i style="left:588px;background:linear-gradient(#f4f9fc,#e5f1f8 56.5px,#f0f7fb 104.5px,#fefdfc 131.5px,#fbe0d0 164.5px,#f7c1a1 224.5px,#f6be9c 254.5px,#f8caae 283.5px,#fbe1d2 308.5px,#fcfefe 329.5px,#489dd0 488.5px,#278bc8 539.5px,#1f87c6 562.5px,#1f86c6 567.5px,#1983c4 572.5px,#2288c7 577.5px,#1280c3 582.5px,#1b85c5 585.5px,#268bc8 588.5px,#1f86c6 590.5px,#097bc0 593.5px,#0c7cc1 595.5px,#3392cb 599.5px,#3492cb 600.5px,#2c8ec9 601.5px,#097bc0 603.5px,#0076be 604.5px,#0076be 607.5px,#1c85c5 608.5px,#4a9ed1 609.5px,#b4d7ec 611.5px,#dfeef7 612.5px,#f9fcfe 613.5px,#ffffff)"></i><i style="left:590px;background:linear-gradient(#f4f9fc,#e5f1f8 57.5px,#f0f7fb 107.5px,#fffefe 136.5px,#fce5d7 164.5px,#f7c2a2 226.5px,#f6bd9b 255.5px,#f8c9ac 286.5px,#fbe1d1 313.5px,#fefaf7 330.5px,#fdfefe 334.5px,#4ea0d2 483.5px,#2b8dc9 532.5px,#1f87c6 562.5px,#1f87c6 567.5px,#1983c4 572.5px,#2288c7 577.5px,#1280c3 582.5px,#1b84c5 585.5px,#268bc8 588.5px,#1f87c6 590.5px,#097bc0 593.5px,#0c7cc1 595.5px,#3391cb 599.5px,#3492cb 600.5px,#2c8ec9 601.5px,#097bc0 603.5px,#0076be 604.5px,#0076be 607.5px,#1b85c5 608.5px,#499dd1 609.5px,#b4d7ec 611.5px,#dfeef7 612.5px,#f9fcfe 613.5px,#ffffff)"></i><i style="left:592px;background:linear-gradient(#f4f9fc,#e5f1f8 56.5px,#f0f7fb 105.5px,#fffdfd 135.5px,#fbe3d5 165.5px,#f7c2a2 226.5px,#f6bd9c 255.5px,#f8c9ad 286.5px,#fbe1d2 312.5px,#fefaf8 329.5px,#fdfefe 333.5px,#4b9fd1 485.5px,#288bc8 537.5px,#1e86c6 558.5px,#1f87c6 567.5px,#1983c4 572.5px,#2288c7 577.5px,#1280c3 582.5px,#1a84c5 585.5px,#268bc8 588.5px,#2087c6 590.5px,#0a7bc0 593.5px,#0b7cc1 595.5px,#3391cb 599.5px,#3492cb 600.5px,#2d8ec9 601.5px,#0a7bc1 603.5px,#0076be 604.5px,#0076be 607.5px,#1a84c5 608.5px,#499dd0 609.5px,#b3d6ec 611.5px,#dfeef7 612.5px,#f9fcfe 613.5px,#ffffff)"></i><i style="left:594px;background:linear-gradient(#f3f9fc,#e5f1f8 56.5px,#f1f7fb 103.5px,#fefdfd 128.5px,#fbdfcf 162.5px,#f7c1a0 222.5px,#f6be9c 253.5px,#f8cbb0 282.5px,#fbe3d4 306.5px,#fcfefe 326.5px,#469bd0 490.5px,#268bc8 541.5px,#1e86c6 562.5px,#1f87c6 567.5px,#1883c4 572.5px,#2288c7 577.5px,#1280c3 583.5px,#268bc8 588.5px,#2087c6 590.5px,#0a7bc1 593.5px,#0b7cc1 595.5px,#3391cb 599.5px,#3492cb 600.5px,#2d8eca 601.5px,#0b7cc1 603.5px,#0076be 604.5px,#0076be 607.5px,#1a84c5 608.5px,#489dd0 609.5px,#b3d6ec 611.5px,#dfeef7 612.5px,#f9fcfe 613.5px,#ffffff)"></i><i style="left:596px;background:linear-gradient(#f2f8fc,#e5f1f8 55.5px,#f0f7fb 98.5px,#fefdfc 122.5px,#fbdfcf 151.5px,#f8ccb2 184.5px,#f6bd9a 223.5px,#f6bf9e 254.5px,#f8ceb4 280.5px,#fce8dc 302.5px,#fdfbfa 314.5px,#f7fbfd 321.5px,#4299cf 493.5px,#2188c6 550.5px,#1f87c6 563.5px,#1d86c5 568.5px,#1883c4 572.5px,#2288c7 577.5px,#1280c3 583.5px,#268bc8 588.5px,#2188c6 590.5px,#0a7cc1 593.5px,#0a7cc1 595.5px,#3291cb 599.5px,#3492cb 600.5px,#2e8fca 601.5px,#0c7cc1 603.5px,#0076be 604.5px,#0076be 607.5px,#1983c4 608.5px,#479cd0 609.5px,#b2d6eb 611.5px,#dfeef7 612.5px,#f9fcfe 613.5px,#ffffff)"></i><i style="left:598px;background:linear-gradient(#f1f7fb,#e4f1f8 54.5px,#f0f7fb 95.5px,#fffefe 117.5px,#fbe0cf 143.5px,#f8cbb0 172.5px,#f6b995 220.5px,#f6bd9b 251.5px,#f9cfb6 278.5px,#fce9de 298.5px,#fdfefe 309.5px,#c4dff0 360.5px,#8bc1e1 419.5px,#3e97ce 497.5px,#2188c6 551.5px,#1e86c6 563.5px,#1d86c6 568.5px,#1883c4 572.5px,#2288c7 577.5px,#127fc2 583.5px,#268ac8 588.5px,#2188c6 590.5px,#0b7cc1 593.5px,#0a7bc1 595.5px,#3291cb 599.5px,#3492cb 600.5px,#2e8fca 601.5px,#0c7dc1 603.5px,#0076be 604.5px,#0076be 607.5px,#1883c4 608.5px,#469cd0 609.5px,#b2d6eb 611.5px,#deedf7 612.5px,#f9fcfe 613.5px,#ffffff)"></i><i style="left:600px;background:linear-gradient(#f0f7fb,#e4f0f8 54.5px,#f0f7fb 94.5px,#fffefd 116.5px,#fbe0d0 140.5px,#f8c9ae 169.5px,#f5b892 218.5px,#f6bc99 249.5px,#f9cfb6 277.5px,#fcebe0 297.5px,#fefeff 306.5px,#c4dff0 356.5px,#92c4e3 411.5px,#3d97ce 497.5px,#2188c6 551.5px,#1e86c6 563.5px,#1e86c6 568.5px,#1883c4 572.5px,#2188c6 578.5px,#117fc2 583.5px,#268ac8 588.5px,#2288c7 590.5px,#0b7cc1 593.5px,#0a7bc0 595.5px,#3291cb 599.5px,#3492cb 600.5px,#2f8fca 601.5px,#0076be 604.5px,#0076be 607.5px,#1783c4 608.5px,#459bd0 609.5px,#b2d5eb 611.5px,#deedf7 612.5px,#f9fcfe 613.5px,#ffffff)"></i><i style="left:602px;background:linear-gradient(#f1f7fb,#e4f0f8 54.5px,#f0f7fb 95.5px,#fffefd 117.5px,#fbe2d3 140.5px,#f8cbb0 170.5px,#f6b994 219.5px,#f6bd9b 251.5px,#f9cfb7 278.5px,#fcebe0 298.5px,#fdfeff 308.5px,#c4dff0 358.5px,#8fc3e2 415.5px,#3d97ce 497.5px,#2188c6 551.5px,#1e86c6 563.5px,#1e86c6 568.5px,#1983c4 573.5px,#2188c6 578.5px,#117fc2 583.5px,#268ac8 588.5px,#2288c7 590.5px,#087ac0 594.5px,#117fc2 596.5px,#3191cb 599.5px,#3492cb 600.5px,#2f8fca 601.5px,#0076be 604.5px,#0076be 607.5px,#1782c4 608.5px,#459bcf 609.5px,#b1d5eb 611.5px,#deedf7 612.5px,#f9fcfe 613.5px,#ffffff)"></i><i style="left:604px;background:linear-gradient(#f1f8fc,#e4f1f8 55.5px,#f1f7fb 97.5px,#fffffe 119.5px,#fbe5d7 141.5px,#f8ceb5 172.5px,#f6bb98 221.5px,#f6be9c 252.5px,#f9ceb5 279.5px,#fce9de 300.5px,#feffff 311.5px,#c1deef 367.5px,#6db1da 448.5px,#3894cc 505.5px,#2288c7 553.5px,#1e86c6 563.5px,#1e86c6 568.5px,#1883c4 573.5px,#2188c6 578.5px,#127fc2 583.5px,#268ac8 588.5px,#2288c7 590.5px,#087ac0 594.5px,#107fc2 596.5px,#3190cb 599.5px,#3492cb 600.5px,#2f8fca 601.5px,#0076be 604.5px,#0076be 607.5px,#1682c4 608.5px,#449bcf 609.5px,#b1d5eb 611.5px,#deedf7 612.5px,#f9fcfe 613.5px,#ffffff);width:1px"></i></div><div class="h" style="left:1232px;top:70px;width:290px;height:621px"><i style="left:0px;background:linear-gradient(#ffffff,#ffffff)"></i><i style="left:2px;background:linear-gradient(#ffffff,#ffffff)"></i><i style="left:4px;background:linear-gradient(#ffffff,#ffffff)"></i><i style="left:6px;background:linear-gradient(#ffffff,#ffffff)"></i><i style="left:8px;background:linear-gradient(#ffffff,#ffffff)"></i><i style="left:10px;background:linear-gradient(#ffffff,#ffffff)"></i><i style="left:12px;background:linear-gradient(#ffffff,#ffffff)"></i><i style="left:14px;background:linear-gradient(#ffffff,#ffffff)"></i><i style="left:16px;background:linear-gradient(#ffffff,#ffffff)"></i><i style="left:18px;background:linear-gradient(#ffffff,#ffffff)"></i><i style="left:20px;background:linear-gradient(#ffffff,#ffffff)"></i><i style="left:22px;background:linear-gradient(#ffffff,#ffffff)"></i><i style="left:24px;background:linear-gradient(#ffffff,#ffffff)"></i><i style="left:26px;background:linear-gradient(#ffffff,#ffffff)"></i><i style="left:28px;background:linear-gradient(#ffffff,#ffffff)"></i><i style="left:30px;background:linear-gradient(#ffffff,#ffffff 572.5px,#ffffff)"></i><i style="left:32px;background:linear-gradient(#ffffff,#ffffff 560.5px,#ffffff)"></i><i style="left:34px;background:linear-gradient(#ffffff,#feffff 555.5px,#ffffff)"></i><i style="left:36px;background:linear-gradient(#ffffff,#fefeff 553.5px,#ffffff)"></i><i style="left:38px;background:linear-gradient(#ffffff,#fcfefe 516.5px,#fefeff 554.5px,#ffffff)"></i><i style="left:40px;background:linear-gradient(#ffffff,#fdfefe 409.5px,#fdfefe 550.5px,#ffffff 602.5px,#ffffff)"></i><i style="left:42px;background:linear-gradient(#ffffff,#fdfefe 365.5px,#fcfdfe 549.5px,#ffffff 591.5px,#ffffff)"></i><i style="left:44px;background:linear-gradient(#ffffff,#fdfeff 338.5px,#fbfdfe 548.5px,#ffffff 585.5px,#ffffff)"></i><i style="left:46px;background:linear-gradient(#ffffff,#fdfeff 320.5px,#fafcfe 547.5px,#ffffff 581.5px,#ffffff)"></i><i style="left:48px;background:linear-gradient(#ffffff,#fdfeff 304.5px,#f8fbfd 547.5px,#ffffff 579.5px,#ffffff)"></i><i style="left:50px;background:linear-gradient(#ffffff,#fdfeff 292.5px,#f7fafd 546.5px,#feffff 576.5px,#ffffff)"></i><i style="left:52px;background:linear-gradient(#ffffff,#fdfeff 281.5px,#f5fafc 546.5px,#feffff 575.5px,#ffffff)"></i><i style="left:54px;background:linear-gradient(#ffffff,#fdfeff 272.5px,#f3f8fc 545.5px,#fdfeff 573.5px,#ffffff)"></i><i style="left:56px;background:linear-gradient(#ffffff,#fdfeff 266.5px,#f2f8fc 504.5px,#f1f8fb 546.5px,#fdfeff 574.5px,#ffffff)"></i><i style="left:58px;background:linear-gradient(#ffffff,#fdfeff 259.5px,#f1f7fb 482.5px,#eef6fb 545.5px,#fcfdfe 572.5px,#ffffff 600.5px,#ffffff)"></i><i style="left:60px;background:linear-gradient(#ffffff,#fdfeff 252.5px,#eff6fb 470.5px,#ebf4fa 545.5px,#fbfdfe 572.5px,#ffffff 595.5px,#ffffff)"></i><i style="left:62px;background:linear-gradient(#ffffff,#fdfeff 246.5px,#edf5fa 462.5px,#e8f3f9 535.5px,#e8f3f9 545.5px,#fafdfe 572.5px,#ffffff 592.5px,#ffffff)"></i><i style="left:64px;background:linear-gradient(#ffffff,#fdfeff 240.5px,#ebf4fa 451.5px,#e6f1f9 527.5px,#e4f1f8 545.5px,#fafcfe 573.5px,#ffffff 591.5px,#ffffff)"></i><i style="left:66px;background:linear-gradient(#ffffff,#fdfeff 234.5px,#e8f3f9 443.5px,#e3f0f8 522.5px,#e1eff7 545.5px,#f9fcfe 574.5px,#feffff 591.5px,#ffffff)"></i><i style="left:68px;background:linear-gradient(#ffffff,#fdfeff 228.5px,#f2f8fc 325.5px,#e5f1f8 445.5px,#dfeef7 519.5px,#dcecf6 545.5px,#f8fbfd 575.5px,#feffff 591.5px,#ffffff)"></i><i style="left:70px;background:linear-gradient(#ffffff,#fefeff 223.5px,#f4f9fc 304.5px,#e4f1f8 414.5px,#dbecf6 517.5px,#d8eaf5 545.5px,#f8fbfd 577.5px,#feffff 592.5px,#ffffff)"></i><i style="left:72px;background:linear-gradient(#ffffff,#fefeff 219.5px,#f4f9fc 294.5px,#e3f0f8 397.5px,#dbecf6 486.5px,#d6e9f5 522.5px,#d2e7f4 545.5px,#f8fbfd 578.5px,#fefeff 592.5px,#ffffff)"></i><i style="left:74px;background:linear-gradient(#ffffff,#fefeff 215.5px,#f4f9fc 284.5px,#e1eff7 388.5px,#d7e9f5 479.5px,#d2e7f4 516.5px,#cde4f2 545.5px,#f6fafd 578.5px,#fdfeff 591.5px,#ffffff)"></i><i style="left:76px;background:linear-gradient(#ffffff,#fefeff 212.5px,#f4f9fc 277.5px,#deedf6 383.5px,#d3e7f4 472.5px,#cfe5f3 511.5px,#c6e0f0 544.5px,#f5fafc 579.5px,#fdfefe 591.5px,#ffffff 618.5px,#ffffff)"></i><i style="left:78px;background:linear-gradient(#ffffff,#fefeff 208.5px,#f4f9fc 272.5px,#daebf6 379.5px,#cee5f2 467.5px,#cae3f2 508.5px,#bfddef 544.5px,#e6f1f9 570.5px,#f5f9fc 581.5px,#fdfefe 593.5px,#ffffff 619.5px,#ffffff)"></i><i style="left:80px;background:linear-gradient(#ffffff,#fefeff 205.5px,#f3f9fc 269.5px,#d7e9f5 375.5px,#c9e2f1 464.5px,#c5e0f0 507.5px,#b8d9ed 544.5px,#dfeef7 569.5px,#f1f8fb 580.5px,#fbfdfe 591.5px,#ffffff 608.5px,#ffffff)"></i><i style="left:82px;background:linear-gradient(#ffffff,#fefeff 202.5px,#f2f8fc 267.5px,#d3e7f4 373.5px,#c3dff0 462.5px,#c0ddef 502.5px,#b1d5eb 544.5px,#d8eaf5 568.5px,#edf5fa 579.5px,#f9fcfd 589.5px,#ffffff 603.5px,#ffffff)"></i><i style="left:84px;background:linear-gradient(#ffffff,#fefeff 199.5px,#f2f8fc 264.5px,#cfe5f3 371.5px,#bedcee 460.5px,#badaed 499.5px,#b5d7ec 515.5px,#a9d1e9 544.5px,#d2e7f4 568.5px,#e9f3f9 579.5px,#f7fbfd 589.5px,#feffff 602.5px,#ffffff)"></i><i style="left:86px;background:linear-gradient(#ffffff,#fefeff 197.5px,#f1f7fb 261.5px,#cae3f2 370.5px,#b8d9ed 455.5px,#b4d7ec 498.5px,#b0d4eb 513.5px,#a1cce7 544.5px,#c8e1f1 566.5px,#e5f1f8 579.5px,#f5fafd 589.5px,#fefeff 601.5px,#ffffff)"></i><i style="left:88px;background:linear-gradient(#ffffff,#fefeff 194.5px,#f0f7fb 258.5px,#d0e6f3 339.5px,#bfddef 392.5px,#b1d5eb 462.5px,#aed4ea 496.5px,#a9d1e9 512.5px,#99c8e5 544.5px,#bedcef 565.5px,#e3f0f8 580.5px,#f5f9fc 590.5px,#fefeff 602.5px,#ffffff)"></i><i style="left:90px;background:linear-gradient(#ffffff,#fefeff 192.5px,#f0f7fb 253.5px,#d1e6f3 328.5px,#c1deef 367.5px,#aed3ea 442.5px,#aad1e9 478.5px,#a7d0e9 498.5px,#a3cde7 511.5px,#90c3e3 544.5px,#abd2ea 559.5px,#bedcee 568.5px,#dcecf6 579.5px,#f1f7fb 589.5px,#fcfdfe 599.5px,#ffffff 610.5px,#ffffff)"></i><i style="left:92px;background:linear-gradient(#ffffff,#fefeff 190.5px,#f0f7fb 247.5px,#dcecf6 297.5px,#bfddef 358.5px,#aad1e9 429.5px,#a3cee8 472.5px,#a1cce7 496.5px,#9bc9e6 511.5px,#87bee0 544.5px,#9fcbe7 557.5px,#b6d8ed 568.5px,#d7e9f5 579.5px,#f0f7fb 590.5px,#fcfefe 600.5px,#ffffff 610.5px,#ffffff)"></i><i style="left:94px;background:linear-gradient(#ffffff,#fefeff 188.5px,#f1f7fb 241.5px,#dfeef7 284.5px,#badaed 358.5px,#a4cee8 425.5px,#9ccae6 470.5px,#9ac9e5 495.5px,#95c6e4 510.5px,#7ebade 544.5px,#94c5e4 556.5px,#aed4ea 568.5px,#d1e6f3 579.5px,#edf6fa 590.5px,#fcfdfe 600.5px,#ffffff 609.5px,#ffffff)"></i><i style="left:96px;background:linear-gradient(#ffffff,#fefeff 186.5px,#f3f8fc 231.5px,#e2eff8 274.5px,#bddbee 341.5px,#abd2ea 384.5px,#99c8e5 447.5px,#95c6e4 475.5px,#93c5e3 495.5px,#8dc2e2 510.5px,#74b5dc 544.5px,#8bc1e1 556.5px,#a6cfe8 568.5px,#cde4f2 580.5px,#edf5fa 591.5px,#fcfdfe 601.5px,#ffffff 609.5px,#ffffff)"></i><i style="left:98px;background:linear-gradient(#ffffff,#fefeff 184.5px,#f4f9fc 223.5px,#e2eff8 270.5px,#b9daed 339.5px,#a6cfe8 380.5px,#93c5e3 444.5px,#8ec2e2 472.5px,#8cc1e2 495.5px,#86bee0 510.5px,#6bb0d9 544.5px,#7fbade 555.5px,#9ac9e5 567.5px,#cae2f1 581.5px,#eaf4fa 591.5px,#fbfdfe 601.5px,#ffffff 608.5px,#ffffff)"></i><i style="left:100px;background:linear-gradient(#ffffff,#fefeff 182.5px,#f5f9fc 218.5px,#e1eff7 268.5px,#b6d8ec 337.5px,#a4cee8 371.5px,#8ec2e2 436.5px,#87bfe0 469.5px,#85bee0 494.5px,#7fbade 509.5px,#62abd7 544.5px,#76b5dc 555.5px,#91c4e3 567.5px,#c3dff0 581.5px,#e6f2f9 591.5px,#fbfdfe 601.5px,#ffffff 608.5px,#ffffff)"></i><i style="left:102px;background:linear-gradient(#ffffff,#fefeff 181.5px,#f5f9fc 215.5px,#dfeef7 267.5px,#b3d6ec 335.5px,#a4cee8 359.5px,#90c3e3 408.5px,#81bcdf 458.5px,#7ebade 494.5px,#77b6dc 509.5px,#58a6d5 544.5px,#6aafd9 554.5px,#88bfe1 567.5px,#c3dff0 583.5px,#e3f0f8 591.5px,#f8fbfd 600.5px,#ffffff 607.5px,#ffffff)"></i><i style="left:104px;background:linear-gradient(#ffffff,#fefeff 180.5px,#f5fafc 212.5px,#deedf7 265.5px,#b2d6eb 330.5px,#a2cde7 353.5px,#91c4e3 389.5px,#7ebade 443.5px,#79b7dd 469.5px,#77b6dc 494.5px,#70b2db 509.5px,#4fa1d2 544.5px,#61aad7 554.5px,#7ebade 567.5px,#bcdbee 583.5px,#dfeef7 591.5px,#f7fbfd 600.5px,#ffffff 607.5px,#ffffff)"></i><i style="left:106px;background:linear-gradient(#ffffff,#fefeff 179.5px,#f5f9fc 210.5px,#dcecf6 264.5px,#b0d5eb 327.5px,#9ecbe6 352.5px,#8dc2e2 385.5px,#78b7dd 441.5px,#73b4db 468.5px,#70b2db 494.5px,#69aed9 509.5px,#469cd0 544.5px,#57a5d4 554.5px,#75b5dc 567.5px,#b5d7ec 583.5px,#dbecf6 591.5px,#f6fafd 600.5px,#ffffff 607.5px,#ffffff)"></i><i style="left:108px;background:linear-gradient(#ffffff,#fefeff 178.5px,#f5f9fc 208.5px,#dbebf6 263.5px,#afd4ea 324.5px,#99c8e5 351.5px,#88bfe1 383.5px,#72b3db 440.5px,#6cb0da 468.5px,#6aafd9 493.5px,#62abd7 509.5px,#3d97ce 544.5px,#4ea0d2 554.5px,#6bb0d9 567.5px,#add3ea 583.5px,#d7eaf5 591.5px,#f5fafc 600.5px,#ffffff 606.5px,#ffffff)"></i><i style="left:110px;background:linear-gradient(#ffffff,#fefeff 178.5px,#f4f9fc 207.5px,#d9ebf5 262.5px,#acd3ea 322.5px,#94c6e4 351.5px,#83bcdf 382.5px,#6db0da 437.5px,#66add8 467.5px,#64acd7 493.5px,#5ba7d5 509.5px,#3592cb 544.5px,#459bd0 554.5px,#62abd7 567.5px,#a6cfe8 583.5px,#d3e7f4 591.5px,#f4f9fc 600.5px,#ffffff 606.5px,#ffffff)"></i><i style="left:112px;background:linear-gradient(#ffffff,#fefeff 177.5px,#f4f9fc 206.5px,#d7eaf5 262.5px,#aad1e9 321.5px,#90c4e3 350.5px,#7ebade 381.5px,#67add8 435.5px,#60a9d6 467.5px,#5ea8d6 493.5px,#55a4d4 509.5px,#2d8ec9 544.5px,#3c96cd 554.5px,#5ca8d5 568.5px,#9ecbe6 583.5px,#cfe5f3 591.5px,#f3f8fc 600.5px,#ffffff 606.5px,#ffffff)"></i><i style="left:114px;background:linear-gradient(#ffffff,#fefeff 177.5px,#f4f9fc 205.5px,#d6e9f5 261.5px,#b3d6ec 306.5px,#8cc1e2 350.5px,#7ab7dd 380.5px,#62abd7 433.5px,#5aa6d5 466.5px,#58a5d4 493.5px,#50a1d2 508.5px,#258ac7 544.5px,#3492cb 554.5px,#53a3d3 568.5px,#97c7e4 583.5px,#cae3f2 591.5px,#f1f8fc 600.5px,#ffffff 606.5px,#ffffff)"></i><i style="left:116px;background:linear-gradient(#ffffff,#fefeff 176.5px,#f3f9fc 204.5px,#d4e8f4 261.5px,#b4d7ec 301.5px,#8dc2e2 343.5px,#76b6dc 377.5px,#5da8d6 431.5px,#54a3d3 466.5px,#53a2d3 493.5px,#4a9ed1 508.5px,#1e86c6 544.5px,#2c8ec9 554.5px,#4b9ed1 568.5px,#8fc3e3 583.5px,#c6e0f0 591.5px,#f0f7fb 600.5px,#ffffff 606.5px,#ffffff)"></i><i style="left:118px;background:linear-gradient(#ffffff,#fefeff 176.5px,#f3f8fc 204.5px,#d3e7f4 261.5px,#b5d8ec 297.5px,#90c3e3 337.5px,#82bcdf 353.5px,#70b2db 380.5px,#58a5d4 432.5px,#4fa1d2 466.5px,#4ea0d2 493.5px,#459bd0 508.5px,#1782c4 544.5px,#258ac7 554.5px,#439acf 568.5px,#88bfe1 583.5px,#c2deef 591.5px,#eff6fb 600.5px,#ffffff 606.5px,#ffffff)"></i><i style="left:120px;background:linear-gradient(#ffffff,#fefeff 176.5px,#f2f8fc 204.5px,#d1e6f3 261.5px,#b6d8ec 294.5px,#90c3e3 334.5px,#80bbdf 351.5px,#6db1da 379.5px,#54a3d3 431.5px,#4b9ed1 466.5px,#499dd1 493.5px,#4098ce 508.5px,#107fc2 544.5px,#1c85c5 553.5px,#3c96cd 568.5px,#7cb8dd 582.5px,#89c0e1 584.5px,#bedcee 591.5px,#eef6fb 600.5px,#ffffff 606.5px,#ffffff)"></i><i style="left:122px;background:linear-gradient(#ffffff,#fefeff 176.5px,#f2f8fc 204.5px,#d0e6f3 261.5px,#b7d8ed 291.5px,#8fc3e2 332.5px,#7db9de 350.5px,#6aafd9 378.5px,#50a1d2 430.5px,#469cd0 465.5px,#459bd0 493.5px,#3b96cd 508.5px,#0b7cc1 544.5px,#1682c4 553.5px,#3592cc 568.5px,#75b5dc 582.5px,#83bddf 584.5px,#badaed 591.5px,#ecf5fa 600.5px,#fcfdfe 605.5px,#ffffff 607.5px,#ffffff)"></i><i style="left:124px;background:linear-gradient(#ffffff,#feffff 175.5px,#f2f8fc 203.5px,#cfe5f3 261.5px,#b8d9ed 288.5px,#8ec2e2 330.5px,#7ab8dd 350.5px,#67add8 378.5px,#4d9fd2 429.5px,#429acf 465.5px,#4199cf 493.5px,#3794cc 508.5px,#0679bf 544.5px,#107fc2 553.5px,#2f8fca 568.5px,#6fb2da 582.5px,#7ebade 584.5px,#b7d8ed 591.5px,#ebf4fa 600.5px,#f9fcfd 604.5px,#ffffff 606.5px,#ffffff)"></i><i style="left:126px;background:linear-gradient(#ffffff,#feffff 175.5px,#f1f8fb 203.5px,#cde4f2 261.5px,#b8d9ed 286.5px,#8dc2e2 329.5px,#78b7dd 349.5px,#64acd8 377.5px,#4b9ed1 426.5px,#3f98ce 465.5px,#3e97ce 493.5px,#3492cb 508.5px,#0177be 544.5px,#0b7cc1 553.5px,#298cc9 568.5px,#6aafd9 582.5px,#70b2db 583.5px,#b4d7ec 591.5px,#eaf4fa 600.5px,#f8fbfd 604.5px,#ffffff 606.5px,#ffffff)"></i><i style="left:128px;background:linear-gradient(#ffffff,#fefeff 175.5px,#f1f7fb 203.5px,#cce4f2 261.5px,#b9d9ed 284.5px,#8bc1e2 329.5px,#76b6dc 349.5px,#62aad7 377.5px,#499dd0 425.5px,#3c96cd 465.5px,#3b96cd 493.5px,#3190ca 508.5px,#0177be 541.5px,#0177be 548.5px,#097bc0 554.5px,#258ac7 568.5px,#65acd8 582.5px,#6cb0d9 583.5px,#b1d5eb 591.5px,#eaf3fa 600.5px,#f5fafc 603.5px,#ffffff 606.5px,#ffffff)"></i><i style="left:130px;background:linear-gradient(#ffffff,#fefeff 175.5px,#f0f7fb 203.5px,#cce3f2 261.5px,#b8d9ed 283.5px,#8bc1e1 328.5px,#74b4dc 349.5px,#60a9d6 377.5px,#479cd0 424.5px,#3a95cd 465.5px,#3894cc 493.5px,#2e8fca 508.5px,#0176be 539.5px,#0176be 551.5px,#2087c6 568.5px,#61aad7 582.5px,#68aed8 583.5px,#afd4eb 591.5px,#e9f3f9 600.5px,#f5f9fc 603.5px,#ffffff 606.5px,#ffffff)"></i><i style="left:132px;background:linear-gradient(#ffffff,#fefeff 175.5px,#f0f7fb 203.5px,#cbe3f2 261.5px,#b8d9ed 283.5px,#89c0e1 328.5px,#73b4db 349.5px,#5ea8d6 377.5px,#459bd0 423.5px,#3894cc 464.5px,#3693cc 493.5px,#2c8ec9 508.5px,#0076be 538.5px,#0176be 553.5px,#1d86c5 568.5px,#5ea8d6 582.5px,#64acd8 583.5px,#add3ea 591.5px,#e8f3f9 600.5px,#f4f9fc 603.5px,#ffffff 606.5px,#ffffff)"></i><i style="left:134px;background:linear-gradient(#ffffff,#fefeff 175.5px,#f0f7fb 203.5px,#cae3f2 261.5px,#b8d9ed 282.5px,#88bfe1 328.5px,#72b3db 349.5px,#5ca8d6 377.5px,#449acf 423.5px,#3693cc 464.5px,#3592cb 493.5px,#2a8dc9 508.5px,#0076be 536.5px,#0076be 554.5px,#1a84c5 568.5px,#5ba7d5 582.5px,#62aad7 583.5px,#abd2ea 591.5px,#e8f2f9 600.5px,#f4f9fc 603.5px,#ffffff 606.5px,#ffffff)"></i><i style="left:136px;background:linear-gradient(#ffffff,#fefeff 175.5px,#f0f7fb 203.5px,#cae3f1 261.5px,#b7d9ed 282.5px,#88bfe1 328.5px,#71b2db 349.5px,#5ba7d5 377.5px,#429acf 423.5px,#3592cb 464.5px,#3392cb 493.5px,#298cc8 508.5px,#0076be 535.5px,#0076be 555.5px,#1883c4 568.5px,#59a6d5 582.5px,#60a9d6 583.5px,#aad1e9 591.5px,#e7f2f9 600.5px,#f4f9fc 603.5px,#ffffff 606.5px,#ffffff)"></i><i style="left:138px;background:linear-gradient(#ffffff,#fefeff 175.5px,#f0f7fb 203.5px,#cae2f1 261.5px,#b8d9ed 281.5px,#87bfe0 328.5px,#70b2db 349.5px,#5ba7d5 377.5px,#4299cf 423.5px,#3492cb 464.5px,#3291cb 493.5px,#288cc8 508.5px,#0076be 534.5px,#0076be 556.5px,#1782c4 568.5px,#58a5d4 582.5px,#5ea9d6 583.5px,#a9d1e9 591.5px,#e7f2f9 600.5px,#f4f9fc 603.5px,#feffff 606.5px,#ffffff)"></i><i style="left:140px;background:linear-gradient(#ffffff,#fefeff 175.5px,#eff7fb 203.5px,#cae2f1 261.5px,#b8d9ed 281.5px,#87bee0 328.5px,#70b2da 349.5px,#5aa6d5 377.5px,#4299cf 422.5px,#3392cb 463.5px,#3291cb 493.5px,#288bc8 508.5px,#0076be 534.5px,#0076be 556.5px,#1682c4 568.5px,#57a5d4 582.5px,#5da8d6 583.5px,#a9d1e9 591.5px,#e7f2f9 600.5px,#f0f7fb 602.5px,#feffff 606.5px,#ffffff)"></i><i style="left:142px;background:linear-gradient(#ffffff,#fefeff 175.5px,#eff7fb 203.5px,#c9e2f1 261.5px,#b8d9ed 281.5px,#87bee0 328.5px,#6fb2da 349.5px,#5aa6d5 377.5px,#4199cf 422.5px,#3391cb 463.5px,#3291cb 493.5px,#278bc8 508.5px,#0076be 534.5px,#0177be 557.5px,#1682c4 568.5px,#57a4d4 582.5px,#5da8d6 583.5px,#a8d0e9 591.5px,#e7f2f9 600.5px,#f0f7fb 602.5px,#feffff 606.5px,#ffffff)"></i><i style="left:144px;background:linear-gradient(#ffffff,#fefeff 175.5px,#eff7fb 203.5px,#c9e2f1 261.5px,#b8d9ed 281.5px,#87bee0 328.5px,#6fb2da 349.5px,#5aa6d5 377.5px,#4199cf 422.5px,#3391cb 463.5px,#3291cb 493.5px,#278bc8 508.5px,#0076be 534.5px,#0177be 557.5px,#1682c3 568.5px,#56a4d4 582.5px,#5da8d6 583.5px,#a8d0e9 591.5px,#e7f2f9 600.5px,#f0f7fb 602.5px,#feffff 606.5px,#ffffff)"></i><i style="left:146px;background:linear-gradient(#ffffff,#fefeff 175.5px,#eff7fb 203.5px,#c9e2f1 261.5px,#b8d9ed 281.5px,#87bee0 328.5px,#6fb2da 349.5px,#5aa6d5 377.5px,#4199cf 422.5px,#3391cb 463.5px,#3291cb 493.5px,#278bc8 508.5px,#0076be 534.5px,#0177be 557.5px,#1682c4 568.5px,#57a5d4 582.5px,#5da8d6 583.5px,#a8d0e9 591.5px,#e7f2f9 600.5px,#f0f7fb 602.5px,#feffff 606.5px,#ffffff)"></i><i style="left:148px;background:linear-gradient(#ffffff,#fefeff 175.5px,#eff7fb 203.5px,#cae2f1 261.5px,#b8d9ed 281.5px,#87bee0 328.5px,#70b2da 349.5px,#5aa7d5 377.5px,#4299cf 422.5px,#3392cb 463.5px,#3291cb 493.5px,#288bc8 508.5px,#0076be 534.5px,#0076be 556.5px,#1682c4 568.5px,#57a5d4 582.5px,#5ea8d6 583.5px,#a9d1e9 591.5px,#e7f2f9 600.5px,#f0f7fb 602.5px,#feffff 606.5px,#ffffff)"></i><i style="left:150px;background:linear-gradient(#ffffff,#fefeff 175.5px,#f0f7fb 203.5px,#cae2f1 261.5px,#b7d8ed 282.5px,#87bfe0 328.5px,#70b2db 349.5px,#5ba7d5 377.5px,#4299cf 423.5px,#3492cb 464.5px,#3391cb 493.5px,#298cc8 508.5px,#0076be 535.5px,#0177be 556.5px,#1783c4 568.5px,#58a5d5 582.5px,#5fa9d6 583.5px,#a9d1e9 591.5px,#e7f2f9 600.5px,#f4f9fc 603.5px,#feffff 606.5px,#ffffff)"></i><i style="left:152px;background:linear-gradient(#ffffff,#fefeff 175.5px,#f0f7fb 203.5px,#cae3f2 261.5px,#b8d9ed 282.5px,#88bfe1 328.5px,#71b3db 349.5px,#5ca7d5 377.5px,#439acf 423.5px,#3593cc 464.5px,#3492cb 493.5px,#2a8cc9 508.5px,#0076be 536.5px,#0176be 555.5px,#1983c4 568.5px,#5aa6d5 582.5px,#60aad7 583.5px,#aad2e9 591.5px,#e7f2f9 600.5px,#f4f9fc 603.5px,#ffffff 606.5px,#ffffff)"></i><i style="left:154px;background:linear-gradient(#ffffff,#fefeff 175.5px,#f0f7fb 203.5px,#cbe3f2 261.5px,#b8d9ed 282.5px,#89c0e1 328.5px,#72b3db 349.5px,#5da8d6 377.5px,#449bcf 423.5px,#3693cc 464.5px,#3593cc 493.5px,#2b8dc9 508.5px,#0076be 537.5px,#0176be 554.5px,#1b85c5 568.5px,#5ca8d6 582.5px,#63abd7 583.5px,#acd2ea 591.5px,#e8f3f9 600.5px,#f4f9fc 603.5px,#ffffff 606.5px,#ffffff)"></i><i style="left:156px;background:linear-gradient(#ffffff,#fefeff 175.5px,#f0f7fb 203.5px,#cbe3f2 261.5px,#b8d9ed 283.5px,#8ac0e1 328.5px,#73b4db 349.5px,#5ea9d6 377.5px,#459bd0 424.5px,#3894cc 465.5px,#3794cc 493.5px,#2d8ec9 508.5px,#0076be 538.5px,#0076be 552.5px,#1e86c6 568.5px,#5fa9d6 582.5px,#66add8 583.5px,#add3ea 591.5px,#e8f3f9 600.5px,#f4f9fc 603.5px,#ffffff 606.5px,#ffffff)"></i><i style="left:158px;background:linear-gradient(#ffffff,#fefeff 175.5px,#f0f7fb 203.5px,#cce4f2 261.5px,#b8d9ed 284.5px,#8ac0e1 329.5px,#75b5dc 349.5px,#60aad7 377.5px,#489cd0 424.5px,#3b95cd 465.5px,#3995cd 493.5px,#2f8fca 508.5px,#0176be 540.5px,#0177be 550.5px,#0e7ec2 558.5px,#2288c7 568.5px,#63abd7 582.5px,#69aed9 583.5px,#b0d4eb 591.5px,#e9f3f9 600.5px,#f5f9fc 603.5px,#ffffff 606.5px,#ffffff)"></i><i style="left:160px;background:linear-gradient(#ffffff,#feffff 175.5px,#f1f7fb 203.5px,#cde4f2 261.5px,#b8d9ed 285.5px,#8cc1e2 329.5px,#77b6dc 349.5px,#63abd7 377.5px,#4a9ed1 425.5px,#3d97ce 465.5px,#3c96cd 493.5px,#3291cb 508.5px,#0177be 542.5px,#0176be 546.5px,#0b7cc1 554.5px,#268bc8 568.5px,#67add8 582.5px,#6db1da 583.5px,#b2d6eb 591.5px,#eaf4fa 600.5px,#f5fafc 603.5px,#ffffff 606.5px,#ffffff)"></i><i style="left:162px;background:linear-gradient(#ffffff,#feffff 175.5px,#f1f8fc 203.5px,#cee5f2 261.5px,#b8d9ed 287.5px,#8dc2e2 330.5px,#79b7dd 349.5px,#65acd8 378.5px,#4b9ed1 428.5px,#4099ce 465.5px,#3f98ce 493.5px,#3593cc 508.5px,#0378bf 544.5px,#0d7dc1 553.5px,#2c8dc9 568.5px,#6cb0da 582.5px,#72b3db 583.5px,#b5d7ec 591.5px,#ebf4fa 600.5px,#f9fcfd 604.5px,#ffffff 606.5px,#ffffff)"></i><i style="left:164px;background:linear-gradient(#ffffff,#fefeff 176.5px,#f2f8fc 203.5px,#cfe5f3 261.5px,#b7d9ed 289.5px,#8ec2e2 331.5px,#7bb8dd 350.5px,#68aed8 378.5px,#4ea0d2 429.5px,#449bcf 465.5px,#429acf 493.5px,#3995cd 508.5px,#087ac0 544.5px,#1380c3 553.5px,#3190cb 568.5px,#72b3db 582.5px,#80bbdf 584.5px,#b8d9ed 591.5px,#ecf5fa 600.5px,#fcfdfe 605.5px,#ffffff 606.5px,#ffffff)"></i><i style="left:166px;background:linear-gradient(#ffffff,#fefeff 176.5px,#f2f8fc 204.5px,#d0e6f3 261.5px,#b7d8ed 292.5px,#8fc3e2 333.5px,#7fbade 350.5px,#6bb0d9 378.5px,#52a2d3 430.5px,#489dd0 465.5px,#469cd0 493.5px,#3d97ce 508.5px,#0d7dc1 544.5px,#1883c4 553.5px,#3894cc 568.5px,#78b6dd 582.5px,#86bee0 584.5px,#bcdbee 591.5px,#edf5fa 600.5px,#ffffff 606.5px,#ffffff)"></i><i style="left:168px;background:linear-gradient(#ffffff,#fefeff 176.5px,#f2f8fc 204.5px,#d2e7f3 261.5px,#b6d8ec 295.5px,#90c3e3 335.5px,#81bbdf 351.5px,#6fb1da 379.5px,#56a4d4 431.5px,#4c9fd1 466.5px,#4b9ed1 493.5px,#4299cf 508.5px,#1380c3 544.5px,#1f87c6 553.5px,#3f98ce 568.5px,#84bde0 583.5px,#c0ddef 591.5px,#eef6fb 600.5px,#ffffff 606.5px,#ffffff)"></i><i style="left:170px;background:linear-gradient(#ffffff,#fefeff 176.5px,#f3f9fc 204.5px,#d3e8f4 261.5px,#b5d7ec 299.5px,#8fc3e2 339.5px,#80bbdf 358.5px,#70b2da 385.5px,#59a6d5 437.5px,#51a2d3 466.5px,#50a1d2 493.5px,#479cd0 508.5px,#1a84c5 544.5px,#288bc8 554.5px,#469cd0 568.5px,#8bc1e1 583.5px,#c4dff0 591.5px,#eff7fb 600.5px,#ffffff 606.5px,#ffffff)"></i><i style="left:172px;background:linear-gradient(#ffffff,#fefeff 176.5px,#f4f9fc 204.5px,#d5e8f4 261.5px,#b4d7ec 303.5px,#8ac0e1 350.5px,#77b6dc 380.5px,#5fa9d6 433.5px,#57a5d4 466.5px,#55a4d4 493.5px,#4d9fd2 508.5px,#2187c6 544.5px,#2f8fca 554.5px,#4ea0d2 568.5px,#92c5e3 583.5px,#c8e1f1 591.5px,#f1f7fb 600.5px,#ffffff 606.5px,#ffffff)"></i><i style="left:174px;background:linear-gradient(#ffffff,#fefeff 177.5px,#f4f9fc 205.5px,#d7e9f5 261.5px,#b2d5eb 309.5px,#8ec2e2 350.5px,#7cb8dd 380.5px,#64acd8 434.5px,#5ca8d5 466.5px,#5ba7d5 493.5px,#52a2d3 508.5px,#288cc8 544.5px,#3794cc 554.5px,#57a5d4 568.5px,#9ac9e5 583.5px,#cce4f2 591.5px,#f2f8fc 600.5px,#ffffff 606.5px,#ffffff)"></i><i style="left:176px;background:linear-gradient(#ffffff,#fefeff 177.5px,#f4f9fc 206.5px,#d8eaf5 262.5px,#abd2ea 321.5px,#92c5e3 350.5px,#80bbdf 381.5px,#6aafd9 435.5px,#62abd7 467.5px,#60aad7 493.5px,#57a5d4 509.5px,#3090ca 544.5px,#4098ce 554.5px,#5da8d6 567.5px,#9ccae6 582.5px,#d0e6f3 591.5px,#f3f9fc 600.5px,#ffffff 606.5px,#ffffff)"></i><i style="left:178px;background:linear-gradient(#ffffff,#fefeff 178.5px,#f5f9fc 207.5px,#daebf6 262.5px,#aed3ea 322.5px,#96c7e4 351.5px,#85bde0 383.5px,#6fb1da 439.5px,#68aed9 467.5px,#67add8 493.5px,#5ea9d6 509.5px,#3894cc 544.5px,#499dd1 554.5px,#66add8 567.5px,#a9d1e9 583.5px,#d5e8f4 591.5px,#f4f9fc 600.5px,#ffffff 606.5px,#ffffff)"></i><i style="left:180px;background:linear-gradient(#ffffff,#fefeff 178.5px,#f5fafc 208.5px,#dcecf6 263.5px,#b0d5eb 324.5px,#9bc9e6 351.5px,#8ac0e1 384.5px,#74b5dc 441.5px,#6fb2da 468.5px,#6db0da 494.5px,#65acd8 509.5px,#4199cf 544.5px,#52a2d3 554.5px,#6fb2da 567.5px,#b0d5eb 583.5px,#d9eaf5 591.5px,#f6fafd 600.5px,#ffffff 607.5px,#ffffff)"></i><i style="left:182px;background:linear-gradient(#ffffff,#fefeff 179.5px,#f5fafc 210.5px,#ddedf6 264.5px,#b2d6eb 327.5px,#a0cce7 352.5px,#8fc3e2 386.5px,#7bb8dd 442.5px,#75b5dc 468.5px,#73b4db 494.5px,#6cb0da 509.5px,#4a9ed1 544.5px,#5ba7d5 554.5px,#79b7dd 567.5px,#b8d9ed 583.5px,#ddedf6 591.5px,#f7fbfd 600.5px,#ffffff 607.5px,#ffffff)"></i><i style="left:184px;background:linear-gradient(#ffffff,#fefeff 180.5px,#f5fafd 212.5px,#dfeef7 265.5px,#b3d6ec 331.5px,#a4cee8 354.5px,#92c5e3 391.5px,#81bbdf 444.5px,#7cb9de 469.5px,#7ab8dd 494.5px,#73b4db 509.5px,#53a3d3 544.5px,#64acd8 554.5px,#82bcdf 567.5px,#bfddef 583.5px,#e1eff7 591.5px,#f8fbfd 600.5px,#ffffff 607.5px,#ffffff)"></i><i style="left:186px;background:linear-gradient(#ffffff,#fefeff 181.5px,#f5f9fc 216.5px,#dfeef7 268.5px,#b4d7ec 336.5px,#a4cee8 364.5px,#8dc2e2 424.5px,#83bddf 467.5px,#81bbdf 494.5px,#7bb8dd 509.5px,#5ca8d6 544.5px,#70b2db 555.5px,#8cc1e2 567.5px,#cbe3f2 584.5px,#e7f2f9 592.5px,#fafcfe 601.5px,#ffffff 607.5px,#ffffff)"></i><i style="left:188px;background:linear-gradient(#ffffff,#fefeff 183.5px,#f4f9fc 221.5px,#e1eff7 269.5px,#b7d8ed 338.5px,#a4cee8 377.5px,#8fc3e3 441.5px,#8ac0e1 470.5px,#88bfe1 494.5px,#81bbdf 510.5px,#66add8 544.5px,#7ab7dd 555.5px,#95c6e4 567.5px,#c6e0f0 581.5px,#e8f3f9 591.5px,#fbfdfe 601.5px,#ffffff 608.5px,#ffffff)"></i><i style="left:190px;background:linear-gradient(#ffffff,#fefeff 184.5px,#f4f9fc 223.5px,#e3f0f8 270.5px,#bbdaee 340.5px,#a8d0e9 382.5px,#95c6e4 445.5px,#91c4e3 473.5px,#8fc3e2 495.5px,#89bfe1 510.5px,#6fb2da 544.5px,#83bcdf 555.5px,#9ecbe6 567.5px,#cce4f2 581.5px,#ebf4fa 591.5px,#fcfdfe 601.5px,#ffffff 609.5px,#ffffff)"></i><i style="left:192px;background:linear-gradient(#ffffff,#fefeff 187.5px,#f1f8fc 237.5px,#e0eef7 279.5px,#b7d9ed 357.5px,#a3cde7 418.5px,#98c8e5 468.5px,#96c7e4 495.5px,#90c3e3 510.5px,#78b7dd 544.5px,#8fc3e2 556.5px,#a9d1e9 568.5px,#cde4f2 579.5px,#ecf5fa 590.5px,#fbfdfe 600.5px,#ffffff 609.5px,#ffffff)"></i><i style="left:194px;background:linear-gradient(#ffffff,#fefeff 189.5px,#f0f7fb 245.5px,#ddedf6 291.5px,#bcdbee 358.5px,#a7d0e9 426.5px,#9fcce7 470.5px,#9dcae6 495.5px,#98c7e5 510.5px,#82bcdf 544.5px,#98c7e5 556.5px,#b2d6eb 568.5px,#d3e8f4 579.5px,#eff6fb 590.5px,#fcfdfe 600.5px,#ffffff 610.5px,#ffffff)"></i><i style="left:196px;background:linear-gradient(#ffffff,#fefeff 191.5px,#f0f7fb 250.5px,#d9ebf5 306.5px,#c1deef 359.5px,#acd2ea 431.5px,#a6cfe8 473.5px,#a3cee8 496.5px,#9ecbe6 511.5px,#8bc0e1 544.5px,#a2cde7 557.5px,#badaed 568.5px,#d9ebf5 579.5px,#eff7fb 589.5px,#fbfdfe 598.5px,#ffffff 608.5px,#ffffff)"></i><i style="left:198px;background:linear-gradient(#ffffff,#fefeff 193.5px,#f0f7fb 256.5px,#d0e6f3 333.5px,#c0ddef 376.5px,#afd4eb 452.5px,#aad1e9 497.5px,#a6cfe8 511.5px,#94c5e4 544.5px,#b1d5eb 560.5px,#c1deef 568.5px,#deedf7 579.5px,#f2f8fc 589.5px,#fdfefe 600.5px,#ffffff 614.5px,#ffffff)"></i><i style="left:200px;background:linear-gradient(#ffffff,#fefeff 195.5px,#f0f7fb 260.5px,#c8e1f1 369.5px,#b5d7ec 452.5px,#b0d5eb 498.5px,#acd2ea 512.5px,#9ccae6 544.5px,#c1deef 565.5px,#e5f1f8 580.5px,#f5fafd 590.5px,#fefeff 602.5px,#ffffff)"></i><i style="left:202px;background:linear-gradient(#ffffff,#fefeff 198.5px,#f1f7fb 263.5px,#cce4f2 370.5px,#bbdaee 457.5px,#b7d8ed 499.5px,#b2d6eb 514.5px,#a4cee8 544.5px,#cce4f2 567.5px,#e7f2f9 579.5px,#f6fafd 589.5px,#fefeff 601.5px,#ffffff)"></i><i style="left:204px;background:linear-gradient(#ffffff,#fefeff 200.5px,#f2f8fc 265.5px,#d0e6f3 372.5px,#c0ddef 461.5px,#bddbee 500.5px,#b7d8ed 518.5px,#acd3ea 544.5px,#d5e8f4 568.5px,#ebf4fa 579.5px,#f8fbfd 589.5px,#ffffff 603.5px,#ffffff)"></i><i style="left:206px;background:linear-gradient(#ffffff,#fefeff 203.5px,#f3f8fc 268.5px,#d5e8f4 373.5px,#c6e0f0 463.5px,#c2deef 505.5px,#b4d7ec 544.5px,#daebf6 568.5px,#eef6fb 579.5px,#f9fcfe 589.5px,#ffffff 604.5px,#ffffff)"></i><i style="left:208px;background:linear-gradient(#ffffff,#fefeff 207.5px,#f3f9fc 271.5px,#d8eaf5 376.5px,#cbe3f2 465.5px,#c7e1f1 507.5px,#bbdbee 544.5px,#e1eff7 569.5px,#f2f8fc 580.5px,#fcfdfe 591.5px,#ffffff 609.5px,#ffffff)"></i><i style="left:210px;background:linear-gradient(#ffffff,#fefeff 210.5px,#f4f9fc 273.5px,#dcecf6 381.5px,#d0e6f3 469.5px,#cce4f2 509.5px,#c2deef 544.5px,#e7f2f9 570.5px,#f6fafd 581.5px,#fdfeff 594.5px,#ffffff)"></i><i style="left:212px;background:linear-gradient(#ffffff,#fefeff 213.5px,#f4f9fc 279.5px,#dfeef7 385.5px,#d5e8f4 474.5px,#d0e6f3 513.5px,#c8e2f1 544.5px,#f6fafd 579.5px,#fdfeff 592.5px,#ffffff)"></i><i style="left:214px;background:linear-gradient(#ffffff,#fefeff 217.5px,#f4f9fc 288.5px,#e2eff8 391.5px,#d9eaf5 482.5px,#d4e8f4 518.5px,#cfe5f3 545.5px,#f7fbfd 578.5px,#fdfeff 591.5px,#ffffff)"></i><i style="left:216px;background:linear-gradient(#ffffff,#fdfeff 221.5px,#f4f9fc 298.5px,#e4f0f8 402.5px,#ddedf6 490.5px,#d5e9f4 534.5px,#d5e8f4 545.5px,#f8fbfd 577.5px,#fefeff 591.5px,#ffffff)"></i><i style="left:218px;background:linear-gradient(#ffffff,#fdfeff 225.5px,#f4f9fc 309.5px,#e5f1f8 422.5px,#ddedf6 518.5px,#daebf5 545.5px,#f8fbfd 576.5px,#feffff 591.5px,#ffffff)"></i><i style="left:220px;background:linear-gradient(#ffffff,#fdfeff 230.5px,#f1f8fc 335.5px,#e5f1f8 467.5px,#e0eff7 522.5px,#deedf7 545.5px,#f9fcfd 575.5px,#feffff 591.5px,#ffffff)"></i><i style="left:222px;background:linear-gradient(#ffffff,#fdfeff 236.5px,#e9f3f9 447.5px,#e4f0f8 524.5px,#e2f0f8 545.5px,#fafcfe 574.5px,#ffffff 592.5px,#ffffff)"></i><i style="left:224px;background:linear-gradient(#ffffff,#fdfeff 243.5px,#ebf5fa 456.5px,#e7f2f9 530.5px,#e6f2f9 545.5px,#fafcfe 573.5px,#ffffff 592.5px,#ffffff)"></i><i style="left:226px;background:linear-gradient(#ffffff,#fdfeff 249.5px,#eef6fb 465.5px,#e9f3f9 545.5px,#fbfdfe 572.5px,#ffffff 593.5px,#ffffff)"></i><i style="left:228px;background:linear-gradient(#ffffff,#fdfeff 255.5px,#f0f7fb 475.5px,#ecf5fa 545.5px,#fcfdfe 572.5px,#ffffff 597.5px,#ffffff)"></i><i style="left:230px;background:linear-gradient(#ffffff,#fdfeff 262.5px,#f2f8fc 488.5px,#eff6fb 545.5px,#fcfefe 572.5px,#ffffff 603.5px,#ffffff)"></i><i style="left:232px;background:linear-gradient(#ffffff,#fdfeff 268.5px,#f1f8fc 545.5px,#fdfeff 573.5px,#ffffff)"></i><i style="left:234px;background:linear-gradient(#ffffff,#fdfeff 275.5px,#f3f9fc 545.5px,#fefeff 573.5px,#ffffff)"></i><i style="left:236px;background:linear-gradient(#ffffff,#fdfeff 285.5px,#f6fafd 546.5px,#feffff 575.5px,#ffffff)"></i><i style="left:238px;background:linear-gradient(#ffffff,#fdfeff 297.5px,#f7fbfd 546.5px,#ffffff 577.5px,#ffffff)"></i><i style="left:240px;background:linear-gradient(#ffffff,#fdfeff 309.5px,#f9fcfd 547.5px,#ffffff 580.5px,#ffffff)"></i><i style="left:242px;background:linear-gradient(#ffffff,#fdfeff 327.5px,#fafcfe 547.5px,#ffffff 582.5px,#ffffff)"></i><i style="left:244px;background:linear-gradient(#ffffff,#fdfeff 347.5px,#fbfdfe 548.5px,#ffffff 587.5px,#ffffff)"></i><i style="left:246px;background:linear-gradient(#ffffff,#fdfefe 381.5px,#fcfdfe 549.5px,#ffffff 594.5px,#ffffff)"></i><i style="left:248px;background:linear-gradient(#ffffff,#fdfefe 435.5px,#fdfefe 550.5px,#ffffff 608.5px,#ffffff)"></i><i style="left:250px;background:linear-gradient(#ffffff,#fdfeff 552.5px,#ffffff)"></i><i style="left:252px;background:linear-gradient(#ffffff,#fefeff 554.5px,#ffffff)"></i><i style="left:254px;background:linear-gradient(#ffffff,#feffff 557.5px,#ffffff)"></i><i style="left:256px;background:linear-gradient(#ffffff,#ffffff 563.5px,#ffffff)"></i><i style="left:258px;background:linear-gradient(#ffffff,#ffffff)"></i><i style="left:260px;background:linear-gradient(#ffffff,#ffffff)"></i><i style="left:262px;background:linear-gradient(#ffffff,#ffffff)"></i><i style="left:264px;background:linear-gradient(#ffffff,#ffffff)"></i><i style="left:266px;background:linear-gradient(#ffffff,#ffffff)"></i><i style="left:268px;background:linear-gradient(#ffffff,#ffffff)"></i><i style="left:270px;background:linear-gradient(#ffffff,#ffffff)"></i><i style="left:272px;background:linear-gradient(#ffffff,#ffffff)"></i><i style="left:274px;background:linear-gradient(#ffffff,#ffffff)"></i><i style="left:276px;background:linear-gradient(#ffffff,#ffffff)"></i><i style="left:278px;background:linear-gradient(#ffffff,#ffffff)"></i><i style="left:280px;background:linear-gradient(#ffffff,#ffffff)"></i><i style="left:282px;background:linear-gradient(#ffffff,#ffffff)"></i><i style="left:284px;background:linear-gradient(#ffffff,#ffffff)"></i><i style="left:286px;background:linear-gradient(#ffffff,#ffffff)"></i><i style="left:288px;background:linear-gradient(#ffffff,#ffffff)"></i></div><svg width="1850" height="789" viewBox="0 0 1850 789" font-family="&#39;DejaVu Sans&#39;, &#39;Liberation Sans&#39;, sans-serif" fill="#000"><defs><linearGradient id="cbA" x2="0" y2="1"><stop offset="0" stop-color="#ed7833"/><stop offset="0.12" stop-color="#f3a87b"/><stop offset="0.2" stop-color="#f8cdb3"/><stop offset="0.25" stop-color="#fce7db"/><stop offset="0.28" stop-color="#fef7f3"/><stop offset="0.29" stop-color="#feffff"/><stop offset="0.86" stop-color="#0076be"/><stop offset="1" stop-color="#0076be"/></linearGradient><linearGradient id="cbB" x2="0" y2="1"><stop offset="0" stop-color="#ffffff"/><stop offset="1" stop-color="#0076be"/></linearGradient></defs><rect x="100" y="73.6" width="604.6" height="613.7" fill="none" stroke="#d9d9d9" stroke-width="1"/><path d="M99.7 700.2v-9.6M99.7 63.5v9.6M200.7 700.2v-9.6M200.7 63.5v9.6M301.7 700.2v-9.6M301.7 63.5v9.6M402.7 700.2v-9.6M402.7 63.5v9.6M503.7 700.2v-9.6M503.7 63.5v9.6M604.7 700.2v-9.6M604.7 63.5v9.6M705.7 700.2v-9.6M705.7 63.5v9.6M124.95 700.2v-6M124.95 63.5v6M150.2 700.2v-6M150.2 63.5v6M175.45 700.2v-6M175.45 63.5v6M225.95 700.2v-6M225.95 63.5v6M251.2 700.2v-6M251.2 63.5v6M276.45 700.2v-6M276.45 63.5v6M326.95 700.2v-6M326.95 63.5v6M352.2 700.2v-6M352.2 63.5v6M377.45 700.2v-6M377.45 63.5v6M427.95 700.2v-6M427.95 63.5v6M453.2 700.2v-6M453.2 63.5v6M478.45 700.2v-6M478.45 63.5v6M528.95 700.2v-6M528.95 63.5v6M554.2 700.2v-6M554.2 63.5v6M579.45 700.2v-6M579.45 63.5v6M629.95 700.2v-6M629.95 63.5v6M655.2 700.2v-6M655.2 63.5v6M680.45 700.2v-6M680.45 63.5v6M82.05 687.2h9.6M718.5 687.2h-9.6M82.05 565h9.6M718.5 565h-9.6M82.05 442.8h9.6M718.5 442.8h-9.6M82.05 320.6h9.6M718.5 320.6h-9.6M82.05 198.4h9.6M718.5 198.4h-9.6M82.05 76.2h9.6M718.5 76.2h-9.6M82.05 662.76h6M718.5 662.76h-6M82.05 638.32h6M718.5 638.32h-6M82.05 613.88h6M718.5 613.88h-6M82.05 589.44h6M718.5 589.44h-6M82.05 540.56h6M718.5 540.56h-6M82.05 516.12h6M718.5 516.12h-6M82.05 491.68h6M718.5 491.68h-6M82.05 467.24h6M718.5 467.24h-6M82.05 418.36h6M718.5 418.36h-6M82.05 393.92h6M718.5 393.92h-6M82.05 369.48h6M718.5 369.48h-6M82.05 345.04h6M718.5 345.04h-6M82.05 296.16h6M718.5 296.16h-6M82.05 271.72h6M718.5 271.72h-6M82.05 247.28h6M718.5 247.28h-6M82.05 222.84h6M718.5 222.84h-6M82.05 173.96h6M718.5 173.96h-6M82.05 149.52h6M718.5 149.52h-6M82.05 125.08h6M718.5 125.08h-6M82.05 100.64h6M718.5 100.64h-6" stroke="#808080" stroke-width="1.3" fill="none"/><rect x="82.05" y="63.5" width="636.45" height="636.7" stroke="#808080" stroke-width="1.5" fill="none"/><rect x="1058.8" y="69.7" width="618.7" height="621.8" fill="none" stroke="#dcdcdc" stroke-width="1.2"/><path d="M1115.05 704.4v-9.6M1115.05 59v9.6M1227.53 704.4v-9.6M1227.53 59v9.6M1340.03 704.4v-9.6M1340.03 59v9.6M1452.51 704.4v-9.6M1452.51 59v9.6M1565.01 704.4v-9.6M1565.01 59v9.6M1677.49 704.4v-9.6M1677.49 59v9.6M1058.8 704.4v-6M1058.8 59v6M1086.92 704.4v-6M1086.92 59v6M1143.17 704.4v-6M1143.17 59v6M1171.29 704.4v-6M1171.29 59v6M1199.41 704.4v-6M1199.41 59v6M1255.66 704.4v-6M1255.66 59v6M1283.78 704.4v-6M1283.78 59v6M1311.9 704.4v-6M1311.9 59v6M1368.15 704.4v-6M1368.15 59v6M1396.27 704.4v-6M1396.27 59v6M1424.39 704.4v-6M1424.39 59v6M1480.64 704.4v-6M1480.64 59v6M1508.76 704.4v-6M1508.76 59v6M1536.88 704.4v-6M1536.88 59v6M1593.13 704.4v-6M1593.13 59v6M1621.25 704.4v-6M1621.25 59v6M1649.37 704.4v-6M1649.37 59v6M1045.5 691.5h9.6M1690.5 691.5h-9.6M1045.5 567.66h9.6M1690.5 567.66h-9.6M1045.5 443.82h9.6M1690.5 443.82h-9.6M1045.5 319.98h9.6M1690.5 319.98h-9.6M1045.5 196.14h9.6M1690.5 196.14h-9.6M1045.5 72.3h9.6M1690.5 72.3h-9.6M1045.5 666.73h6M1690.5 666.73h-6M1045.5 641.96h6M1690.5 641.96h-6M1045.5 617.2h6M1690.5 617.2h-6M1045.5 592.43h6M1690.5 592.43h-6M1045.5 542.89h6M1690.5 542.89h-6M1045.5 518.12h6M1690.5 518.12h-6M1045.5 493.36h6M1690.5 493.36h-6M1045.5 468.59h6M1690.5 468.59h-6M1045.5 419.05h6M1690.5 419.05h-6M1045.5 394.28h6M1690.5 394.28h-6M1045.5 369.52h6M1690.5 369.52h-6M1045.5 344.75h6M1690.5 344.75h-6M1045.5 295.21h6M1690.5 295.21h-6M1045.5 270.44h6M1690.5 270.44h-6M1045.5 245.68h6M1690.5 245.68h-6M1045.5 220.91h6M1690.5 220.91h-6M1045.5 171.37h6M1690.5 171.37h-6M1045.5 146.6h6M1690.5 146.6h-6M1045.5 121.84h6M1690.5 121.84h-6M1045.5 97.07h6M1690.5 97.07h-6" stroke="#808080" stroke-width="1.3" fill="none"/><rect x="1045.5" y="59" width="645" height="645.4" stroke="#808080" stroke-width="1.5" fill="none"/><text x="100.1" y="730" font-size="25.5" text-anchor="middle">0</text><text x="201.1" y="730" font-size="25.5" text-anchor="middle">200</text><text x="302.1" y="730" font-size="25.5" text-anchor="middle">400</text><text x="403.1" y="730" font-size="25.5" text-anchor="middle">600</text><text x="504.1" y="730" font-size="25.5" text-anchor="middle">800</text><text x="605.1" y="730" font-size="25.5" text-anchor="middle">1000</text><text x="706.1" y="730" font-size="25.5" text-anchor="middle">1200</text><text x="75.6" y="695.9" font-size="25.5" text-anchor="end">0</text><text x="75.6" y="573.7" font-size="25.5" text-anchor="end">1</text><text x="75.6" y="451.5" font-size="25.5" text-anchor="end">2</text><text x="75.6" y="329.3" font-size="25.5" text-anchor="end">3</text><text x="75.6" y="207.1" font-size="25.5" text-anchor="end">4</text><text x="75.6" y="84.9" font-size="25.5" text-anchor="end">5</text><text x="1115.05" y="734.4" font-size="26.5" text-anchor="middle">60</text><text x="1227.53" y="734.4" font-size="26.5" text-anchor="middle">80</text><text x="1340.03" y="734.4" font-size="26.5" text-anchor="middle">100</text><text x="1452.51" y="734.4" font-size="26.5" text-anchor="middle">120</text><text x="1565.01" y="734.4" font-size="26.5" text-anchor="middle">140</text><text x="1677.49" y="734.4" font-size="26.5" text-anchor="middle">160</text><text x="1038.8" y="699.8" font-size="26" text-anchor="end">0</text><text x="1038.8" y="575.96" font-size="26" text-anchor="end">1</text><text x="1038.8" y="452.12" font-size="26" text-anchor="end">2</text><text x="1038.8" y="328.28" font-size="26" text-anchor="end">3</text><text x="1038.8" y="204.44" font-size="26" text-anchor="end">4</text><text x="1038.8" y="80.6" font-size="26" text-anchor="end">5</text><text x="3" y="31.8" font-size="34.3" text-anchor="start" font-weight="bold">A</text><text x="966" y="27.6" font-size="34.3" text-anchor="start" font-weight="bold">B</text><text x="402" y="774.1" font-size="28" text-anchor="middle"><tspan font-style="italic">τ</tspan> <tspan font-size="32" dy="3" dx="-1">(</tspan><tspan dy="-3" dx="-0.6">fs</tspan><tspan font-size="32" dy="3" dx="-0.6">)</tspan></text><text x="1369.5" y="779" font-size="28" text-anchor="middle"><tspan font-style="italic">τ</tspan> <tspan font-size="32" dy="3" dx="-1">(</tspan><tspan dy="-3" dx="-0.6">fs</tspan><tspan font-size="32" dy="3" dx="-0.6">)</tspan></text><text transform="translate(34.5 381) rotate(-90)" font-size="28" text-anchor="middle"><tspan font-style="italic">q</tspan> <tspan font-size="32" dy="3" dx="-1">(</tspan><tspan dy="-3" dx="-0.6">Å</tspan><tspan font-size="19" dy="-11">−1</tspan><tspan font-size="32" dy="14" dx="-0.6">)</tspan></text><text transform="translate(998.5 381.7) rotate(-90)" font-size="28" text-anchor="middle"><tspan font-style="italic">q</tspan> <tspan font-size="32" dy="3" dx="-1">(</tspan><tspan dy="-3" dx="-0.6">Å</tspan><tspan font-size="19" dy="-11">−1</tspan><tspan font-size="32" dy="14" dx="-0.6">)</tspan></text><rect x="779.8" y="189.5" width="28.4" height="420.2" fill="url(#cbA)" stroke="#c8c8c8" stroke-width="0.8"/><rect x="1735.2" y="189.7" width="28.5" height="420" fill="url(#cbB)" stroke="#c8c8c8" stroke-width="0.8"/><text x="822.6" y="198.6" font-size="25" text-anchor="start">2</text><text x="822.6" y="318.6" font-size="25" text-anchor="start">0</text><text x="823.6" y="438.6" font-size="25" text-anchor="start">–2</text><text x="823.6" y="558.6" font-size="25" text-anchor="start">–4</text><text x="1777.6" y="198.3" font-size="25" text-anchor="start">0</text><text x="1778" y="318.3" font-size="25" text-anchor="start">–0.02</text><text x="1778" y="438.3" font-size="25" text-anchor="start">–0.04</text><text x="1778" y="558.3" font-size="25" text-anchor="start">–0.06</text><path d="M808.2 189.5h6M808.2 249.5h6M808.2 309.5h6M808.2 369.5h6M808.2 429.5h6M808.2 489.5h6M808.2 549.5h6M808.2 609.5h6M1763.7 189.7h6M1763.7 249.7h6M1763.7 309.7h6M1763.7 369.7h6M1763.7 429.7h6M1763.7 489.7h6M1763.7 549.7h6M1763.7 609.7h6" stroke="#d0d0d0" stroke-width="1" fill="none"/><text x="764.8" y="158.7" font-size="30">%Δ<tspan font-style="italic">S</tspan><tspan font-size="20.5" dy="5">tot</tspan></text><text x="1738" y="158.7" font-size="30">%Δ<tspan font-style="italic">S</tspan><tspan font-size="20.5" dy="5">cm</tspan></text></svg></div></body></html>
